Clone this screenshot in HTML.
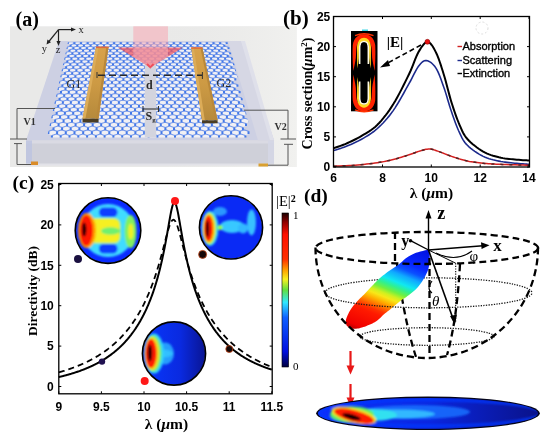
<!DOCTYPE html><html><head><meta charset="utf-8"><style>html,body{margin:0;padding:0;background:#fff;}svg{display:block}text{font-family:"Liberation Serif",serif}.s,.s text{font-family:"Liberation Sans",sans-serif}</style></head><body>
<svg width="550" height="443" viewBox="0 0 550 443">
<defs><linearGradient id="bgR" x1="0" x2="1" y1="0" y2="0"><stop offset="0" stop-color="#e9e9e8" stop-opacity="0"/><stop offset="1" stop-color="#f1f1ef"/></linearGradient>
<filter id="bl15" x="-20%" y="-20%" width="140%" height="140%"><feGaussianBlur stdDeviation="1.3"/></filter>
<filter id="bl1" x="-20%" y="-20%" width="140%" height="140%"><feGaussianBlur stdDeviation="1"/></filter>
<filter id="gblur" x="0" y="0" width="550" height="443" filterUnits="userSpaceOnUse"><feGaussianBlur stdDeviation="0.6"/></filter>
<linearGradient id="gold" x1="0" y1="0" x2="0" y2="1"><stop offset="0" stop-color="#d8a24a"/><stop offset="0.5" stop-color="#cd9a44"/><stop offset="1" stop-color="#b68a3c"/></linearGradient>
<filter id="bl04" x="-5%" y="-5%" width="110%" height="110%"><feGaussianBlur stdDeviation="0.4"/></filter>
<filter id="bl05" x="-20%" y="-20%" width="140%" height="140%"><feGaussianBlur stdDeviation="0.5"/></filter>
<linearGradient id="jet" x1="0" y1="0" x2="0" y2="1"><stop offset="0" stop-color="#1a0000"/><stop offset="0.06" stop-color="#900000"/><stop offset="0.14" stop-color="#ff1000"/><stop offset="0.3" stop-color="#ff3000"/><stop offset="0.37" stop-color="#ffa000"/><stop offset="0.43" stop-color="#f8f020"/><stop offset="0.5" stop-color="#60e040"/><stop offset="0.58" stop-color="#30e8ff"/><stop offset="0.68" stop-color="#1060ff"/><stop offset="0.9" stop-color="#0010e0"/><stop offset="1" stop-color="#000040"/></linearGradient>
<linearGradient id="lobe" gradientUnits="userSpaceOnUse" x1="428.5" y1="249.6" x2="390.1" y2="344.4"><stop offset="0" stop-color="#0010e0"/><stop offset="0.2" stop-color="#0828ff"/><stop offset="0.27" stop-color="#0a50ff"/><stop offset="0.33" stop-color="#10a8ff"/><stop offset="0.41" stop-color="#10e8f0"/><stop offset="0.46" stop-color="#30f090"/><stop offset="0.51" stop-color="#70f040"/><stop offset="0.555" stop-color="#d0f020"/><stop offset="0.59" stop-color="#f8e818"/><stop offset="0.64" stop-color="#ffb000"/><stop offset="0.69" stop-color="#ff7000"/><stop offset="0.74" stop-color="#ff3000"/><stop offset="0.78" stop-color="#ff1a00"/><stop offset="0.95" stop-color="#f00000"/><stop offset="1" stop-color="#b00000"/></linearGradient>
<linearGradient id="g3" x1="0" y1="0" x2="1" y2="0"><stop offset="0" stop-color="#0838ff"/><stop offset="0.6" stop-color="#0a2ae0"/><stop offset="1" stop-color="#0a1490"/></linearGradient>
<linearGradient id="gb" x1="0" y1="0" x2="1" y2="0"><stop offset="0" stop-color="#0a30ff"/><stop offset="0.5" stop-color="#0a26e0"/><stop offset="1" stop-color="#0a1080"/></linearGradient>
</defs>
<rect width="550" height="443" fill="#fff"/><g>
<rect x="10" y="26.3" width="286.5" height="140.7" fill="#e9e9e8"/>
<rect x="150" y="26.3" width="146.5" height="140.7" fill="url(#bgR)"/>
<polygon points="59.0,41.0 241.0,41.0 274.0,140.5 26.0,140.5" fill="#cdd0e3"/>
<polygon points="228.0,41.0 241.0,41.0 274.0,140.5 258.0,140.5" fill="#d6d7e4"/>
<polygon points="241.0,41.0 245.0,41.0 274.0,140.5 270.0,140.5" fill="#dfe0ea"/>
<rect x="26" y="140.5" width="248" height="23.5" fill="#cfd0d9"/>
<rect x="26" y="140.5" width="248" height="3" fill="#dadae3"/>
<rect x="26" y="163.5" width="248" height="2" fill="#e2e2e8"/>
<rect x="26" y="140.5" width="6" height="23" fill="#bcc3e0" opacity="0.8"/>
<rect x="268" y="140.5" width="6" height="23" fill="#d4d6e4" opacity="0.9"/>
<clipPath id="hexclip"><polygon points="68,42 229,42 252,137.5 47,137.5"/></clipPath><g clip-path="url(#hexclip)">
<g filter="url(#bl04)"><path fill="#f1f0f4" d="M71.1,41.3l3.3,0.8v1.7l-3.3,0.8l-3.3,-0.8v-1.7zM77.7,41.3l3.3,0.8v1.7l-3.3,0.8l-3.3,-0.8v-1.7zM84.3,41.3l3.3,0.8v1.7l-3.3,0.8l-3.3,-0.8v-1.7zM91.0,41.3l3.3,0.8v1.7l-3.3,0.8l-3.3,-0.8v-1.7zM97.6,41.3l3.3,0.8v1.7l-3.3,0.8l-3.3,-0.8v-1.7zM104.2,41.3l3.3,0.8v1.7l-3.3,0.8l-3.3,-0.8v-1.7zM110.8,41.3l3.3,0.8v1.7l-3.3,0.8l-3.3,-0.8v-1.7zM117.5,41.3l3.3,0.8v1.7l-3.3,0.8l-3.3,-0.8v-1.7zM124.1,41.3l3.3,0.8v1.7l-3.3,0.8l-3.3,-0.8v-1.7zM130.7,41.3l3.3,0.8v1.7l-3.3,0.8l-3.3,-0.8v-1.7zM137.3,41.3l3.3,0.8v1.7l-3.3,0.8l-3.3,-0.8v-1.7zM143.9,41.3l3.3,0.8v1.7l-3.3,0.8l-3.3,-0.8v-1.7zM150.6,41.3l3.3,0.8v1.7l-3.3,0.8l-3.3,-0.8v-1.7zM157.2,41.3l3.3,0.8v1.7l-3.3,0.8l-3.3,-0.8v-1.7zM163.8,41.3l3.3,0.8v1.7l-3.3,0.8l-3.3,-0.8v-1.7zM170.4,41.3l3.3,0.8v1.7l-3.3,0.8l-3.3,-0.8v-1.7zM177.1,41.3l3.3,0.8v1.7l-3.3,0.8l-3.3,-0.8v-1.7zM183.7,41.3l3.3,0.8v1.7l-3.3,0.8l-3.3,-0.8v-1.7zM190.3,41.3l3.3,0.8v1.7l-3.3,0.8l-3.3,-0.8v-1.7zM196.9,41.3l3.3,0.8v1.7l-3.3,0.8l-3.3,-0.8v-1.7zM203.6,41.3l3.3,0.8v1.7l-3.3,0.8l-3.3,-0.8v-1.7zM210.2,41.3l3.3,0.8v1.7l-3.3,0.8l-3.3,-0.8v-1.7zM216.8,41.3l3.3,0.8v1.7l-3.3,0.8l-3.3,-0.8v-1.7zM223.4,41.3l3.3,0.8v1.7l-3.3,0.8l-3.3,-0.8v-1.7zM73.9,43.8l3.3,0.9v1.7l-3.3,0.9l-3.3,-0.9v-1.7zM80.6,43.8l3.3,0.9v1.7l-3.3,0.9l-3.3,-0.9v-1.7zM87.3,43.8l3.3,0.9v1.7l-3.3,0.9l-3.3,-0.9v-1.7zM94.0,43.8l3.3,0.9v1.7l-3.3,0.9l-3.3,-0.9v-1.7zM100.6,43.8l3.3,0.9v1.7l-3.3,0.9l-3.3,-0.9v-1.7zM107.3,43.8l3.3,0.9v1.7l-3.3,0.9l-3.3,-0.9v-1.7zM114.0,43.8l3.3,0.9v1.7l-3.3,0.9l-3.3,-0.9v-1.7zM120.7,43.8l3.3,0.9v1.7l-3.3,0.9l-3.3,-0.9v-1.7zM127.4,43.8l3.3,0.9v1.7l-3.3,0.9l-3.3,-0.9v-1.7zM134.1,43.8l3.3,0.9v1.7l-3.3,0.9l-3.3,-0.9v-1.7zM140.7,43.8l3.3,0.9v1.7l-3.3,0.9l-3.3,-0.9v-1.7zM147.4,43.8l3.3,0.9v1.7l-3.3,0.9l-3.3,-0.9v-1.7zM154.1,43.8l3.3,0.9v1.7l-3.3,0.9l-3.3,-0.9v-1.7zM160.8,43.8l3.3,0.9v1.7l-3.3,0.9l-3.3,-0.9v-1.7zM167.5,43.8l3.3,0.9v1.7l-3.3,0.9l-3.3,-0.9v-1.7zM174.1,43.8l3.3,0.9v1.7l-3.3,0.9l-3.3,-0.9v-1.7zM180.8,43.8l3.3,0.9v1.7l-3.3,0.9l-3.3,-0.9v-1.7zM187.5,43.8l3.3,0.9v1.7l-3.3,0.9l-3.3,-0.9v-1.7zM194.2,43.8l3.3,0.9v1.7l-3.3,0.9l-3.3,-0.9v-1.7zM200.9,43.8l3.3,0.9v1.7l-3.3,0.9l-3.3,-0.9v-1.7zM207.5,43.8l3.3,0.9v1.7l-3.3,0.9l-3.3,-0.9v-1.7zM214.2,43.8l3.3,0.9v1.7l-3.3,0.9l-3.3,-0.9v-1.7zM220.9,43.8l3.3,0.9v1.7l-3.3,0.9l-3.3,-0.9v-1.7zM70.1,46.3l3.4,0.9v1.7l-3.4,0.9l-3.4,-0.9v-1.7zM76.8,46.3l3.4,0.9v1.7l-3.4,0.9l-3.4,-0.9v-1.7zM83.5,46.3l3.4,0.9v1.7l-3.4,0.9l-3.4,-0.9v-1.7zM90.3,46.3l3.4,0.9v1.7l-3.4,0.9l-3.4,-0.9v-1.7zM97.0,46.3l3.4,0.9v1.7l-3.4,0.9l-3.4,-0.9v-1.7zM103.8,46.3l3.4,0.9v1.7l-3.4,0.9l-3.4,-0.9v-1.7zM110.5,46.3l3.4,0.9v1.7l-3.4,0.9l-3.4,-0.9v-1.7zM117.2,46.3l3.4,0.9v1.7l-3.4,0.9l-3.4,-0.9v-1.7zM124.0,46.3l3.4,0.9v1.7l-3.4,0.9l-3.4,-0.9v-1.7zM130.7,46.3l3.4,0.9v1.7l-3.4,0.9l-3.4,-0.9v-1.7zM137.5,46.3l3.4,0.9v1.7l-3.4,0.9l-3.4,-0.9v-1.7zM144.2,46.3l3.4,0.9v1.7l-3.4,0.9l-3.4,-0.9v-1.7zM150.9,46.3l3.4,0.9v1.7l-3.4,0.9l-3.4,-0.9v-1.7zM157.7,46.3l3.4,0.9v1.7l-3.4,0.9l-3.4,-0.9v-1.7zM164.4,46.3l3.4,0.9v1.7l-3.4,0.9l-3.4,-0.9v-1.7zM171.2,46.3l3.4,0.9v1.7l-3.4,0.9l-3.4,-0.9v-1.7zM177.9,46.3l3.4,0.9v1.7l-3.4,0.9l-3.4,-0.9v-1.7zM184.6,46.3l3.4,0.9v1.7l-3.4,0.9l-3.4,-0.9v-1.7zM191.4,46.3l3.4,0.9v1.7l-3.4,0.9l-3.4,-0.9v-1.7zM198.1,46.3l3.4,0.9v1.7l-3.4,0.9l-3.4,-0.9v-1.7zM204.9,46.3l3.4,0.9v1.7l-3.4,0.9l-3.4,-0.9v-1.7zM211.6,46.3l3.4,0.9v1.7l-3.4,0.9l-3.4,-0.9v-1.7zM218.3,46.3l3.4,0.9v1.7l-3.4,0.9l-3.4,-0.9v-1.7zM225.1,46.3l3.4,0.9v1.7l-3.4,0.9l-3.4,-0.9v-1.7zM72.9,48.9l3.4,0.9v1.8l-3.4,0.9l-3.4,-0.9v-1.8zM79.7,48.9l3.4,0.9v1.8l-3.4,0.9l-3.4,-0.9v-1.8zM86.5,48.9l3.4,0.9v1.8l-3.4,0.9l-3.4,-0.9v-1.8zM93.3,48.9l3.4,0.9v1.8l-3.4,0.9l-3.4,-0.9v-1.8zM100.1,48.9l3.4,0.9v1.8l-3.4,0.9l-3.4,-0.9v-1.8zM106.9,48.9l3.4,0.9v1.8l-3.4,0.9l-3.4,-0.9v-1.8zM113.7,48.9l3.4,0.9v1.8l-3.4,0.9l-3.4,-0.9v-1.8zM120.5,48.9l3.4,0.9v1.8l-3.4,0.9l-3.4,-0.9v-1.8zM127.3,48.9l3.4,0.9v1.8l-3.4,0.9l-3.4,-0.9v-1.8zM134.1,48.9l3.4,0.9v1.8l-3.4,0.9l-3.4,-0.9v-1.8zM140.9,48.9l3.4,0.9v1.8l-3.4,0.9l-3.4,-0.9v-1.8zM147.7,48.9l3.4,0.9v1.8l-3.4,0.9l-3.4,-0.9v-1.8zM154.5,48.9l3.4,0.9v1.8l-3.4,0.9l-3.4,-0.9v-1.8zM161.3,48.9l3.4,0.9v1.8l-3.4,0.9l-3.4,-0.9v-1.8zM168.1,48.9l3.4,0.9v1.8l-3.4,0.9l-3.4,-0.9v-1.8zM174.9,48.9l3.4,0.9v1.8l-3.4,0.9l-3.4,-0.9v-1.8zM181.7,48.9l3.4,0.9v1.8l-3.4,0.9l-3.4,-0.9v-1.8zM188.5,48.9l3.4,0.9v1.8l-3.4,0.9l-3.4,-0.9v-1.8zM195.3,48.9l3.4,0.9v1.8l-3.4,0.9l-3.4,-0.9v-1.8zM202.1,48.9l3.4,0.9v1.8l-3.4,0.9l-3.4,-0.9v-1.8zM208.9,48.9l3.4,0.9v1.8l-3.4,0.9l-3.4,-0.9v-1.8zM215.7,48.9l3.4,0.9v1.8l-3.4,0.9l-3.4,-0.9v-1.8zM222.5,48.9l3.4,0.9v1.8l-3.4,0.9l-3.4,-0.9v-1.8zM69.0,51.5l3.4,0.9v1.8l-3.4,0.9l-3.4,-0.9v-1.8zM75.8,51.5l3.4,0.9v1.8l-3.4,0.9l-3.4,-0.9v-1.8zM82.7,51.5l3.4,0.9v1.8l-3.4,0.9l-3.4,-0.9v-1.8zM89.6,51.5l3.4,0.9v1.8l-3.4,0.9l-3.4,-0.9v-1.8zM96.4,51.5l3.4,0.9v1.8l-3.4,0.9l-3.4,-0.9v-1.8zM103.3,51.5l3.4,0.9v1.8l-3.4,0.9l-3.4,-0.9v-1.8zM110.2,51.5l3.4,0.9v1.8l-3.4,0.9l-3.4,-0.9v-1.8zM117.0,51.5l3.4,0.9v1.8l-3.4,0.9l-3.4,-0.9v-1.8zM123.9,51.5l3.4,0.9v1.8l-3.4,0.9l-3.4,-0.9v-1.8zM130.7,51.5l3.4,0.9v1.8l-3.4,0.9l-3.4,-0.9v-1.8zM137.6,51.5l3.4,0.9v1.8l-3.4,0.9l-3.4,-0.9v-1.8zM144.5,51.5l3.4,0.9v1.8l-3.4,0.9l-3.4,-0.9v-1.8zM151.3,51.5l3.4,0.9v1.8l-3.4,0.9l-3.4,-0.9v-1.8zM158.2,51.5l3.4,0.9v1.8l-3.4,0.9l-3.4,-0.9v-1.8zM165.1,51.5l3.4,0.9v1.8l-3.4,0.9l-3.4,-0.9v-1.8zM171.9,51.5l3.4,0.9v1.8l-3.4,0.9l-3.4,-0.9v-1.8zM178.8,51.5l3.4,0.9v1.8l-3.4,0.9l-3.4,-0.9v-1.8zM185.6,51.5l3.4,0.9v1.8l-3.4,0.9l-3.4,-0.9v-1.8zM192.5,51.5l3.4,0.9v1.8l-3.4,0.9l-3.4,-0.9v-1.8zM199.4,51.5l3.4,0.9v1.8l-3.4,0.9l-3.4,-0.9v-1.8zM206.2,51.5l3.4,0.9v1.8l-3.4,0.9l-3.4,-0.9v-1.8zM213.1,51.5l3.4,0.9v1.8l-3.4,0.9l-3.4,-0.9v-1.8zM219.9,51.5l3.4,0.9v1.8l-3.4,0.9l-3.4,-0.9v-1.8zM226.8,51.5l3.4,0.9v1.8l-3.4,0.9l-3.4,-0.9v-1.8zM71.9,54.2l3.5,0.9v1.8l-3.5,0.9l-3.5,-0.9v-1.8zM78.8,54.2l3.5,0.9v1.8l-3.5,0.9l-3.5,-0.9v-1.8zM85.7,54.2l3.5,0.9v1.8l-3.5,0.9l-3.5,-0.9v-1.8zM92.7,54.2l3.5,0.9v1.8l-3.5,0.9l-3.5,-0.9v-1.8zM99.6,54.2l3.5,0.9v1.8l-3.5,0.9l-3.5,-0.9v-1.8zM106.5,54.2l3.5,0.9v1.8l-3.5,0.9l-3.5,-0.9v-1.8zM113.4,54.2l3.5,0.9v1.8l-3.5,0.9l-3.5,-0.9v-1.8zM120.4,54.2l3.5,0.9v1.8l-3.5,0.9l-3.5,-0.9v-1.8zM127.3,54.2l3.5,0.9v1.8l-3.5,0.9l-3.5,-0.9v-1.8zM134.2,54.2l3.5,0.9v1.8l-3.5,0.9l-3.5,-0.9v-1.8zM141.1,54.2l3.5,0.9v1.8l-3.5,0.9l-3.5,-0.9v-1.8zM148.1,54.2l3.5,0.9v1.8l-3.5,0.9l-3.5,-0.9v-1.8zM155.0,54.2l3.5,0.9v1.8l-3.5,0.9l-3.5,-0.9v-1.8zM161.9,54.2l3.5,0.9v1.8l-3.5,0.9l-3.5,-0.9v-1.8zM168.8,54.2l3.5,0.9v1.8l-3.5,0.9l-3.5,-0.9v-1.8zM175.8,54.2l3.5,0.9v1.8l-3.5,0.9l-3.5,-0.9v-1.8zM182.7,54.2l3.5,0.9v1.8l-3.5,0.9l-3.5,-0.9v-1.8zM189.6,54.2l3.5,0.9v1.8l-3.5,0.9l-3.5,-0.9v-1.8zM196.5,54.2l3.5,0.9v1.8l-3.5,0.9l-3.5,-0.9v-1.8zM203.5,54.2l3.5,0.9v1.8l-3.5,0.9l-3.5,-0.9v-1.8zM210.4,54.2l3.5,0.9v1.8l-3.5,0.9l-3.5,-0.9v-1.8zM217.3,54.2l3.5,0.9v1.8l-3.5,0.9l-3.5,-0.9v-1.8zM224.2,54.2l3.5,0.9v1.8l-3.5,0.9l-3.5,-0.9v-1.8zM67.9,56.9l3.5,0.9v1.9l-3.5,0.9l-3.5,-0.9v-1.9zM74.9,56.9l3.5,0.9v1.9l-3.5,0.9l-3.5,-0.9v-1.9zM81.8,56.9l3.5,0.9v1.9l-3.5,0.9l-3.5,-0.9v-1.9zM88.8,56.9l3.5,0.9v1.9l-3.5,0.9l-3.5,-0.9v-1.9zM95.8,56.9l3.5,0.9v1.9l-3.5,0.9l-3.5,-0.9v-1.9zM102.8,56.9l3.5,0.9v1.9l-3.5,0.9l-3.5,-0.9v-1.9zM109.8,56.9l3.5,0.9v1.9l-3.5,0.9l-3.5,-0.9v-1.9zM116.8,56.9l3.5,0.9v1.9l-3.5,0.9l-3.5,-0.9v-1.9zM123.8,56.9l3.5,0.9v1.9l-3.5,0.9l-3.5,-0.9v-1.9zM130.8,56.9l3.5,0.9v1.9l-3.5,0.9l-3.5,-0.9v-1.9zM137.7,56.9l3.5,0.9v1.9l-3.5,0.9l-3.5,-0.9v-1.9zM144.7,56.9l3.5,0.9v1.9l-3.5,0.9l-3.5,-0.9v-1.9zM151.7,56.9l3.5,0.9v1.9l-3.5,0.9l-3.5,-0.9v-1.9zM158.7,56.9l3.5,0.9v1.9l-3.5,0.9l-3.5,-0.9v-1.9zM165.7,56.9l3.5,0.9v1.9l-3.5,0.9l-3.5,-0.9v-1.9zM172.7,56.9l3.5,0.9v1.9l-3.5,0.9l-3.5,-0.9v-1.9zM179.7,56.9l3.5,0.9v1.9l-3.5,0.9l-3.5,-0.9v-1.9zM186.7,56.9l3.5,0.9v1.9l-3.5,0.9l-3.5,-0.9v-1.9zM193.7,56.9l3.5,0.9v1.9l-3.5,0.9l-3.5,-0.9v-1.9zM200.6,56.9l3.5,0.9v1.9l-3.5,0.9l-3.5,-0.9v-1.9zM207.6,56.9l3.5,0.9v1.9l-3.5,0.9l-3.5,-0.9v-1.9zM214.6,56.9l3.5,0.9v1.9l-3.5,0.9l-3.5,-0.9v-1.9zM221.6,56.9l3.5,0.9v1.9l-3.5,0.9l-3.5,-0.9v-1.9zM228.6,56.9l3.5,0.9v1.9l-3.5,0.9l-3.5,-0.9v-1.9zM70.8,59.7l3.5,0.9v1.9l-3.5,0.9l-3.5,-0.9v-1.9zM77.9,59.7l3.5,0.9v1.9l-3.5,0.9l-3.5,-0.9v-1.9zM84.9,59.7l3.5,0.9v1.9l-3.5,0.9l-3.5,-0.9v-1.9zM92.0,59.7l3.5,0.9v1.9l-3.5,0.9l-3.5,-0.9v-1.9zM99.0,59.7l3.5,0.9v1.9l-3.5,0.9l-3.5,-0.9v-1.9zM106.1,59.7l3.5,0.9v1.9l-3.5,0.9l-3.5,-0.9v-1.9zM113.1,59.7l3.5,0.9v1.9l-3.5,0.9l-3.5,-0.9v-1.9zM120.2,59.7l3.5,0.9v1.9l-3.5,0.9l-3.5,-0.9v-1.9zM127.2,59.7l3.5,0.9v1.9l-3.5,0.9l-3.5,-0.9v-1.9zM134.3,59.7l3.5,0.9v1.9l-3.5,0.9l-3.5,-0.9v-1.9zM141.3,59.7l3.5,0.9v1.9l-3.5,0.9l-3.5,-0.9v-1.9zM148.4,59.7l3.5,0.9v1.9l-3.5,0.9l-3.5,-0.9v-1.9zM155.5,59.7l3.5,0.9v1.9l-3.5,0.9l-3.5,-0.9v-1.9zM162.5,59.7l3.5,0.9v1.9l-3.5,0.9l-3.5,-0.9v-1.9zM169.6,59.7l3.5,0.9v1.9l-3.5,0.9l-3.5,-0.9v-1.9zM176.6,59.7l3.5,0.9v1.9l-3.5,0.9l-3.5,-0.9v-1.9zM183.7,59.7l3.5,0.9v1.9l-3.5,0.9l-3.5,-0.9v-1.9zM190.7,59.7l3.5,0.9v1.9l-3.5,0.9l-3.5,-0.9v-1.9zM197.8,59.7l3.5,0.9v1.9l-3.5,0.9l-3.5,-0.9v-1.9zM204.8,59.7l3.5,0.9v1.9l-3.5,0.9l-3.5,-0.9v-1.9zM211.9,59.7l3.5,0.9v1.9l-3.5,0.9l-3.5,-0.9v-1.9zM218.9,59.7l3.5,0.9v1.9l-3.5,0.9l-3.5,-0.9v-1.9zM226.0,59.7l3.5,0.9v1.9l-3.5,0.9l-3.5,-0.9v-1.9zM66.7,62.5l3.6,1.0v1.9l-3.6,1.0l-3.6,-1.0v-1.9zM73.8,62.5l3.6,1.0v1.9l-3.6,1.0l-3.6,-1.0v-1.9zM80.9,62.5l3.6,1.0v1.9l-3.6,1.0l-3.6,-1.0v-1.9zM88.1,62.5l3.6,1.0v1.9l-3.6,1.0l-3.6,-1.0v-1.9zM95.2,62.5l3.6,1.0v1.9l-3.6,1.0l-3.6,-1.0v-1.9zM102.3,62.5l3.6,1.0v1.9l-3.6,1.0l-3.6,-1.0v-1.9zM109.4,62.5l3.6,1.0v1.9l-3.6,1.0l-3.6,-1.0v-1.9zM116.5,62.5l3.6,1.0v1.9l-3.6,1.0l-3.6,-1.0v-1.9zM123.7,62.5l3.6,1.0v1.9l-3.6,1.0l-3.6,-1.0v-1.9zM130.8,62.5l3.6,1.0v1.9l-3.6,1.0l-3.6,-1.0v-1.9zM137.9,62.5l3.6,1.0v1.9l-3.6,1.0l-3.6,-1.0v-1.9zM145.0,62.5l3.6,1.0v1.9l-3.6,1.0l-3.6,-1.0v-1.9zM152.1,62.5l3.6,1.0v1.9l-3.6,1.0l-3.6,-1.0v-1.9zM159.3,62.5l3.6,1.0v1.9l-3.6,1.0l-3.6,-1.0v-1.9zM166.4,62.5l3.6,1.0v1.9l-3.6,1.0l-3.6,-1.0v-1.9zM173.5,62.5l3.6,1.0v1.9l-3.6,1.0l-3.6,-1.0v-1.9zM180.6,62.5l3.6,1.0v1.9l-3.6,1.0l-3.6,-1.0v-1.9zM187.7,62.5l3.6,1.0v1.9l-3.6,1.0l-3.6,-1.0v-1.9zM194.8,62.5l3.6,1.0v1.9l-3.6,1.0l-3.6,-1.0v-1.9zM202.0,62.5l3.6,1.0v1.9l-3.6,1.0l-3.6,-1.0v-1.9zM209.1,62.5l3.6,1.0v1.9l-3.6,1.0l-3.6,-1.0v-1.9zM216.2,62.5l3.6,1.0v1.9l-3.6,1.0l-3.6,-1.0v-1.9zM223.3,62.5l3.6,1.0v1.9l-3.6,1.0l-3.6,-1.0v-1.9zM230.4,62.5l3.6,1.0v1.9l-3.6,1.0l-3.6,-1.0v-1.9zM69.7,65.3l3.6,1.0v2.0l-3.6,1.0l-3.6,-1.0v-2.0zM76.9,65.3l3.6,1.0v2.0l-3.6,1.0l-3.6,-1.0v-2.0zM84.1,65.3l3.6,1.0v2.0l-3.6,1.0l-3.6,-1.0v-2.0zM91.3,65.3l3.6,1.0v2.0l-3.6,1.0l-3.6,-1.0v-2.0zM98.5,65.3l3.6,1.0v2.0l-3.6,1.0l-3.6,-1.0v-2.0zM105.6,65.3l3.6,1.0v2.0l-3.6,1.0l-3.6,-1.0v-2.0zM112.8,65.3l3.6,1.0v2.0l-3.6,1.0l-3.6,-1.0v-2.0zM120.0,65.3l3.6,1.0v2.0l-3.6,1.0l-3.6,-1.0v-2.0zM127.2,65.3l3.6,1.0v2.0l-3.6,1.0l-3.6,-1.0v-2.0zM134.4,65.3l3.6,1.0v2.0l-3.6,1.0l-3.6,-1.0v-2.0zM141.6,65.3l3.6,1.0v2.0l-3.6,1.0l-3.6,-1.0v-2.0zM148.8,65.3l3.6,1.0v2.0l-3.6,1.0l-3.6,-1.0v-2.0zM155.9,65.3l3.6,1.0v2.0l-3.6,1.0l-3.6,-1.0v-2.0zM163.1,65.3l3.6,1.0v2.0l-3.6,1.0l-3.6,-1.0v-2.0zM170.3,65.3l3.6,1.0v2.0l-3.6,1.0l-3.6,-1.0v-2.0zM177.5,65.3l3.6,1.0v2.0l-3.6,1.0l-3.6,-1.0v-2.0zM184.7,65.3l3.6,1.0v2.0l-3.6,1.0l-3.6,-1.0v-2.0zM191.9,65.3l3.6,1.0v2.0l-3.6,1.0l-3.6,-1.0v-2.0zM199.0,65.3l3.6,1.0v2.0l-3.6,1.0l-3.6,-1.0v-2.0zM206.2,65.3l3.6,1.0v2.0l-3.6,1.0l-3.6,-1.0v-2.0zM213.4,65.3l3.6,1.0v2.0l-3.6,1.0l-3.6,-1.0v-2.0zM220.6,65.3l3.6,1.0v2.0l-3.6,1.0l-3.6,-1.0v-2.0zM227.8,65.3l3.6,1.0v2.0l-3.6,1.0l-3.6,-1.0v-2.0zM65.5,68.2l3.6,1.0v2.0l-3.6,1.0l-3.6,-1.0v-2.0zM72.8,68.2l3.6,1.0v2.0l-3.6,1.0l-3.6,-1.0v-2.0zM80.0,68.2l3.6,1.0v2.0l-3.6,1.0l-3.6,-1.0v-2.0zM87.3,68.2l3.6,1.0v2.0l-3.6,1.0l-3.6,-1.0v-2.0zM94.5,68.2l3.6,1.0v2.0l-3.6,1.0l-3.6,-1.0v-2.0zM101.8,68.2l3.6,1.0v2.0l-3.6,1.0l-3.6,-1.0v-2.0zM109.0,68.2l3.6,1.0v2.0l-3.6,1.0l-3.6,-1.0v-2.0zM116.3,68.2l3.6,1.0v2.0l-3.6,1.0l-3.6,-1.0v-2.0zM123.5,68.2l3.6,1.0v2.0l-3.6,1.0l-3.6,-1.0v-2.0zM130.8,68.2l3.6,1.0v2.0l-3.6,1.0l-3.6,-1.0v-2.0zM138.1,68.2l3.6,1.0v2.0l-3.6,1.0l-3.6,-1.0v-2.0zM145.3,68.2l3.6,1.0v2.0l-3.6,1.0l-3.6,-1.0v-2.0zM152.6,68.2l3.6,1.0v2.0l-3.6,1.0l-3.6,-1.0v-2.0zM159.8,68.2l3.6,1.0v2.0l-3.6,1.0l-3.6,-1.0v-2.0zM167.1,68.2l3.6,1.0v2.0l-3.6,1.0l-3.6,-1.0v-2.0zM174.3,68.2l3.6,1.0v2.0l-3.6,1.0l-3.6,-1.0v-2.0zM181.6,68.2l3.6,1.0v2.0l-3.6,1.0l-3.6,-1.0v-2.0zM188.8,68.2l3.6,1.0v2.0l-3.6,1.0l-3.6,-1.0v-2.0zM196.1,68.2l3.6,1.0v2.0l-3.6,1.0l-3.6,-1.0v-2.0zM203.3,68.2l3.6,1.0v2.0l-3.6,1.0l-3.6,-1.0v-2.0zM210.6,68.2l3.6,1.0v2.0l-3.6,1.0l-3.6,-1.0v-2.0zM217.8,68.2l3.6,1.0v2.0l-3.6,1.0l-3.6,-1.0v-2.0zM225.1,68.2l3.6,1.0v2.0l-3.6,1.0l-3.6,-1.0v-2.0zM232.3,68.2l3.6,1.0v2.0l-3.6,1.0l-3.6,-1.0v-2.0zM68.6,71.2l3.7,1.0v2.0l-3.7,1.0l-3.7,-1.0v-2.0zM75.9,71.2l3.7,1.0v2.0l-3.7,1.0l-3.7,-1.0v-2.0zM83.2,71.2l3.7,1.0v2.0l-3.7,1.0l-3.7,-1.0v-2.0zM90.5,71.2l3.7,1.0v2.0l-3.7,1.0l-3.7,-1.0v-2.0zM97.9,71.2l3.7,1.0v2.0l-3.7,1.0l-3.7,-1.0v-2.0zM105.2,71.2l3.7,1.0v2.0l-3.7,1.0l-3.7,-1.0v-2.0zM112.5,71.2l3.7,1.0v2.0l-3.7,1.0l-3.7,-1.0v-2.0zM119.8,71.2l3.7,1.0v2.0l-3.7,1.0l-3.7,-1.0v-2.0zM127.1,71.2l3.7,1.0v2.0l-3.7,1.0l-3.7,-1.0v-2.0zM134.5,71.2l3.7,1.0v2.0l-3.7,1.0l-3.7,-1.0v-2.0zM141.8,71.2l3.7,1.0v2.0l-3.7,1.0l-3.7,-1.0v-2.0zM149.1,71.2l3.7,1.0v2.0l-3.7,1.0l-3.7,-1.0v-2.0zM156.4,71.2l3.7,1.0v2.0l-3.7,1.0l-3.7,-1.0v-2.0zM163.8,71.2l3.7,1.0v2.0l-3.7,1.0l-3.7,-1.0v-2.0zM171.1,71.2l3.7,1.0v2.0l-3.7,1.0l-3.7,-1.0v-2.0zM178.4,71.2l3.7,1.0v2.0l-3.7,1.0l-3.7,-1.0v-2.0zM185.7,71.2l3.7,1.0v2.0l-3.7,1.0l-3.7,-1.0v-2.0zM193.0,71.2l3.7,1.0v2.0l-3.7,1.0l-3.7,-1.0v-2.0zM200.4,71.2l3.7,1.0v2.0l-3.7,1.0l-3.7,-1.0v-2.0zM207.7,71.2l3.7,1.0v2.0l-3.7,1.0l-3.7,-1.0v-2.0zM215.0,71.2l3.7,1.0v2.0l-3.7,1.0l-3.7,-1.0v-2.0zM222.3,71.2l3.7,1.0v2.0l-3.7,1.0l-3.7,-1.0v-2.0zM229.7,71.2l3.7,1.0v2.0l-3.7,1.0l-3.7,-1.0v-2.0zM64.3,74.2l3.7,1.0v2.1l-3.7,1.0l-3.7,-1.0v-2.1zM71.7,74.2l3.7,1.0v2.1l-3.7,1.0l-3.7,-1.0v-2.1zM79.1,74.2l3.7,1.0v2.1l-3.7,1.0l-3.7,-1.0v-2.1zM86.5,74.2l3.7,1.0v2.1l-3.7,1.0l-3.7,-1.0v-2.1zM93.9,74.2l3.7,1.0v2.1l-3.7,1.0l-3.7,-1.0v-2.1zM101.2,74.2l3.7,1.0v2.1l-3.7,1.0l-3.7,-1.0v-2.1zM108.6,74.2l3.7,1.0v2.1l-3.7,1.0l-3.7,-1.0v-2.1zM116.0,74.2l3.7,1.0v2.1l-3.7,1.0l-3.7,-1.0v-2.1zM123.4,74.2l3.7,1.0v2.1l-3.7,1.0l-3.7,-1.0v-2.1zM130.8,74.2l3.7,1.0v2.1l-3.7,1.0l-3.7,-1.0v-2.1zM138.2,74.2l3.7,1.0v2.1l-3.7,1.0l-3.7,-1.0v-2.1zM145.6,74.2l3.7,1.0v2.1l-3.7,1.0l-3.7,-1.0v-2.1zM153.0,74.2l3.7,1.0v2.1l-3.7,1.0l-3.7,-1.0v-2.1zM160.4,74.2l3.7,1.0v2.1l-3.7,1.0l-3.7,-1.0v-2.1zM167.8,74.2l3.7,1.0v2.1l-3.7,1.0l-3.7,-1.0v-2.1zM175.2,74.2l3.7,1.0v2.1l-3.7,1.0l-3.7,-1.0v-2.1zM182.6,74.2l3.7,1.0v2.1l-3.7,1.0l-3.7,-1.0v-2.1zM190.0,74.2l3.7,1.0v2.1l-3.7,1.0l-3.7,-1.0v-2.1zM197.4,74.2l3.7,1.0v2.1l-3.7,1.0l-3.7,-1.0v-2.1zM204.7,74.2l3.7,1.0v2.1l-3.7,1.0l-3.7,-1.0v-2.1zM212.1,74.2l3.7,1.0v2.1l-3.7,1.0l-3.7,-1.0v-2.1zM219.5,74.2l3.7,1.0v2.1l-3.7,1.0l-3.7,-1.0v-2.1zM226.9,74.2l3.7,1.0v2.1l-3.7,1.0l-3.7,-1.0v-2.1zM234.3,74.2l3.7,1.0v2.1l-3.7,1.0l-3.7,-1.0v-2.1zM67.4,77.2l3.7,1.0v2.1l-3.7,1.0l-3.7,-1.0v-2.1zM74.8,77.2l3.7,1.0v2.1l-3.7,1.0l-3.7,-1.0v-2.1zM82.3,77.2l3.7,1.0v2.1l-3.7,1.0l-3.7,-1.0v-2.1zM89.8,77.2l3.7,1.0v2.1l-3.7,1.0l-3.7,-1.0v-2.1zM97.2,77.2l3.7,1.0v2.1l-3.7,1.0l-3.7,-1.0v-2.1zM104.7,77.2l3.7,1.0v2.1l-3.7,1.0l-3.7,-1.0v-2.1zM112.2,77.2l3.7,1.0v2.1l-3.7,1.0l-3.7,-1.0v-2.1zM119.6,77.2l3.7,1.0v2.1l-3.7,1.0l-3.7,-1.0v-2.1zM127.1,77.2l3.7,1.0v2.1l-3.7,1.0l-3.7,-1.0v-2.1zM134.6,77.2l3.7,1.0v2.1l-3.7,1.0l-3.7,-1.0v-2.1zM142.0,77.2l3.7,1.0v2.1l-3.7,1.0l-3.7,-1.0v-2.1zM149.5,77.2l3.7,1.0v2.1l-3.7,1.0l-3.7,-1.0v-2.1zM157.0,77.2l3.7,1.0v2.1l-3.7,1.0l-3.7,-1.0v-2.1zM164.4,77.2l3.7,1.0v2.1l-3.7,1.0l-3.7,-1.0v-2.1zM171.9,77.2l3.7,1.0v2.1l-3.7,1.0l-3.7,-1.0v-2.1zM179.3,77.2l3.7,1.0v2.1l-3.7,1.0l-3.7,-1.0v-2.1zM186.8,77.2l3.7,1.0v2.1l-3.7,1.0l-3.7,-1.0v-2.1zM194.3,77.2l3.7,1.0v2.1l-3.7,1.0l-3.7,-1.0v-2.1zM201.7,77.2l3.7,1.0v2.1l-3.7,1.0l-3.7,-1.0v-2.1zM209.2,77.2l3.7,1.0v2.1l-3.7,1.0l-3.7,-1.0v-2.1zM216.7,77.2l3.7,1.0v2.1l-3.7,1.0l-3.7,-1.0v-2.1zM224.1,77.2l3.7,1.0v2.1l-3.7,1.0l-3.7,-1.0v-2.1zM231.6,77.2l3.7,1.0v2.1l-3.7,1.0l-3.7,-1.0v-2.1zM63.0,80.3l3.8,1.1v2.1l-3.8,1.1l-3.8,-1.1v-2.1zM70.5,80.3l3.8,1.1v2.1l-3.8,1.1l-3.8,-1.1v-2.1zM78.1,80.3l3.8,1.1v2.1l-3.8,1.1l-3.8,-1.1v-2.1zM85.6,80.3l3.8,1.1v2.1l-3.8,1.1l-3.8,-1.1v-2.1zM93.2,80.3l3.8,1.1v2.1l-3.8,1.1l-3.8,-1.1v-2.1zM100.7,80.3l3.8,1.1v2.1l-3.8,1.1l-3.8,-1.1v-2.1zM108.2,80.3l3.8,1.1v2.1l-3.8,1.1l-3.8,-1.1v-2.1zM115.8,80.3l3.8,1.1v2.1l-3.8,1.1l-3.8,-1.1v-2.1zM123.3,80.3l3.8,1.1v2.1l-3.8,1.1l-3.8,-1.1v-2.1zM130.8,80.3l3.8,1.1v2.1l-3.8,1.1l-3.8,-1.1v-2.1zM138.4,80.3l3.8,1.1v2.1l-3.8,1.1l-3.8,-1.1v-2.1zM145.9,80.3l3.8,1.1v2.1l-3.8,1.1l-3.8,-1.1v-2.1zM153.5,80.3l3.8,1.1v2.1l-3.8,1.1l-3.8,-1.1v-2.1zM161.0,80.3l3.8,1.1v2.1l-3.8,1.1l-3.8,-1.1v-2.1zM168.5,80.3l3.8,1.1v2.1l-3.8,1.1l-3.8,-1.1v-2.1zM176.1,80.3l3.8,1.1v2.1l-3.8,1.1l-3.8,-1.1v-2.1zM183.6,80.3l3.8,1.1v2.1l-3.8,1.1l-3.8,-1.1v-2.1zM191.1,80.3l3.8,1.1v2.1l-3.8,1.1l-3.8,-1.1v-2.1zM198.7,80.3l3.8,1.1v2.1l-3.8,1.1l-3.8,-1.1v-2.1zM206.2,80.3l3.8,1.1v2.1l-3.8,1.1l-3.8,-1.1v-2.1zM213.8,80.3l3.8,1.1v2.1l-3.8,1.1l-3.8,-1.1v-2.1zM221.3,80.3l3.8,1.1v2.1l-3.8,1.1l-3.8,-1.1v-2.1zM228.8,80.3l3.8,1.1v2.1l-3.8,1.1l-3.8,-1.1v-2.1zM66.2,83.5l3.8,1.1v2.2l-3.8,1.1l-3.8,-1.1v-2.2zM73.8,83.5l3.8,1.1v2.2l-3.8,1.1l-3.8,-1.1v-2.2zM81.4,83.5l3.8,1.1v2.2l-3.8,1.1l-3.8,-1.1v-2.2zM89.0,83.5l3.8,1.1v2.2l-3.8,1.1l-3.8,-1.1v-2.2zM96.6,83.5l3.8,1.1v2.2l-3.8,1.1l-3.8,-1.1v-2.2zM104.2,83.5l3.8,1.1v2.2l-3.8,1.1l-3.8,-1.1v-2.2zM111.8,83.5l3.8,1.1v2.2l-3.8,1.1l-3.8,-1.1v-2.2zM119.4,83.5l3.8,1.1v2.2l-3.8,1.1l-3.8,-1.1v-2.2zM127.0,83.5l3.8,1.1v2.2l-3.8,1.1l-3.8,-1.1v-2.2zM134.7,83.5l3.8,1.1v2.2l-3.8,1.1l-3.8,-1.1v-2.2zM142.3,83.5l3.8,1.1v2.2l-3.8,1.1l-3.8,-1.1v-2.2zM149.9,83.5l3.8,1.1v2.2l-3.8,1.1l-3.8,-1.1v-2.2zM157.5,83.5l3.8,1.1v2.2l-3.8,1.1l-3.8,-1.1v-2.2zM165.1,83.5l3.8,1.1v2.2l-3.8,1.1l-3.8,-1.1v-2.2zM172.7,83.5l3.8,1.1v2.2l-3.8,1.1l-3.8,-1.1v-2.2zM180.3,83.5l3.8,1.1v2.2l-3.8,1.1l-3.8,-1.1v-2.2zM187.9,83.5l3.8,1.1v2.2l-3.8,1.1l-3.8,-1.1v-2.2zM195.5,83.5l3.8,1.1v2.2l-3.8,1.1l-3.8,-1.1v-2.2zM203.2,83.5l3.8,1.1v2.2l-3.8,1.1l-3.8,-1.1v-2.2zM210.8,83.5l3.8,1.1v2.2l-3.8,1.1l-3.8,-1.1v-2.2zM218.4,83.5l3.8,1.1v2.2l-3.8,1.1l-3.8,-1.1v-2.2zM226.0,83.5l3.8,1.1v2.2l-3.8,1.1l-3.8,-1.1v-2.2zM233.6,83.5l3.8,1.1v2.2l-3.8,1.1l-3.8,-1.1v-2.2zM61.7,86.7l3.8,1.1v2.2l-3.8,1.1l-3.8,-1.1v-2.2zM69.4,86.7l3.8,1.1v2.2l-3.8,1.1l-3.8,-1.1v-2.2zM77.1,86.7l3.8,1.1v2.2l-3.8,1.1l-3.8,-1.1v-2.2zM84.7,86.7l3.8,1.1v2.2l-3.8,1.1l-3.8,-1.1v-2.2zM92.4,86.7l3.8,1.1v2.2l-3.8,1.1l-3.8,-1.1v-2.2zM100.1,86.7l3.8,1.1v2.2l-3.8,1.1l-3.8,-1.1v-2.2zM107.8,86.7l3.8,1.1v2.2l-3.8,1.1l-3.8,-1.1v-2.2zM115.5,86.7l3.8,1.1v2.2l-3.8,1.1l-3.8,-1.1v-2.2zM123.2,86.7l3.8,1.1v2.2l-3.8,1.1l-3.8,-1.1v-2.2zM130.9,86.7l3.8,1.1v2.2l-3.8,1.1l-3.8,-1.1v-2.2zM138.6,86.7l3.8,1.1v2.2l-3.8,1.1l-3.8,-1.1v-2.2zM146.2,86.7l3.8,1.1v2.2l-3.8,1.1l-3.8,-1.1v-2.2zM153.9,86.7l3.8,1.1v2.2l-3.8,1.1l-3.8,-1.1v-2.2zM161.6,86.7l3.8,1.1v2.2l-3.8,1.1l-3.8,-1.1v-2.2zM169.3,86.7l3.8,1.1v2.2l-3.8,1.1l-3.8,-1.1v-2.2zM177.0,86.7l3.8,1.1v2.2l-3.8,1.1l-3.8,-1.1v-2.2zM184.7,86.7l3.8,1.1v2.2l-3.8,1.1l-3.8,-1.1v-2.2zM192.4,86.7l3.8,1.1v2.2l-3.8,1.1l-3.8,-1.1v-2.2zM200.0,86.7l3.8,1.1v2.2l-3.8,1.1l-3.8,-1.1v-2.2zM207.7,86.7l3.8,1.1v2.2l-3.8,1.1l-3.8,-1.1v-2.2zM215.4,86.7l3.8,1.1v2.2l-3.8,1.1l-3.8,-1.1v-2.2zM223.1,86.7l3.8,1.1v2.2l-3.8,1.1l-3.8,-1.1v-2.2zM230.8,86.7l3.8,1.1v2.2l-3.8,1.1l-3.8,-1.1v-2.2zM64.9,90.0l3.9,1.1v2.2l-3.9,1.1l-3.9,-1.1v-2.2zM72.6,90.0l3.9,1.1v2.2l-3.9,1.1l-3.9,-1.1v-2.2zM80.4,90.0l3.9,1.1v2.2l-3.9,1.1l-3.9,-1.1v-2.2zM88.2,90.0l3.9,1.1v2.2l-3.9,1.1l-3.9,-1.1v-2.2zM95.9,90.0l3.9,1.1v2.2l-3.9,1.1l-3.9,-1.1v-2.2zM103.7,90.0l3.9,1.1v2.2l-3.9,1.1l-3.9,-1.1v-2.2zM111.5,90.0l3.9,1.1v2.2l-3.9,1.1l-3.9,-1.1v-2.2zM119.2,90.0l3.9,1.1v2.2l-3.9,1.1l-3.9,-1.1v-2.2zM127.0,90.0l3.9,1.1v2.2l-3.9,1.1l-3.9,-1.1v-2.2zM134.8,90.0l3.9,1.1v2.2l-3.9,1.1l-3.9,-1.1v-2.2zM142.5,90.0l3.9,1.1v2.2l-3.9,1.1l-3.9,-1.1v-2.2zM150.3,90.0l3.9,1.1v2.2l-3.9,1.1l-3.9,-1.1v-2.2zM158.0,90.0l3.9,1.1v2.2l-3.9,1.1l-3.9,-1.1v-2.2zM165.8,90.0l3.9,1.1v2.2l-3.9,1.1l-3.9,-1.1v-2.2zM173.6,90.0l3.9,1.1v2.2l-3.9,1.1l-3.9,-1.1v-2.2zM181.3,90.0l3.9,1.1v2.2l-3.9,1.1l-3.9,-1.1v-2.2zM189.1,90.0l3.9,1.1v2.2l-3.9,1.1l-3.9,-1.1v-2.2zM196.9,90.0l3.9,1.1v2.2l-3.9,1.1l-3.9,-1.1v-2.2zM204.6,90.0l3.9,1.1v2.2l-3.9,1.1l-3.9,-1.1v-2.2zM212.4,90.0l3.9,1.1v2.2l-3.9,1.1l-3.9,-1.1v-2.2zM220.2,90.0l3.9,1.1v2.2l-3.9,1.1l-3.9,-1.1v-2.2zM227.9,90.0l3.9,1.1v2.2l-3.9,1.1l-3.9,-1.1v-2.2zM235.7,90.0l3.9,1.1v2.2l-3.9,1.1l-3.9,-1.1v-2.2zM60.3,93.3l3.9,1.1v2.3l-3.9,1.1l-3.9,-1.1v-2.3zM68.2,93.3l3.9,1.1v2.3l-3.9,1.1l-3.9,-1.1v-2.3zM76.0,93.3l3.9,1.1v2.3l-3.9,1.1l-3.9,-1.1v-2.3zM83.8,93.3l3.9,1.1v2.3l-3.9,1.1l-3.9,-1.1v-2.3zM91.7,93.3l3.9,1.1v2.3l-3.9,1.1l-3.9,-1.1v-2.3zM99.5,93.3l3.9,1.1v2.3l-3.9,1.1l-3.9,-1.1v-2.3zM107.4,93.3l3.9,1.1v2.3l-3.9,1.1l-3.9,-1.1v-2.3zM115.2,93.3l3.9,1.1v2.3l-3.9,1.1l-3.9,-1.1v-2.3zM123.0,93.3l3.9,1.1v2.3l-3.9,1.1l-3.9,-1.1v-2.3zM130.9,93.3l3.9,1.1v2.3l-3.9,1.1l-3.9,-1.1v-2.3zM138.7,93.3l3.9,1.1v2.3l-3.9,1.1l-3.9,-1.1v-2.3zM146.6,93.3l3.9,1.1v2.3l-3.9,1.1l-3.9,-1.1v-2.3zM154.4,93.3l3.9,1.1v2.3l-3.9,1.1l-3.9,-1.1v-2.3zM162.3,93.3l3.9,1.1v2.3l-3.9,1.1l-3.9,-1.1v-2.3zM170.1,93.3l3.9,1.1v2.3l-3.9,1.1l-3.9,-1.1v-2.3zM177.9,93.3l3.9,1.1v2.3l-3.9,1.1l-3.9,-1.1v-2.3zM185.8,93.3l3.9,1.1v2.3l-3.9,1.1l-3.9,-1.1v-2.3zM193.6,93.3l3.9,1.1v2.3l-3.9,1.1l-3.9,-1.1v-2.3zM201.5,93.3l3.9,1.1v2.3l-3.9,1.1l-3.9,-1.1v-2.3zM209.3,93.3l3.9,1.1v2.3l-3.9,1.1l-3.9,-1.1v-2.3zM217.1,93.3l3.9,1.1v2.3l-3.9,1.1l-3.9,-1.1v-2.3zM225.0,93.3l3.9,1.1v2.3l-3.9,1.1l-3.9,-1.1v-2.3zM232.8,93.3l3.9,1.1v2.3l-3.9,1.1l-3.9,-1.1v-2.3zM63.6,96.7l4.0,1.2v2.3l-4.0,1.2l-4.0,-1.2v-2.3zM71.5,96.7l4.0,1.2v2.3l-4.0,1.2l-4.0,-1.2v-2.3zM79.4,96.7l4.0,1.2v2.3l-4.0,1.2l-4.0,-1.2v-2.3zM87.3,96.7l4.0,1.2v2.3l-4.0,1.2l-4.0,-1.2v-2.3zM95.3,96.7l4.0,1.2v2.3l-4.0,1.2l-4.0,-1.2v-2.3zM103.2,96.7l4.0,1.2v2.3l-4.0,1.2l-4.0,-1.2v-2.3zM111.1,96.7l4.0,1.2v2.3l-4.0,1.2l-4.0,-1.2v-2.3zM119.0,96.7l4.0,1.2v2.3l-4.0,1.2l-4.0,-1.2v-2.3zM126.9,96.7l4.0,1.2v2.3l-4.0,1.2l-4.0,-1.2v-2.3zM134.9,96.7l4.0,1.2v2.3l-4.0,1.2l-4.0,-1.2v-2.3zM142.8,96.7l4.0,1.2v2.3l-4.0,1.2l-4.0,-1.2v-2.3zM150.7,96.7l4.0,1.2v2.3l-4.0,1.2l-4.0,-1.2v-2.3zM158.6,96.7l4.0,1.2v2.3l-4.0,1.2l-4.0,-1.2v-2.3zM166.5,96.7l4.0,1.2v2.3l-4.0,1.2l-4.0,-1.2v-2.3zM174.5,96.7l4.0,1.2v2.3l-4.0,1.2l-4.0,-1.2v-2.3zM182.4,96.7l4.0,1.2v2.3l-4.0,1.2l-4.0,-1.2v-2.3zM190.3,96.7l4.0,1.2v2.3l-4.0,1.2l-4.0,-1.2v-2.3zM198.2,96.7l4.0,1.2v2.3l-4.0,1.2l-4.0,-1.2v-2.3zM206.1,96.7l4.0,1.2v2.3l-4.0,1.2l-4.0,-1.2v-2.3zM214.1,96.7l4.0,1.2v2.3l-4.0,1.2l-4.0,-1.2v-2.3zM222.0,96.7l4.0,1.2v2.3l-4.0,1.2l-4.0,-1.2v-2.3zM229.9,96.7l4.0,1.2v2.3l-4.0,1.2l-4.0,-1.2v-2.3zM237.8,96.7l4.0,1.2v2.3l-4.0,1.2l-4.0,-1.2v-2.3zM58.9,100.2l4.0,1.2v2.4l-4.0,1.2l-4.0,-1.2v-2.4zM66.9,100.2l4.0,1.2v2.4l-4.0,1.2l-4.0,-1.2v-2.4zM74.9,100.2l4.0,1.2v2.4l-4.0,1.2l-4.0,-1.2v-2.4zM82.9,100.2l4.0,1.2v2.4l-4.0,1.2l-4.0,-1.2v-2.4zM90.9,100.2l4.0,1.2v2.4l-4.0,1.2l-4.0,-1.2v-2.4zM98.9,100.2l4.0,1.2v2.4l-4.0,1.2l-4.0,-1.2v-2.4zM106.9,100.2l4.0,1.2v2.4l-4.0,1.2l-4.0,-1.2v-2.4zM114.9,100.2l4.0,1.2v2.4l-4.0,1.2l-4.0,-1.2v-2.4zM122.9,100.2l4.0,1.2v2.4l-4.0,1.2l-4.0,-1.2v-2.4zM130.9,100.2l4.0,1.2v2.4l-4.0,1.2l-4.0,-1.2v-2.4zM138.9,100.2l4.0,1.2v2.4l-4.0,1.2l-4.0,-1.2v-2.4zM146.9,100.2l4.0,1.2v2.4l-4.0,1.2l-4.0,-1.2v-2.4zM154.9,100.2l4.0,1.2v2.4l-4.0,1.2l-4.0,-1.2v-2.4zM162.9,100.2l4.0,1.2v2.4l-4.0,1.2l-4.0,-1.2v-2.4zM170.9,100.2l4.0,1.2v2.4l-4.0,1.2l-4.0,-1.2v-2.4zM178.9,100.2l4.0,1.2v2.4l-4.0,1.2l-4.0,-1.2v-2.4zM186.9,100.2l4.0,1.2v2.4l-4.0,1.2l-4.0,-1.2v-2.4zM194.9,100.2l4.0,1.2v2.4l-4.0,1.2l-4.0,-1.2v-2.4zM202.9,100.2l4.0,1.2v2.4l-4.0,1.2l-4.0,-1.2v-2.4zM210.9,100.2l4.0,1.2v2.4l-4.0,1.2l-4.0,-1.2v-2.4zM218.9,100.2l4.0,1.2v2.4l-4.0,1.2l-4.0,-1.2v-2.4zM226.9,100.2l4.0,1.2v2.4l-4.0,1.2l-4.0,-1.2v-2.4zM234.9,100.2l4.0,1.2v2.4l-4.0,1.2l-4.0,-1.2v-2.4zM62.2,103.7l4.0,1.2v2.4l-4.0,1.2l-4.0,-1.2v-2.4zM70.3,103.7l4.0,1.2v2.4l-4.0,1.2l-4.0,-1.2v-2.4zM78.4,103.7l4.0,1.2v2.4l-4.0,1.2l-4.0,-1.2v-2.4zM86.5,103.7l4.0,1.2v2.4l-4.0,1.2l-4.0,-1.2v-2.4zM94.5,103.7l4.0,1.2v2.4l-4.0,1.2l-4.0,-1.2v-2.4zM102.6,103.7l4.0,1.2v2.4l-4.0,1.2l-4.0,-1.2v-2.4zM110.7,103.7l4.0,1.2v2.4l-4.0,1.2l-4.0,-1.2v-2.4zM118.8,103.7l4.0,1.2v2.4l-4.0,1.2l-4.0,-1.2v-2.4zM126.9,103.7l4.0,1.2v2.4l-4.0,1.2l-4.0,-1.2v-2.4zM135.0,103.7l4.0,1.2v2.4l-4.0,1.2l-4.0,-1.2v-2.4zM143.1,103.7l4.0,1.2v2.4l-4.0,1.2l-4.0,-1.2v-2.4zM151.1,103.7l4.0,1.2v2.4l-4.0,1.2l-4.0,-1.2v-2.4zM159.2,103.7l4.0,1.2v2.4l-4.0,1.2l-4.0,-1.2v-2.4zM167.3,103.7l4.0,1.2v2.4l-4.0,1.2l-4.0,-1.2v-2.4zM175.4,103.7l4.0,1.2v2.4l-4.0,1.2l-4.0,-1.2v-2.4zM183.5,103.7l4.0,1.2v2.4l-4.0,1.2l-4.0,-1.2v-2.4zM191.6,103.7l4.0,1.2v2.4l-4.0,1.2l-4.0,-1.2v-2.4zM199.6,103.7l4.0,1.2v2.4l-4.0,1.2l-4.0,-1.2v-2.4zM207.7,103.7l4.0,1.2v2.4l-4.0,1.2l-4.0,-1.2v-2.4zM215.8,103.7l4.0,1.2v2.4l-4.0,1.2l-4.0,-1.2v-2.4zM223.9,103.7l4.0,1.2v2.4l-4.0,1.2l-4.0,-1.2v-2.4zM232.0,103.7l4.0,1.2v2.4l-4.0,1.2l-4.0,-1.2v-2.4zM240.1,103.7l4.0,1.2v2.4l-4.0,1.2l-4.0,-1.2v-2.4zM57.4,107.2l4.1,1.2v2.4l-4.1,1.2l-4.1,-1.2v-2.4zM65.6,107.2l4.1,1.2v2.4l-4.1,1.2l-4.1,-1.2v-2.4zM73.8,107.2l4.1,1.2v2.4l-4.1,1.2l-4.1,-1.2v-2.4zM81.9,107.2l4.1,1.2v2.4l-4.1,1.2l-4.1,-1.2v-2.4zM90.1,107.2l4.1,1.2v2.4l-4.1,1.2l-4.1,-1.2v-2.4zM98.3,107.2l4.1,1.2v2.4l-4.1,1.2l-4.1,-1.2v-2.4zM106.4,107.2l4.1,1.2v2.4l-4.1,1.2l-4.1,-1.2v-2.4zM114.6,107.2l4.1,1.2v2.4l-4.1,1.2l-4.1,-1.2v-2.4zM122.8,107.2l4.1,1.2v2.4l-4.1,1.2l-4.1,-1.2v-2.4zM130.9,107.2l4.1,1.2v2.4l-4.1,1.2l-4.1,-1.2v-2.4zM139.1,107.2l4.1,1.2v2.4l-4.1,1.2l-4.1,-1.2v-2.4zM147.3,107.2l4.1,1.2v2.4l-4.1,1.2l-4.1,-1.2v-2.4zM155.4,107.2l4.1,1.2v2.4l-4.1,1.2l-4.1,-1.2v-2.4zM163.6,107.2l4.1,1.2v2.4l-4.1,1.2l-4.1,-1.2v-2.4zM171.8,107.2l4.1,1.2v2.4l-4.1,1.2l-4.1,-1.2v-2.4zM179.9,107.2l4.1,1.2v2.4l-4.1,1.2l-4.1,-1.2v-2.4zM188.1,107.2l4.1,1.2v2.4l-4.1,1.2l-4.1,-1.2v-2.4zM196.3,107.2l4.1,1.2v2.4l-4.1,1.2l-4.1,-1.2v-2.4zM204.4,107.2l4.1,1.2v2.4l-4.1,1.2l-4.1,-1.2v-2.4zM212.6,107.2l4.1,1.2v2.4l-4.1,1.2l-4.1,-1.2v-2.4zM220.8,107.2l4.1,1.2v2.4l-4.1,1.2l-4.1,-1.2v-2.4zM228.9,107.2l4.1,1.2v2.4l-4.1,1.2l-4.1,-1.2v-2.4zM237.1,107.2l4.1,1.2v2.4l-4.1,1.2l-4.1,-1.2v-2.4zM60.8,110.9l4.1,1.2v2.5l-4.1,1.2l-4.1,-1.2v-2.5zM69.1,110.9l4.1,1.2v2.5l-4.1,1.2l-4.1,-1.2v-2.5zM77.3,110.9l4.1,1.2v2.5l-4.1,1.2l-4.1,-1.2v-2.5zM85.6,110.9l4.1,1.2v2.5l-4.1,1.2l-4.1,-1.2v-2.5zM93.8,110.9l4.1,1.2v2.5l-4.1,1.2l-4.1,-1.2v-2.5zM102.1,110.9l4.1,1.2v2.5l-4.1,1.2l-4.1,-1.2v-2.5zM110.3,110.9l4.1,1.2v2.5l-4.1,1.2l-4.1,-1.2v-2.5zM118.6,110.9l4.1,1.2v2.5l-4.1,1.2l-4.1,-1.2v-2.5zM126.8,110.9l4.1,1.2v2.5l-4.1,1.2l-4.1,-1.2v-2.5zM135.1,110.9l4.1,1.2v2.5l-4.1,1.2l-4.1,-1.2v-2.5zM143.3,110.9l4.1,1.2v2.5l-4.1,1.2l-4.1,-1.2v-2.5zM151.6,110.9l4.1,1.2v2.5l-4.1,1.2l-4.1,-1.2v-2.5zM159.8,110.9l4.1,1.2v2.5l-4.1,1.2l-4.1,-1.2v-2.5zM168.1,110.9l4.1,1.2v2.5l-4.1,1.2l-4.1,-1.2v-2.5zM176.3,110.9l4.1,1.2v2.5l-4.1,1.2l-4.1,-1.2v-2.5zM184.6,110.9l4.1,1.2v2.5l-4.1,1.2l-4.1,-1.2v-2.5zM192.8,110.9l4.1,1.2v2.5l-4.1,1.2l-4.1,-1.2v-2.5zM201.1,110.9l4.1,1.2v2.5l-4.1,1.2l-4.1,-1.2v-2.5zM209.3,110.9l4.1,1.2v2.5l-4.1,1.2l-4.1,-1.2v-2.5zM217.6,110.9l4.1,1.2v2.5l-4.1,1.2l-4.1,-1.2v-2.5zM225.9,110.9l4.1,1.2v2.5l-4.1,1.2l-4.1,-1.2v-2.5zM234.1,110.9l4.1,1.2v2.5l-4.1,1.2l-4.1,-1.2v-2.5zM242.4,110.9l4.1,1.2v2.5l-4.1,1.2l-4.1,-1.2v-2.5zM55.9,114.6l4.2,1.3v2.5l-4.2,1.3l-4.2,-1.3v-2.5zM64.3,114.6l4.2,1.3v2.5l-4.2,1.3l-4.2,-1.3v-2.5zM72.6,114.6l4.2,1.3v2.5l-4.2,1.3l-4.2,-1.3v-2.5zM80.9,114.6l4.2,1.3v2.5l-4.2,1.3l-4.2,-1.3v-2.5zM89.3,114.6l4.2,1.3v2.5l-4.2,1.3l-4.2,-1.3v-2.5zM97.6,114.6l4.2,1.3v2.5l-4.2,1.3l-4.2,-1.3v-2.5zM105.9,114.6l4.2,1.3v2.5l-4.2,1.3l-4.2,-1.3v-2.5zM114.3,114.6l4.2,1.3v2.5l-4.2,1.3l-4.2,-1.3v-2.5zM122.6,114.6l4.2,1.3v2.5l-4.2,1.3l-4.2,-1.3v-2.5zM131.0,114.6l4.2,1.3v2.5l-4.2,1.3l-4.2,-1.3v-2.5zM139.3,114.6l4.2,1.3v2.5l-4.2,1.3l-4.2,-1.3v-2.5zM147.6,114.6l4.2,1.3v2.5l-4.2,1.3l-4.2,-1.3v-2.5zM156.0,114.6l4.2,1.3v2.5l-4.2,1.3l-4.2,-1.3v-2.5zM164.3,114.6l4.2,1.3v2.5l-4.2,1.3l-4.2,-1.3v-2.5zM172.7,114.6l4.2,1.3v2.5l-4.2,1.3l-4.2,-1.3v-2.5zM181.0,114.6l4.2,1.3v2.5l-4.2,1.3l-4.2,-1.3v-2.5zM189.3,114.6l4.2,1.3v2.5l-4.2,1.3l-4.2,-1.3v-2.5zM197.7,114.6l4.2,1.3v2.5l-4.2,1.3l-4.2,-1.3v-2.5zM206.0,114.6l4.2,1.3v2.5l-4.2,1.3l-4.2,-1.3v-2.5zM214.4,114.6l4.2,1.3v2.5l-4.2,1.3l-4.2,-1.3v-2.5zM222.7,114.6l4.2,1.3v2.5l-4.2,1.3l-4.2,-1.3v-2.5zM231.0,114.6l4.2,1.3v2.5l-4.2,1.3l-4.2,-1.3v-2.5zM239.4,114.6l4.2,1.3v2.5l-4.2,1.3l-4.2,-1.3v-2.5zM59.3,118.3l4.2,1.3v2.6l-4.2,1.3l-4.2,-1.3v-2.6zM67.8,118.3l4.2,1.3v2.6l-4.2,1.3l-4.2,-1.3v-2.6zM76.2,118.3l4.2,1.3v2.6l-4.2,1.3l-4.2,-1.3v-2.6zM84.6,118.3l4.2,1.3v2.6l-4.2,1.3l-4.2,-1.3v-2.6zM93.1,118.3l4.2,1.3v2.6l-4.2,1.3l-4.2,-1.3v-2.6zM101.5,118.3l4.2,1.3v2.6l-4.2,1.3l-4.2,-1.3v-2.6zM109.9,118.3l4.2,1.3v2.6l-4.2,1.3l-4.2,-1.3v-2.6zM118.3,118.3l4.2,1.3v2.6l-4.2,1.3l-4.2,-1.3v-2.6zM126.8,118.3l4.2,1.3v2.6l-4.2,1.3l-4.2,-1.3v-2.6zM135.2,118.3l4.2,1.3v2.6l-4.2,1.3l-4.2,-1.3v-2.6zM143.6,118.3l4.2,1.3v2.6l-4.2,1.3l-4.2,-1.3v-2.6zM152.0,118.3l4.2,1.3v2.6l-4.2,1.3l-4.2,-1.3v-2.6zM160.5,118.3l4.2,1.3v2.6l-4.2,1.3l-4.2,-1.3v-2.6zM168.9,118.3l4.2,1.3v2.6l-4.2,1.3l-4.2,-1.3v-2.6zM177.3,118.3l4.2,1.3v2.6l-4.2,1.3l-4.2,-1.3v-2.6zM185.8,118.3l4.2,1.3v2.6l-4.2,1.3l-4.2,-1.3v-2.6zM194.2,118.3l4.2,1.3v2.6l-4.2,1.3l-4.2,-1.3v-2.6zM202.6,118.3l4.2,1.3v2.6l-4.2,1.3l-4.2,-1.3v-2.6zM211.0,118.3l4.2,1.3v2.6l-4.2,1.3l-4.2,-1.3v-2.6zM219.5,118.3l4.2,1.3v2.6l-4.2,1.3l-4.2,-1.3v-2.6zM227.9,118.3l4.2,1.3v2.6l-4.2,1.3l-4.2,-1.3v-2.6zM236.3,118.3l4.2,1.3v2.6l-4.2,1.3l-4.2,-1.3v-2.6zM244.7,118.3l4.2,1.3v2.6l-4.2,1.3l-4.2,-1.3v-2.6zM54.3,122.1l4.3,1.3v2.6l-4.3,1.3l-4.3,-1.3v-2.6zM62.9,122.1l4.3,1.3v2.6l-4.3,1.3l-4.3,-1.3v-2.6zM71.4,122.1l4.3,1.3v2.6l-4.3,1.3l-4.3,-1.3v-2.6zM79.9,122.1l4.3,1.3v2.6l-4.3,1.3l-4.3,-1.3v-2.6zM88.4,122.1l4.3,1.3v2.6l-4.3,1.3l-4.3,-1.3v-2.6zM96.9,122.1l4.3,1.3v2.6l-4.3,1.3l-4.3,-1.3v-2.6zM105.4,122.1l4.3,1.3v2.6l-4.3,1.3l-4.3,-1.3v-2.6zM114.0,122.1l4.3,1.3v2.6l-4.3,1.3l-4.3,-1.3v-2.6zM122.5,122.1l4.3,1.3v2.6l-4.3,1.3l-4.3,-1.3v-2.6zM131.0,122.1l4.3,1.3v2.6l-4.3,1.3l-4.3,-1.3v-2.6zM139.5,122.1l4.3,1.3v2.6l-4.3,1.3l-4.3,-1.3v-2.6zM148.0,122.1l4.3,1.3v2.6l-4.3,1.3l-4.3,-1.3v-2.6zM156.5,122.1l4.3,1.3v2.6l-4.3,1.3l-4.3,-1.3v-2.6zM165.1,122.1l4.3,1.3v2.6l-4.3,1.3l-4.3,-1.3v-2.6zM173.6,122.1l4.3,1.3v2.6l-4.3,1.3l-4.3,-1.3v-2.6zM182.1,122.1l4.3,1.3v2.6l-4.3,1.3l-4.3,-1.3v-2.6zM190.6,122.1l4.3,1.3v2.6l-4.3,1.3l-4.3,-1.3v-2.6zM199.1,122.1l4.3,1.3v2.6l-4.3,1.3l-4.3,-1.3v-2.6zM207.6,122.1l4.3,1.3v2.6l-4.3,1.3l-4.3,-1.3v-2.6zM216.2,122.1l4.3,1.3v2.6l-4.3,1.3l-4.3,-1.3v-2.6zM224.7,122.1l4.3,1.3v2.6l-4.3,1.3l-4.3,-1.3v-2.6zM233.2,122.1l4.3,1.3v2.6l-4.3,1.3l-4.3,-1.3v-2.6zM241.7,122.1l4.3,1.3v2.6l-4.3,1.3l-4.3,-1.3v-2.6zM57.8,126.0l4.3,1.3v2.7l-4.3,1.3l-4.3,-1.3v-2.7zM66.4,126.0l4.3,1.3v2.7l-4.3,1.3l-4.3,-1.3v-2.7zM75.1,126.0l4.3,1.3v2.7l-4.3,1.3l-4.3,-1.3v-2.7zM83.7,126.0l4.3,1.3v2.7l-4.3,1.3l-4.3,-1.3v-2.7zM92.3,126.0l4.3,1.3v2.7l-4.3,1.3l-4.3,-1.3v-2.7zM100.9,126.0l4.3,1.3v2.7l-4.3,1.3l-4.3,-1.3v-2.7zM109.5,126.0l4.3,1.3v2.7l-4.3,1.3l-4.3,-1.3v-2.7zM118.1,126.0l4.3,1.3v2.7l-4.3,1.3l-4.3,-1.3v-2.7zM126.7,126.0l4.3,1.3v2.7l-4.3,1.3l-4.3,-1.3v-2.7zM135.3,126.0l4.3,1.3v2.7l-4.3,1.3l-4.3,-1.3v-2.7zM143.9,126.0l4.3,1.3v2.7l-4.3,1.3l-4.3,-1.3v-2.7zM152.5,126.0l4.3,1.3v2.7l-4.3,1.3l-4.3,-1.3v-2.7zM161.1,126.0l4.3,1.3v2.7l-4.3,1.3l-4.3,-1.3v-2.7zM169.7,126.0l4.3,1.3v2.7l-4.3,1.3l-4.3,-1.3v-2.7zM178.3,126.0l4.3,1.3v2.7l-4.3,1.3l-4.3,-1.3v-2.7zM187.0,126.0l4.3,1.3v2.7l-4.3,1.3l-4.3,-1.3v-2.7zM195.6,126.0l4.3,1.3v2.7l-4.3,1.3l-4.3,-1.3v-2.7zM204.2,126.0l4.3,1.3v2.7l-4.3,1.3l-4.3,-1.3v-2.7zM212.8,126.0l4.3,1.3v2.7l-4.3,1.3l-4.3,-1.3v-2.7zM221.4,126.0l4.3,1.3v2.7l-4.3,1.3l-4.3,-1.3v-2.7zM230.0,126.0l4.3,1.3v2.7l-4.3,1.3l-4.3,-1.3v-2.7zM238.6,126.0l4.3,1.3v2.7l-4.3,1.3l-4.3,-1.3v-2.7zM52.7,130.0l4.4,1.4v2.7l-4.4,1.4l-4.4,-1.4v-2.7zM61.4,130.0l4.4,1.4v2.7l-4.4,1.4l-4.4,-1.4v-2.7zM70.1,130.0l4.4,1.4v2.7l-4.4,1.4l-4.4,-1.4v-2.7zM78.8,130.0l4.4,1.4v2.7l-4.4,1.4l-4.4,-1.4v-2.7zM87.5,130.0l4.4,1.4v2.7l-4.4,1.4l-4.4,-1.4v-2.7zM96.2,130.0l4.4,1.4v2.7l-4.4,1.4l-4.4,-1.4v-2.7zM104.9,130.0l4.4,1.4v2.7l-4.4,1.4l-4.4,-1.4v-2.7zM113.6,130.0l4.4,1.4v2.7l-4.4,1.4l-4.4,-1.4v-2.7zM122.3,130.0l4.4,1.4v2.7l-4.4,1.4l-4.4,-1.4v-2.7zM131.0,130.0l4.4,1.4v2.7l-4.4,1.4l-4.4,-1.4v-2.7zM139.7,130.0l4.4,1.4v2.7l-4.4,1.4l-4.4,-1.4v-2.7zM148.4,130.0l4.4,1.4v2.7l-4.4,1.4l-4.4,-1.4v-2.7zM157.1,130.0l4.4,1.4v2.7l-4.4,1.4l-4.4,-1.4v-2.7zM165.8,130.0l4.4,1.4v2.7l-4.4,1.4l-4.4,-1.4v-2.7zM174.5,130.0l4.4,1.4v2.7l-4.4,1.4l-4.4,-1.4v-2.7zM183.2,130.0l4.4,1.4v2.7l-4.4,1.4l-4.4,-1.4v-2.7zM191.9,130.0l4.4,1.4v2.7l-4.4,1.4l-4.4,-1.4v-2.7zM200.6,130.0l4.4,1.4v2.7l-4.4,1.4l-4.4,-1.4v-2.7zM209.3,130.0l4.4,1.4v2.7l-4.4,1.4l-4.4,-1.4v-2.7zM218.0,130.0l4.4,1.4v2.7l-4.4,1.4l-4.4,-1.4v-2.7zM226.7,130.0l4.4,1.4v2.7l-4.4,1.4l-4.4,-1.4v-2.7zM235.4,130.0l4.4,1.4v2.7l-4.4,1.4l-4.4,-1.4v-2.7zM244.1,130.0l4.4,1.4v2.7l-4.4,1.4l-4.4,-1.4v-2.7zM56.3,134.0l4.4,1.4v2.8l-4.4,1.4l-4.4,-1.4v-2.8zM65.1,134.0l4.4,1.4v2.8l-4.4,1.4l-4.4,-1.4v-2.8zM73.9,134.0l4.4,1.4v2.8l-4.4,1.4l-4.4,-1.4v-2.8zM82.7,134.0l4.4,1.4v2.8l-4.4,1.4l-4.4,-1.4v-2.8zM91.5,134.0l4.4,1.4v2.8l-4.4,1.4l-4.4,-1.4v-2.8zM100.3,134.0l4.4,1.4v2.8l-4.4,1.4l-4.4,-1.4v-2.8zM109.0,134.0l4.4,1.4v2.8l-4.4,1.4l-4.4,-1.4v-2.8zM117.8,134.0l4.4,1.4v2.8l-4.4,1.4l-4.4,-1.4v-2.8zM126.6,134.0l4.4,1.4v2.8l-4.4,1.4l-4.4,-1.4v-2.8zM135.4,134.0l4.4,1.4v2.8l-4.4,1.4l-4.4,-1.4v-2.8zM144.2,134.0l4.4,1.4v2.8l-4.4,1.4l-4.4,-1.4v-2.8zM153.0,134.0l4.4,1.4v2.8l-4.4,1.4l-4.4,-1.4v-2.8zM161.8,134.0l4.4,1.4v2.8l-4.4,1.4l-4.4,-1.4v-2.8zM170.6,134.0l4.4,1.4v2.8l-4.4,1.4l-4.4,-1.4v-2.8zM179.4,134.0l4.4,1.4v2.8l-4.4,1.4l-4.4,-1.4v-2.8zM188.2,134.0l4.4,1.4v2.8l-4.4,1.4l-4.4,-1.4v-2.8zM197.0,134.0l4.4,1.4v2.8l-4.4,1.4l-4.4,-1.4v-2.8zM205.8,134.0l4.4,1.4v2.8l-4.4,1.4l-4.4,-1.4v-2.8zM214.6,134.0l4.4,1.4v2.8l-4.4,1.4l-4.4,-1.4v-2.8zM223.4,134.0l4.4,1.4v2.8l-4.4,1.4l-4.4,-1.4v-2.8zM232.2,134.0l4.4,1.4v2.8l-4.4,1.4l-4.4,-1.4v-2.8zM241.0,134.0l4.4,1.4v2.8l-4.4,1.4l-4.4,-1.4v-2.8z"/>
<path fill="none" stroke="#7598ea" stroke-width="1.05" d="M67.8,42.2l3.3,-0.8l3.3,0.8M74.4,42.2l3.3,-0.8l3.3,0.8M81.0,42.2l3.3,-0.8l3.3,0.8M87.7,42.2l3.3,-0.8l3.3,0.8M94.3,42.2l3.3,-0.8l3.3,0.8M100.9,42.2l3.3,-0.8l3.3,0.8M107.5,42.2l3.3,-0.8l3.3,0.8M114.1,42.2l3.3,-0.8l3.3,0.8M120.8,42.2l3.3,-0.8l3.3,0.8M127.4,42.2l3.3,-0.8l3.3,0.8M134.0,42.2l3.3,-0.8l3.3,0.8M140.6,42.2l3.3,-0.8l3.3,0.8M147.3,42.2l3.3,-0.8l3.3,0.8M153.9,42.2l3.3,-0.8l3.3,0.8M160.5,42.2l3.3,-0.8l3.3,0.8M167.1,42.2l3.3,-0.8l3.3,0.8M173.8,42.2l3.3,-0.8l3.3,0.8M180.4,42.2l3.3,-0.8l3.3,0.8M187.0,42.2l3.3,-0.8l3.3,0.8M193.6,42.2l3.3,-0.8l3.3,0.8M200.2,42.2l3.3,-0.8l3.3,0.8M206.9,42.2l3.3,-0.8l3.3,0.8M213.5,42.2l3.3,-0.8l3.3,0.8M220.1,42.2l3.3,-0.8l3.3,0.8M70.6,44.7l3.3,-0.9l3.3,0.9M77.3,44.7l3.3,-0.9l3.3,0.9M83.9,44.7l3.3,-0.9l3.3,0.9M90.6,44.7l3.3,-0.9l3.3,0.9M97.3,44.7l3.3,-0.9l3.3,0.9M104.0,44.7l3.3,-0.9l3.3,0.9M110.7,44.7l3.3,-0.9l3.3,0.9M117.3,44.7l3.3,-0.9l3.3,0.9M124.0,44.7l3.3,-0.9l3.3,0.9M130.7,44.7l3.3,-0.9l3.3,0.9M137.4,44.7l3.3,-0.9l3.3,0.9M144.1,44.7l3.3,-0.9l3.3,0.9M150.8,44.7l3.3,-0.9l3.3,0.9M157.4,44.7l3.3,-0.9l3.3,0.9M164.1,44.7l3.3,-0.9l3.3,0.9M170.8,44.7l3.3,-0.9l3.3,0.9M177.5,44.7l3.3,-0.9l3.3,0.9M184.2,44.7l3.3,-0.9l3.3,0.9M190.8,44.7l3.3,-0.9l3.3,0.9M197.5,44.7l3.3,-0.9l3.3,0.9M204.2,44.7l3.3,-0.9l3.3,0.9M210.9,44.7l3.3,-0.9l3.3,0.9M217.6,44.7l3.3,-0.9l3.3,0.9M66.7,47.2l3.4,-0.9l3.4,0.9M73.4,47.2l3.4,-0.9l3.4,0.9M80.2,47.2l3.4,-0.9l3.4,0.9M86.9,47.2l3.4,-0.9l3.4,0.9M93.6,47.2l3.4,-0.9l3.4,0.9M100.4,47.2l3.4,-0.9l3.4,0.9M107.1,47.2l3.4,-0.9l3.4,0.9M113.9,47.2l3.4,-0.9l3.4,0.9M120.6,47.2l3.4,-0.9l3.4,0.9M127.4,47.2l3.4,-0.9l3.4,0.9M134.1,47.2l3.4,-0.9l3.4,0.9M140.8,47.2l3.4,-0.9l3.4,0.9M147.6,47.2l3.4,-0.9l3.4,0.9M154.3,47.2l3.4,-0.9l3.4,0.9M161.1,47.2l3.4,-0.9l3.4,0.9M167.8,47.2l3.4,-0.9l3.4,0.9M174.5,47.2l3.4,-0.9l3.4,0.9M181.3,47.2l3.4,-0.9l3.4,0.9M188.0,47.2l3.4,-0.9l3.4,0.9M194.8,47.2l3.4,-0.9l3.4,0.9M201.5,47.2l3.4,-0.9l3.4,0.9M208.2,47.2l3.4,-0.9l3.4,0.9M215.0,47.2l3.4,-0.9l3.4,0.9M221.7,47.2l3.4,-0.9l3.4,0.9M69.5,49.8l3.4,-0.9l3.4,0.9M76.3,49.8l3.4,-0.9l3.4,0.9M83.1,49.8l3.4,-0.9l3.4,0.9M89.9,49.8l3.4,-0.9l3.4,0.9M96.7,49.8l3.4,-0.9l3.4,0.9M103.5,49.8l3.4,-0.9l3.4,0.9M110.3,49.8l3.4,-0.9l3.4,0.9M117.1,49.8l3.4,-0.9l3.4,0.9M123.9,49.8l3.4,-0.9l3.4,0.9M130.7,49.8l3.4,-0.9l3.4,0.9M137.5,49.8l3.4,-0.9l3.4,0.9M144.3,49.8l3.4,-0.9l3.4,0.9M151.1,49.8l3.4,-0.9l3.4,0.9M157.9,49.8l3.4,-0.9l3.4,0.9M164.7,49.8l3.4,-0.9l3.4,0.9M171.5,49.8l3.4,-0.9l3.4,0.9M178.3,49.8l3.4,-0.9l3.4,0.9M185.1,49.8l3.4,-0.9l3.4,0.9M191.9,49.8l3.4,-0.9l3.4,0.9M198.7,49.8l3.4,-0.9l3.4,0.9M205.5,49.8l3.4,-0.9l3.4,0.9M212.3,49.8l3.4,-0.9l3.4,0.9M219.1,49.8l3.4,-0.9l3.4,0.9M65.5,52.4l3.4,-0.9l3.4,0.9M72.4,52.4l3.4,-0.9l3.4,0.9M79.3,52.4l3.4,-0.9l3.4,0.9M86.1,52.4l3.4,-0.9l3.4,0.9M93.0,52.4l3.4,-0.9l3.4,0.9M99.9,52.4l3.4,-0.9l3.4,0.9M106.7,52.4l3.4,-0.9l3.4,0.9M113.6,52.4l3.4,-0.9l3.4,0.9M120.4,52.4l3.4,-0.9l3.4,0.9M127.3,52.4l3.4,-0.9l3.4,0.9M134.2,52.4l3.4,-0.9l3.4,0.9M141.0,52.4l3.4,-0.9l3.4,0.9M147.9,52.4l3.4,-0.9l3.4,0.9M154.8,52.4l3.4,-0.9l3.4,0.9M161.6,52.4l3.4,-0.9l3.4,0.9M168.5,52.4l3.4,-0.9l3.4,0.9M175.3,52.4l3.4,-0.9l3.4,0.9M182.2,52.4l3.4,-0.9l3.4,0.9M189.1,52.4l3.4,-0.9l3.4,0.9M195.9,52.4l3.4,-0.9l3.4,0.9M202.8,52.4l3.4,-0.9l3.4,0.9M209.7,52.4l3.4,-0.9l3.4,0.9M216.5,52.4l3.4,-0.9l3.4,0.9M223.4,52.4l3.4,-0.9l3.4,0.9M68.4,55.1l3.5,-0.9l3.5,0.9M75.4,55.1l3.5,-0.9l3.5,0.9M82.3,55.1l3.5,-0.9l3.5,0.9M89.2,55.1l3.5,-0.9l3.5,0.9M96.1,55.1l3.5,-0.9l3.5,0.9M103.1,55.1l3.5,-0.9l3.5,0.9M110.0,55.1l3.5,-0.9l3.5,0.9M116.9,55.1l3.5,-0.9l3.5,0.9M123.8,55.1l3.5,-0.9l3.5,0.9M130.7,55.1l3.5,-0.9l3.5,0.9M137.7,55.1l3.5,-0.9l3.5,0.9M144.6,55.1l3.5,-0.9l3.5,0.9M151.5,55.1l3.5,-0.9l3.5,0.9M158.4,55.1l3.5,-0.9l3.5,0.9M165.4,55.1l3.5,-0.9l3.5,0.9M172.3,55.1l3.5,-0.9l3.5,0.9M179.2,55.1l3.5,-0.9l3.5,0.9M186.1,55.1l3.5,-0.9l3.5,0.9M193.1,55.1l3.5,-0.9l3.5,0.9M200.0,55.1l3.5,-0.9l3.5,0.9M206.9,55.1l3.5,-0.9l3.5,0.9M213.8,55.1l3.5,-0.9l3.5,0.9M220.8,55.1l3.5,-0.9l3.5,0.9M64.4,57.8l3.5,-0.9l3.5,0.9M71.4,57.8l3.5,-0.9l3.5,0.9M78.3,57.8l3.5,-0.9l3.5,0.9M85.3,57.8l3.5,-0.9l3.5,0.9M92.3,57.8l3.5,-0.9l3.5,0.9M99.3,57.8l3.5,-0.9l3.5,0.9M106.3,57.8l3.5,-0.9l3.5,0.9M113.3,57.8l3.5,-0.9l3.5,0.9M120.3,57.8l3.5,-0.9l3.5,0.9M127.3,57.8l3.5,-0.9l3.5,0.9M134.3,57.8l3.5,-0.9l3.5,0.9M141.2,57.8l3.5,-0.9l3.5,0.9M148.2,57.8l3.5,-0.9l3.5,0.9M155.2,57.8l3.5,-0.9l3.5,0.9M162.2,57.8l3.5,-0.9l3.5,0.9M169.2,57.8l3.5,-0.9l3.5,0.9M176.2,57.8l3.5,-0.9l3.5,0.9M183.2,57.8l3.5,-0.9l3.5,0.9M190.2,57.8l3.5,-0.9l3.5,0.9M197.1,57.8l3.5,-0.9l3.5,0.9M204.1,57.8l3.5,-0.9l3.5,0.9M211.1,57.8l3.5,-0.9l3.5,0.9M218.1,57.8l3.5,-0.9l3.5,0.9M225.1,57.8l3.5,-0.9l3.5,0.9M67.3,60.6l3.5,-0.9l3.5,0.9M74.3,60.6l3.5,-0.9l3.5,0.9M81.4,60.6l3.5,-0.9l3.5,0.9M88.5,60.6l3.5,-0.9l3.5,0.9M95.5,60.6l3.5,-0.9l3.5,0.9M102.6,60.6l3.5,-0.9l3.5,0.9M109.6,60.6l3.5,-0.9l3.5,0.9M116.7,60.6l3.5,-0.9l3.5,0.9M123.7,60.6l3.5,-0.9l3.5,0.9M130.8,60.6l3.5,-0.9l3.5,0.9M137.8,60.6l3.5,-0.9l3.5,0.9M144.9,60.6l3.5,-0.9l3.5,0.9M151.9,60.6l3.5,-0.9l3.5,0.9M159.0,60.6l3.5,-0.9l3.5,0.9M166.0,60.6l3.5,-0.9l3.5,0.9M173.1,60.6l3.5,-0.9l3.5,0.9M180.1,60.6l3.5,-0.9l3.5,0.9M187.2,60.6l3.5,-0.9l3.5,0.9M194.2,60.6l3.5,-0.9l3.5,0.9M201.3,60.6l3.5,-0.9l3.5,0.9M208.3,60.6l3.5,-0.9l3.5,0.9M215.4,60.6l3.5,-0.9l3.5,0.9M222.5,60.6l3.5,-0.9l3.5,0.9M63.2,63.4l3.6,-1.0l3.6,1.0M70.3,63.4l3.6,-1.0l3.6,1.0M77.4,63.4l3.6,-1.0l3.6,1.0M84.5,63.4l3.6,-1.0l3.6,1.0M91.6,63.4l3.6,-1.0l3.6,1.0M98.7,63.4l3.6,-1.0l3.6,1.0M105.9,63.4l3.6,-1.0l3.6,1.0M113.0,63.4l3.6,-1.0l3.6,1.0M120.1,63.4l3.6,-1.0l3.6,1.0M127.2,63.4l3.6,-1.0l3.6,1.0M134.3,63.4l3.6,-1.0l3.6,1.0M141.5,63.4l3.6,-1.0l3.6,1.0M148.6,63.4l3.6,-1.0l3.6,1.0M155.7,63.4l3.6,-1.0l3.6,1.0M162.8,63.4l3.6,-1.0l3.6,1.0M169.9,63.4l3.6,-1.0l3.6,1.0M177.0,63.4l3.6,-1.0l3.6,1.0M184.2,63.4l3.6,-1.0l3.6,1.0M191.3,63.4l3.6,-1.0l3.6,1.0M198.4,63.4l3.6,-1.0l3.6,1.0M205.5,63.4l3.6,-1.0l3.6,1.0M212.6,63.4l3.6,-1.0l3.6,1.0M219.8,63.4l3.6,-1.0l3.6,1.0M226.9,63.4l3.6,-1.0l3.6,1.0M66.1,66.3l3.6,-1.0l3.6,1.0M73.3,66.3l3.6,-1.0l3.6,1.0M80.5,66.3l3.6,-1.0l3.6,1.0M87.7,66.3l3.6,-1.0l3.6,1.0M94.9,66.3l3.6,-1.0l3.6,1.0M102.0,66.3l3.6,-1.0l3.6,1.0M109.2,66.3l3.6,-1.0l3.6,1.0M116.4,66.3l3.6,-1.0l3.6,1.0M123.6,66.3l3.6,-1.0l3.6,1.0M130.8,66.3l3.6,-1.0l3.6,1.0M138.0,66.3l3.6,-1.0l3.6,1.0M145.2,66.3l3.6,-1.0l3.6,1.0M152.3,66.3l3.6,-1.0l3.6,1.0M159.5,66.3l3.6,-1.0l3.6,1.0M166.7,66.3l3.6,-1.0l3.6,1.0M173.9,66.3l3.6,-1.0l3.6,1.0M181.1,66.3l3.6,-1.0l3.6,1.0M188.3,66.3l3.6,-1.0l3.6,1.0M195.5,66.3l3.6,-1.0l3.6,1.0M202.6,66.3l3.6,-1.0l3.6,1.0M209.8,66.3l3.6,-1.0l3.6,1.0M217.0,66.3l3.6,-1.0l3.6,1.0M224.2,66.3l3.6,-1.0l3.6,1.0M61.9,69.2l3.6,-1.0l3.6,1.0M69.1,69.2l3.6,-1.0l3.6,1.0M76.4,69.2l3.6,-1.0l3.6,1.0M83.7,69.2l3.6,-1.0l3.6,1.0M90.9,69.2l3.6,-1.0l3.6,1.0M98.2,69.2l3.6,-1.0l3.6,1.0M105.4,69.2l3.6,-1.0l3.6,1.0M112.7,69.2l3.6,-1.0l3.6,1.0M119.9,69.2l3.6,-1.0l3.6,1.0M127.2,69.2l3.6,-1.0l3.6,1.0M134.4,69.2l3.6,-1.0l3.6,1.0M141.7,69.2l3.6,-1.0l3.6,1.0M148.9,69.2l3.6,-1.0l3.6,1.0M156.2,69.2l3.6,-1.0l3.6,1.0M163.4,69.2l3.6,-1.0l3.6,1.0M170.7,69.2l3.6,-1.0l3.6,1.0M177.9,69.2l3.6,-1.0l3.6,1.0M185.2,69.2l3.6,-1.0l3.6,1.0M192.5,69.2l3.6,-1.0l3.6,1.0M199.7,69.2l3.6,-1.0l3.6,1.0M207.0,69.2l3.6,-1.0l3.6,1.0M214.2,69.2l3.6,-1.0l3.6,1.0M221.5,69.2l3.6,-1.0l3.6,1.0M228.7,69.2l3.6,-1.0l3.6,1.0M64.9,72.2l3.7,-1.0l3.7,1.0M72.2,72.2l3.7,-1.0l3.7,1.0M79.6,72.2l3.7,-1.0l3.7,1.0M86.9,72.2l3.7,-1.0l3.7,1.0M94.2,72.2l3.7,-1.0l3.7,1.0M101.5,72.2l3.7,-1.0l3.7,1.0M108.8,72.2l3.7,-1.0l3.7,1.0M116.2,72.2l3.7,-1.0l3.7,1.0M123.5,72.2l3.7,-1.0l3.7,1.0M130.8,72.2l3.7,-1.0l3.7,1.0M138.1,72.2l3.7,-1.0l3.7,1.0M145.5,72.2l3.7,-1.0l3.7,1.0M152.8,72.2l3.7,-1.0l3.7,1.0M160.1,72.2l3.7,-1.0l3.7,1.0M167.4,72.2l3.7,-1.0l3.7,1.0M174.7,72.2l3.7,-1.0l3.7,1.0M182.1,72.2l3.7,-1.0l3.7,1.0M189.4,72.2l3.7,-1.0l3.7,1.0M196.7,72.2l3.7,-1.0l3.7,1.0M204.0,72.2l3.7,-1.0l3.7,1.0M211.4,72.2l3.7,-1.0l3.7,1.0M218.7,72.2l3.7,-1.0l3.7,1.0M226.0,72.2l3.7,-1.0l3.7,1.0M60.6,75.2l3.7,-1.0l3.7,1.0M68.0,75.2l3.7,-1.0l3.7,1.0M75.4,75.2l3.7,-1.0l3.7,1.0M82.8,75.2l3.7,-1.0l3.7,1.0M90.2,75.2l3.7,-1.0l3.7,1.0M97.6,75.2l3.7,-1.0l3.7,1.0M104.9,75.2l3.7,-1.0l3.7,1.0M112.3,75.2l3.7,-1.0l3.7,1.0M119.7,75.2l3.7,-1.0l3.7,1.0M127.1,75.2l3.7,-1.0l3.7,1.0M134.5,75.2l3.7,-1.0l3.7,1.0M141.9,75.2l3.7,-1.0l3.7,1.0M149.3,75.2l3.7,-1.0l3.7,1.0M156.7,75.2l3.7,-1.0l3.7,1.0M164.1,75.2l3.7,-1.0l3.7,1.0M171.5,75.2l3.7,-1.0l3.7,1.0M178.9,75.2l3.7,-1.0l3.7,1.0M186.3,75.2l3.7,-1.0l3.7,1.0M193.7,75.2l3.7,-1.0l3.7,1.0M201.1,75.2l3.7,-1.0l3.7,1.0M208.4,75.2l3.7,-1.0l3.7,1.0M215.8,75.2l3.7,-1.0l3.7,1.0M223.2,75.2l3.7,-1.0l3.7,1.0M230.6,75.2l3.7,-1.0l3.7,1.0M63.7,78.3l3.7,-1.0l3.7,1.0M71.1,78.3l3.7,-1.0l3.7,1.0M78.6,78.3l3.7,-1.0l3.7,1.0M86.0,78.3l3.7,-1.0l3.7,1.0M93.5,78.3l3.7,-1.0l3.7,1.0M101.0,78.3l3.7,-1.0l3.7,1.0M108.4,78.3l3.7,-1.0l3.7,1.0M115.9,78.3l3.7,-1.0l3.7,1.0M123.4,78.3l3.7,-1.0l3.7,1.0M130.8,78.3l3.7,-1.0l3.7,1.0M138.3,78.3l3.7,-1.0l3.7,1.0M145.8,78.3l3.7,-1.0l3.7,1.0M153.2,78.3l3.7,-1.0l3.7,1.0M160.7,78.3l3.7,-1.0l3.7,1.0M168.2,78.3l3.7,-1.0l3.7,1.0M175.6,78.3l3.7,-1.0l3.7,1.0M183.1,78.3l3.7,-1.0l3.7,1.0M190.5,78.3l3.7,-1.0l3.7,1.0M198.0,78.3l3.7,-1.0l3.7,1.0M205.5,78.3l3.7,-1.0l3.7,1.0M212.9,78.3l3.7,-1.0l3.7,1.0M220.4,78.3l3.7,-1.0l3.7,1.0M227.9,78.3l3.7,-1.0l3.7,1.0M59.2,81.4l3.8,-1.1l3.8,1.1M66.8,81.4l3.8,-1.1l3.8,1.1M74.3,81.4l3.8,-1.1l3.8,1.1M81.8,81.4l3.8,-1.1l3.8,1.1M89.4,81.4l3.8,-1.1l3.8,1.1M96.9,81.4l3.8,-1.1l3.8,1.1M104.5,81.4l3.8,-1.1l3.8,1.1M112.0,81.4l3.8,-1.1l3.8,1.1M119.5,81.4l3.8,-1.1l3.8,1.1M127.1,81.4l3.8,-1.1l3.8,1.1M134.6,81.4l3.8,-1.1l3.8,1.1M142.1,81.4l3.8,-1.1l3.8,1.1M149.7,81.4l3.8,-1.1l3.8,1.1M157.2,81.4l3.8,-1.1l3.8,1.1M164.8,81.4l3.8,-1.1l3.8,1.1M172.3,81.4l3.8,-1.1l3.8,1.1M179.8,81.4l3.8,-1.1l3.8,1.1M187.4,81.4l3.8,-1.1l3.8,1.1M194.9,81.4l3.8,-1.1l3.8,1.1M202.4,81.4l3.8,-1.1l3.8,1.1M210.0,81.4l3.8,-1.1l3.8,1.1M217.5,81.4l3.8,-1.1l3.8,1.1M225.1,81.4l3.8,-1.1l3.8,1.1M62.4,84.6l3.8,-1.1l3.8,1.1M70.0,84.6l3.8,-1.1l3.8,1.1M77.6,84.6l3.8,-1.1l3.8,1.1M85.2,84.6l3.8,-1.1l3.8,1.1M92.8,84.6l3.8,-1.1l3.8,1.1M100.4,84.6l3.8,-1.1l3.8,1.1M108.0,84.6l3.8,-1.1l3.8,1.1M115.6,84.6l3.8,-1.1l3.8,1.1M123.2,84.6l3.8,-1.1l3.8,1.1M130.9,84.6l3.8,-1.1l3.8,1.1M138.5,84.6l3.8,-1.1l3.8,1.1M146.1,84.6l3.8,-1.1l3.8,1.1M153.7,84.6l3.8,-1.1l3.8,1.1M161.3,84.6l3.8,-1.1l3.8,1.1M168.9,84.6l3.8,-1.1l3.8,1.1M176.5,84.6l3.8,-1.1l3.8,1.1M184.1,84.6l3.8,-1.1l3.8,1.1M191.7,84.6l3.8,-1.1l3.8,1.1M199.4,84.6l3.8,-1.1l3.8,1.1M207.0,84.6l3.8,-1.1l3.8,1.1M214.6,84.6l3.8,-1.1l3.8,1.1M222.2,84.6l3.8,-1.1l3.8,1.1M229.8,84.6l3.8,-1.1l3.8,1.1M57.8,87.8l3.8,-1.1l3.8,1.1M65.5,87.8l3.8,-1.1l3.8,1.1M73.2,87.8l3.8,-1.1l3.8,1.1M80.9,87.8l3.8,-1.1l3.8,1.1M88.6,87.8l3.8,-1.1l3.8,1.1M96.3,87.8l3.8,-1.1l3.8,1.1M104.0,87.8l3.8,-1.1l3.8,1.1M111.6,87.8l3.8,-1.1l3.8,1.1M119.3,87.8l3.8,-1.1l3.8,1.1M127.0,87.8l3.8,-1.1l3.8,1.1M134.7,87.8l3.8,-1.1l3.8,1.1M142.4,87.8l3.8,-1.1l3.8,1.1M150.1,87.8l3.8,-1.1l3.8,1.1M157.8,87.8l3.8,-1.1l3.8,1.1M165.5,87.8l3.8,-1.1l3.8,1.1M173.1,87.8l3.8,-1.1l3.8,1.1M180.8,87.8l3.8,-1.1l3.8,1.1M188.5,87.8l3.8,-1.1l3.8,1.1M196.2,87.8l3.8,-1.1l3.8,1.1M203.9,87.8l3.8,-1.1l3.8,1.1M211.6,87.8l3.8,-1.1l3.8,1.1M219.3,87.8l3.8,-1.1l3.8,1.1M226.9,87.8l3.8,-1.1l3.8,1.1M61.0,91.1l3.9,-1.1l3.9,1.1M68.8,91.1l3.9,-1.1l3.9,1.1M76.5,91.1l3.9,-1.1l3.9,1.1M84.3,91.1l3.9,-1.1l3.9,1.1M92.1,91.1l3.9,-1.1l3.9,1.1M99.8,91.1l3.9,-1.1l3.9,1.1M107.6,91.1l3.9,-1.1l3.9,1.1M115.3,91.1l3.9,-1.1l3.9,1.1M123.1,91.1l3.9,-1.1l3.9,1.1M130.9,91.1l3.9,-1.1l3.9,1.1M138.6,91.1l3.9,-1.1l3.9,1.1M146.4,91.1l3.9,-1.1l3.9,1.1M154.2,91.1l3.9,-1.1l3.9,1.1M161.9,91.1l3.9,-1.1l3.9,1.1M169.7,91.1l3.9,-1.1l3.9,1.1M177.5,91.1l3.9,-1.1l3.9,1.1M185.2,91.1l3.9,-1.1l3.9,1.1M193.0,91.1l3.9,-1.1l3.9,1.1M200.7,91.1l3.9,-1.1l3.9,1.1M208.5,91.1l3.9,-1.1l3.9,1.1M216.3,91.1l3.9,-1.1l3.9,1.1M224.0,91.1l3.9,-1.1l3.9,1.1M231.8,91.1l3.9,-1.1l3.9,1.1M56.4,94.5l3.9,-1.1l3.9,1.1M64.2,94.5l3.9,-1.1l3.9,1.1M72.1,94.5l3.9,-1.1l3.9,1.1M79.9,94.5l3.9,-1.1l3.9,1.1M87.8,94.5l3.9,-1.1l3.9,1.1M95.6,94.5l3.9,-1.1l3.9,1.1M103.4,94.5l3.9,-1.1l3.9,1.1M111.3,94.5l3.9,-1.1l3.9,1.1M119.1,94.5l3.9,-1.1l3.9,1.1M127.0,94.5l3.9,-1.1l3.9,1.1M134.8,94.5l3.9,-1.1l3.9,1.1M142.7,94.5l3.9,-1.1l3.9,1.1M150.5,94.5l3.9,-1.1l3.9,1.1M158.3,94.5l3.9,-1.1l3.9,1.1M166.2,94.5l3.9,-1.1l3.9,1.1M174.0,94.5l3.9,-1.1l3.9,1.1M181.9,94.5l3.9,-1.1l3.9,1.1M189.7,94.5l3.9,-1.1l3.9,1.1M197.5,94.5l3.9,-1.1l3.9,1.1M205.4,94.5l3.9,-1.1l3.9,1.1M213.2,94.5l3.9,-1.1l3.9,1.1M221.1,94.5l3.9,-1.1l3.9,1.1M228.9,94.5l3.9,-1.1l3.9,1.1M59.6,97.9l4.0,-1.2l4.0,1.2M67.5,97.9l4.0,-1.2l4.0,1.2M75.5,97.9l4.0,-1.2l4.0,1.2M83.4,97.9l4.0,-1.2l4.0,1.2M91.3,97.9l4.0,-1.2l4.0,1.2M99.2,97.9l4.0,-1.2l4.0,1.2M107.1,97.9l4.0,-1.2l4.0,1.2M115.1,97.9l4.0,-1.2l4.0,1.2M123.0,97.9l4.0,-1.2l4.0,1.2M130.9,97.9l4.0,-1.2l4.0,1.2M138.8,97.9l4.0,-1.2l4.0,1.2M146.7,97.9l4.0,-1.2l4.0,1.2M154.7,97.9l4.0,-1.2l4.0,1.2M162.6,97.9l4.0,-1.2l4.0,1.2M170.5,97.9l4.0,-1.2l4.0,1.2M178.4,97.9l4.0,-1.2l4.0,1.2M186.3,97.9l4.0,-1.2l4.0,1.2M194.3,97.9l4.0,-1.2l4.0,1.2M202.2,97.9l4.0,-1.2l4.0,1.2M210.1,97.9l4.0,-1.2l4.0,1.2M218.0,97.9l4.0,-1.2l4.0,1.2M226.0,97.9l4.0,-1.2l4.0,1.2M233.9,97.9l4.0,-1.2l4.0,1.2M54.9,101.3l4.0,-1.2l4.0,1.2M62.9,101.3l4.0,-1.2l4.0,1.2M70.9,101.3l4.0,-1.2l4.0,1.2M78.9,101.3l4.0,-1.2l4.0,1.2M86.9,101.3l4.0,-1.2l4.0,1.2M94.9,101.3l4.0,-1.2l4.0,1.2M102.9,101.3l4.0,-1.2l4.0,1.2M110.9,101.3l4.0,-1.2l4.0,1.2M118.9,101.3l4.0,-1.2l4.0,1.2M126.9,101.3l4.0,-1.2l4.0,1.2M134.9,101.3l4.0,-1.2l4.0,1.2M142.9,101.3l4.0,-1.2l4.0,1.2M150.9,101.3l4.0,-1.2l4.0,1.2M158.9,101.3l4.0,-1.2l4.0,1.2M166.9,101.3l4.0,-1.2l4.0,1.2M174.9,101.3l4.0,-1.2l4.0,1.2M182.9,101.3l4.0,-1.2l4.0,1.2M190.9,101.3l4.0,-1.2l4.0,1.2M198.9,101.3l4.0,-1.2l4.0,1.2M206.9,101.3l4.0,-1.2l4.0,1.2M214.9,101.3l4.0,-1.2l4.0,1.2M222.9,101.3l4.0,-1.2l4.0,1.2M230.9,101.3l4.0,-1.2l4.0,1.2M58.2,104.9l4.0,-1.2l4.0,1.2M66.3,104.9l4.0,-1.2l4.0,1.2M74.3,104.9l4.0,-1.2l4.0,1.2M82.4,104.9l4.0,-1.2l4.0,1.2M90.5,104.9l4.0,-1.2l4.0,1.2M98.6,104.9l4.0,-1.2l4.0,1.2M106.7,104.9l4.0,-1.2l4.0,1.2M114.8,104.9l4.0,-1.2l4.0,1.2M122.8,104.9l4.0,-1.2l4.0,1.2M130.9,104.9l4.0,-1.2l4.0,1.2M139.0,104.9l4.0,-1.2l4.0,1.2M147.1,104.9l4.0,-1.2l4.0,1.2M155.2,104.9l4.0,-1.2l4.0,1.2M163.3,104.9l4.0,-1.2l4.0,1.2M171.3,104.9l4.0,-1.2l4.0,1.2M179.4,104.9l4.0,-1.2l4.0,1.2M187.5,104.9l4.0,-1.2l4.0,1.2M195.6,104.9l4.0,-1.2l4.0,1.2M203.7,104.9l4.0,-1.2l4.0,1.2M211.8,104.9l4.0,-1.2l4.0,1.2M219.8,104.9l4.0,-1.2l4.0,1.2M227.9,104.9l4.0,-1.2l4.0,1.2M236.0,104.9l4.0,-1.2l4.0,1.2M53.3,108.5l4.1,-1.2l4.1,1.2M61.5,108.5l4.1,-1.2l4.1,1.2M69.7,108.5l4.1,-1.2l4.1,1.2M77.8,108.5l4.1,-1.2l4.1,1.2M86.0,108.5l4.1,-1.2l4.1,1.2M94.2,108.5l4.1,-1.2l4.1,1.2M102.4,108.5l4.1,-1.2l4.1,1.2M110.5,108.5l4.1,-1.2l4.1,1.2M118.7,108.5l4.1,-1.2l4.1,1.2M126.9,108.5l4.1,-1.2l4.1,1.2M135.0,108.5l4.1,-1.2l4.1,1.2M143.2,108.5l4.1,-1.2l4.1,1.2M151.4,108.5l4.1,-1.2l4.1,1.2M159.5,108.5l4.1,-1.2l4.1,1.2M167.7,108.5l4.1,-1.2l4.1,1.2M175.9,108.5l4.1,-1.2l4.1,1.2M184.0,108.5l4.1,-1.2l4.1,1.2M192.2,108.5l4.1,-1.2l4.1,1.2M200.4,108.5l4.1,-1.2l4.1,1.2M208.5,108.5l4.1,-1.2l4.1,1.2M216.7,108.5l4.1,-1.2l4.1,1.2M224.9,108.5l4.1,-1.2l4.1,1.2M233.0,108.5l4.1,-1.2l4.1,1.2M56.7,112.1l4.1,-1.2l4.1,1.2M64.9,112.1l4.1,-1.2l4.1,1.2M73.2,112.1l4.1,-1.2l4.1,1.2M81.4,112.1l4.1,-1.2l4.1,1.2M89.7,112.1l4.1,-1.2l4.1,1.2M97.9,112.1l4.1,-1.2l4.1,1.2M106.2,112.1l4.1,-1.2l4.1,1.2M114.4,112.1l4.1,-1.2l4.1,1.2M122.7,112.1l4.1,-1.2l4.1,1.2M131.0,112.1l4.1,-1.2l4.1,1.2M139.2,112.1l4.1,-1.2l4.1,1.2M147.5,112.1l4.1,-1.2l4.1,1.2M155.7,112.1l4.1,-1.2l4.1,1.2M164.0,112.1l4.1,-1.2l4.1,1.2M172.2,112.1l4.1,-1.2l4.1,1.2M180.5,112.1l4.1,-1.2l4.1,1.2M188.7,112.1l4.1,-1.2l4.1,1.2M197.0,112.1l4.1,-1.2l4.1,1.2M205.2,112.1l4.1,-1.2l4.1,1.2M213.5,112.1l4.1,-1.2l4.1,1.2M221.7,112.1l4.1,-1.2l4.1,1.2M230.0,112.1l4.1,-1.2l4.1,1.2M238.2,112.1l4.1,-1.2l4.1,1.2M51.7,115.8l4.2,-1.3l4.2,1.3M60.1,115.8l4.2,-1.3l4.2,1.3M68.4,115.8l4.2,-1.3l4.2,1.3M76.8,115.8l4.2,-1.3l4.2,1.3M85.1,115.8l4.2,-1.3l4.2,1.3M93.4,115.8l4.2,-1.3l4.2,1.3M101.8,115.8l4.2,-1.3l4.2,1.3M110.1,115.8l4.2,-1.3l4.2,1.3M118.5,115.8l4.2,-1.3l4.2,1.3M126.8,115.8l4.2,-1.3l4.2,1.3M135.1,115.8l4.2,-1.3l4.2,1.3M143.5,115.8l4.2,-1.3l4.2,1.3M151.8,115.8l4.2,-1.3l4.2,1.3M160.2,115.8l4.2,-1.3l4.2,1.3M168.5,115.8l4.2,-1.3l4.2,1.3M176.8,115.8l4.2,-1.3l4.2,1.3M185.2,115.8l4.2,-1.3l4.2,1.3M193.5,115.8l4.2,-1.3l4.2,1.3M201.8,115.8l4.2,-1.3l4.2,1.3M210.2,115.8l4.2,-1.3l4.2,1.3M218.5,115.8l4.2,-1.3l4.2,1.3M226.9,115.8l4.2,-1.3l4.2,1.3M235.2,115.8l4.2,-1.3l4.2,1.3M55.1,119.6l4.2,-1.3l4.2,1.3M63.6,119.6l4.2,-1.3l4.2,1.3M72.0,119.6l4.2,-1.3l4.2,1.3M80.4,119.6l4.2,-1.3l4.2,1.3M88.8,119.6l4.2,-1.3l4.2,1.3M97.3,119.6l4.2,-1.3l4.2,1.3M105.7,119.6l4.2,-1.3l4.2,1.3M114.1,119.6l4.2,-1.3l4.2,1.3M122.5,119.6l4.2,-1.3l4.2,1.3M131.0,119.6l4.2,-1.3l4.2,1.3M139.4,119.6l4.2,-1.3l4.2,1.3M147.8,119.6l4.2,-1.3l4.2,1.3M156.3,119.6l4.2,-1.3l4.2,1.3M164.7,119.6l4.2,-1.3l4.2,1.3M173.1,119.6l4.2,-1.3l4.2,1.3M181.5,119.6l4.2,-1.3l4.2,1.3M190.0,119.6l4.2,-1.3l4.2,1.3M198.4,119.6l4.2,-1.3l4.2,1.3M206.8,119.6l4.2,-1.3l4.2,1.3M215.2,119.6l4.2,-1.3l4.2,1.3M223.7,119.6l4.2,-1.3l4.2,1.3M232.1,119.6l4.2,-1.3l4.2,1.3M240.5,119.6l4.2,-1.3l4.2,1.3M50.1,123.5l4.3,-1.3l4.3,1.3M58.6,123.5l4.3,-1.3l4.3,1.3M67.1,123.5l4.3,-1.3l4.3,1.3M75.6,123.5l4.3,-1.3l4.3,1.3M84.1,123.5l4.3,-1.3l4.3,1.3M92.7,123.5l4.3,-1.3l4.3,1.3M101.2,123.5l4.3,-1.3l4.3,1.3M109.7,123.5l4.3,-1.3l4.3,1.3M118.2,123.5l4.3,-1.3l4.3,1.3M126.7,123.5l4.3,-1.3l4.3,1.3M135.2,123.5l4.3,-1.3l4.3,1.3M143.8,123.5l4.3,-1.3l4.3,1.3M152.3,123.5l4.3,-1.3l4.3,1.3M160.8,123.5l4.3,-1.3l4.3,1.3M169.3,123.5l4.3,-1.3l4.3,1.3M177.8,123.5l4.3,-1.3l4.3,1.3M186.3,123.5l4.3,-1.3l4.3,1.3M194.9,123.5l4.3,-1.3l4.3,1.3M203.4,123.5l4.3,-1.3l4.3,1.3M211.9,123.5l4.3,-1.3l4.3,1.3M220.4,123.5l4.3,-1.3l4.3,1.3M228.9,123.5l4.3,-1.3l4.3,1.3M237.4,123.5l4.3,-1.3l4.3,1.3M53.5,127.4l4.3,-1.3l4.3,1.3M62.1,127.4l4.3,-1.3l4.3,1.3M70.7,127.4l4.3,-1.3l4.3,1.3M79.4,127.4l4.3,-1.3l4.3,1.3M88.0,127.4l4.3,-1.3l4.3,1.3M96.6,127.4l4.3,-1.3l4.3,1.3M105.2,127.4l4.3,-1.3l4.3,1.3M113.8,127.4l4.3,-1.3l4.3,1.3M122.4,127.4l4.3,-1.3l4.3,1.3M131.0,127.4l4.3,-1.3l4.3,1.3M139.6,127.4l4.3,-1.3l4.3,1.3M148.2,127.4l4.3,-1.3l4.3,1.3M156.8,127.4l4.3,-1.3l4.3,1.3M165.4,127.4l4.3,-1.3l4.3,1.3M174.0,127.4l4.3,-1.3l4.3,1.3M182.7,127.4l4.3,-1.3l4.3,1.3M191.3,127.4l4.3,-1.3l4.3,1.3M199.9,127.4l4.3,-1.3l4.3,1.3M208.5,127.4l4.3,-1.3l4.3,1.3M217.1,127.4l4.3,-1.3l4.3,1.3M225.7,127.4l4.3,-1.3l4.3,1.3M234.3,127.4l4.3,-1.3l4.3,1.3M48.4,131.3l4.4,-1.4l4.4,1.4M57.1,131.3l4.4,-1.4l4.4,1.4M65.8,131.3l4.4,-1.4l4.4,1.4M74.5,131.3l4.4,-1.4l4.4,1.4M83.2,131.3l4.4,-1.4l4.4,1.4M91.9,131.3l4.4,-1.4l4.4,1.4M100.6,131.3l4.4,-1.4l4.4,1.4M109.3,131.3l4.4,-1.4l4.4,1.4M118.0,131.3l4.4,-1.4l4.4,1.4M126.7,131.3l4.4,-1.4l4.4,1.4M135.4,131.3l4.4,-1.4l4.4,1.4M144.1,131.3l4.4,-1.4l4.4,1.4M152.8,131.3l4.4,-1.4l4.4,1.4M161.5,131.3l4.4,-1.4l4.4,1.4M170.2,131.3l4.4,-1.4l4.4,1.4M178.9,131.3l4.4,-1.4l4.4,1.4M187.6,131.3l4.4,-1.4l4.4,1.4M196.3,131.3l4.4,-1.4l4.4,1.4M205.0,131.3l4.4,-1.4l4.4,1.4M213.7,131.3l4.4,-1.4l4.4,1.4M222.4,131.3l4.4,-1.4l4.4,1.4M231.1,131.3l4.4,-1.4l4.4,1.4M239.8,131.3l4.4,-1.4l4.4,1.4M51.9,135.4l4.4,-1.4l4.4,1.4M60.7,135.4l4.4,-1.4l4.4,1.4M69.5,135.4l4.4,-1.4l4.4,1.4M78.3,135.4l4.4,-1.4l4.4,1.4M87.1,135.4l4.4,-1.4l4.4,1.4M95.9,135.4l4.4,-1.4l4.4,1.4M104.6,135.4l4.4,-1.4l4.4,1.4M113.4,135.4l4.4,-1.4l4.4,1.4M122.2,135.4l4.4,-1.4l4.4,1.4M131.0,135.4l4.4,-1.4l4.4,1.4M139.8,135.4l4.4,-1.4l4.4,1.4M148.6,135.4l4.4,-1.4l4.4,1.4M157.4,135.4l4.4,-1.4l4.4,1.4M166.2,135.4l4.4,-1.4l4.4,1.4M175.0,135.4l4.4,-1.4l4.4,1.4M183.8,135.4l4.4,-1.4l4.4,1.4M192.6,135.4l4.4,-1.4l4.4,1.4M201.4,135.4l4.4,-1.4l4.4,1.4M210.2,135.4l4.4,-1.4l4.4,1.4M219.0,135.4l4.4,-1.4l4.4,1.4M227.8,135.4l4.4,-1.4l4.4,1.4M236.6,135.4l4.4,-1.4l4.4,1.4"/>
<path fill="none" stroke="#4278e8" stroke-width="2.0" d="M67.8,42.2v1.7M74.4,42.2v1.7M81.0,42.2v1.7M87.7,42.2v1.7M94.3,42.2v1.7M100.9,42.2v1.7M107.5,42.2v1.7M114.1,42.2v1.7M120.8,42.2v1.7M127.4,42.2v1.7M134.0,42.2v1.7M140.6,42.2v1.7M147.3,42.2v1.7M153.9,42.2v1.7M160.5,42.2v1.7M167.1,42.2v1.7M173.8,42.2v1.7M180.4,42.2v1.7M187.0,42.2v1.7M193.6,42.2v1.7M200.2,42.2v1.7M206.9,42.2v1.7M213.5,42.2v1.7M220.1,42.2v1.7M226.7,42.2v1.7M70.6,44.7v1.7M77.3,44.7v1.7M83.9,44.7v1.7M90.6,44.7v1.7M97.3,44.7v1.7M104.0,44.7v1.7M110.7,44.7v1.7M117.3,44.7v1.7M124.0,44.7v1.7M130.7,44.7v1.7M137.4,44.7v1.7M144.1,44.7v1.7M150.8,44.7v1.7M157.4,44.7v1.7M164.1,44.7v1.7M170.8,44.7v1.7M177.5,44.7v1.7M184.2,44.7v1.7M190.8,44.7v1.7M197.5,44.7v1.7M204.2,44.7v1.7M210.9,44.7v1.7M217.6,44.7v1.7M224.3,44.7v1.7M66.7,47.2v1.7M73.4,47.2v1.7M80.2,47.2v1.7M86.9,47.2v1.7M93.6,47.2v1.7M100.4,47.2v1.7M107.1,47.2v1.7M113.9,47.2v1.7M120.6,47.2v1.7M127.4,47.2v1.7M134.1,47.2v1.7M140.8,47.2v1.7M147.6,47.2v1.7M154.3,47.2v1.7M161.1,47.2v1.7M167.8,47.2v1.7M174.5,47.2v1.7M181.3,47.2v1.7M188.0,47.2v1.7M194.8,47.2v1.7M201.5,47.2v1.7M208.2,47.2v1.7M215.0,47.2v1.7M221.7,47.2v1.7M228.5,47.2v1.7M69.5,49.8v1.8M76.3,49.8v1.8M83.1,49.8v1.8M89.9,49.8v1.8M96.7,49.8v1.8M103.5,49.8v1.8M110.3,49.8v1.8M117.1,49.8v1.8M123.9,49.8v1.8M130.7,49.8v1.8M137.5,49.8v1.8M144.3,49.8v1.8M151.1,49.8v1.8M157.9,49.8v1.8M164.7,49.8v1.8M171.5,49.8v1.8M178.3,49.8v1.8M185.1,49.8v1.8M191.9,49.8v1.8M198.7,49.8v1.8M205.5,49.8v1.8M212.3,49.8v1.8M219.1,49.8v1.8M225.9,49.8v1.8M65.5,52.4v1.8M72.4,52.4v1.8M79.3,52.4v1.8M86.1,52.4v1.8M93.0,52.4v1.8M99.9,52.4v1.8M106.7,52.4v1.8M113.6,52.4v1.8M120.4,52.4v1.8M127.3,52.4v1.8M134.2,52.4v1.8M141.0,52.4v1.8M147.9,52.4v1.8M154.8,52.4v1.8M161.6,52.4v1.8M168.5,52.4v1.8M175.3,52.4v1.8M182.2,52.4v1.8M189.1,52.4v1.8M195.9,52.4v1.8M202.8,52.4v1.8M209.7,52.4v1.8M216.5,52.4v1.8M223.4,52.4v1.8M230.2,52.4v1.8M68.4,55.1v1.8M75.4,55.1v1.8M82.3,55.1v1.8M89.2,55.1v1.8M96.1,55.1v1.8M103.1,55.1v1.8M110.0,55.1v1.8M116.9,55.1v1.8M123.8,55.1v1.8M130.7,55.1v1.8M137.7,55.1v1.8M144.6,55.1v1.8M151.5,55.1v1.8M158.4,55.1v1.8M165.4,55.1v1.8M172.3,55.1v1.8M179.2,55.1v1.8M186.1,55.1v1.8M193.1,55.1v1.8M200.0,55.1v1.8M206.9,55.1v1.8M213.8,55.1v1.8M220.8,55.1v1.8M227.7,55.1v1.8M64.4,57.8v1.9M71.4,57.8v1.9M78.3,57.8v1.9M85.3,57.8v1.9M92.3,57.8v1.9M99.3,57.8v1.9M106.3,57.8v1.9M113.3,57.8v1.9M120.3,57.8v1.9M127.3,57.8v1.9M134.3,57.8v1.9M141.2,57.8v1.9M148.2,57.8v1.9M155.2,57.8v1.9M162.2,57.8v1.9M169.2,57.8v1.9M176.2,57.8v1.9M183.2,57.8v1.9M190.2,57.8v1.9M197.1,57.8v1.9M204.1,57.8v1.9M211.1,57.8v1.9M218.1,57.8v1.9M225.1,57.8v1.9M232.1,57.8v1.9M67.3,60.6v1.9M74.3,60.6v1.9M81.4,60.6v1.9M88.5,60.6v1.9M95.5,60.6v1.9M102.6,60.6v1.9M109.6,60.6v1.9M116.7,60.6v1.9M123.7,60.6v1.9M130.8,60.6v1.9M137.8,60.6v1.9M144.9,60.6v1.9M151.9,60.6v1.9M159.0,60.6v1.9M166.0,60.6v1.9M173.1,60.6v1.9M180.1,60.6v1.9M187.2,60.6v1.9M194.2,60.6v1.9M201.3,60.6v1.9M208.3,60.6v1.9M215.4,60.6v1.9M222.5,60.6v1.9M229.5,60.6v1.9M63.2,63.4v1.9M70.3,63.4v1.9M77.4,63.4v1.9M84.5,63.4v1.9M91.6,63.4v1.9M98.7,63.4v1.9M105.9,63.4v1.9M113.0,63.4v1.9M120.1,63.4v1.9M127.2,63.4v1.9M134.3,63.4v1.9M141.5,63.4v1.9M148.6,63.4v1.9M155.7,63.4v1.9M162.8,63.4v1.9M169.9,63.4v1.9M177.0,63.4v1.9M184.2,63.4v1.9M191.3,63.4v1.9M198.4,63.4v1.9M205.5,63.4v1.9M212.6,63.4v1.9M219.8,63.4v1.9M226.9,63.4v1.9M234.0,63.4v1.9M66.1,66.3v2.0M73.3,66.3v2.0M80.5,66.3v2.0M87.7,66.3v2.0M94.9,66.3v2.0M102.0,66.3v2.0M109.2,66.3v2.0M116.4,66.3v2.0M123.6,66.3v2.0M130.8,66.3v2.0M138.0,66.3v2.0M145.2,66.3v2.0M152.3,66.3v2.0M159.5,66.3v2.0M166.7,66.3v2.0M173.9,66.3v2.0M181.1,66.3v2.0M188.3,66.3v2.0M195.5,66.3v2.0M202.6,66.3v2.0M209.8,66.3v2.0M217.0,66.3v2.0M224.2,66.3v2.0M231.4,66.3v2.0M61.9,69.2v2.0M69.1,69.2v2.0M76.4,69.2v2.0M83.7,69.2v2.0M90.9,69.2v2.0M98.2,69.2v2.0M105.4,69.2v2.0M112.7,69.2v2.0M119.9,69.2v2.0M127.2,69.2v2.0M134.4,69.2v2.0M141.7,69.2v2.0M148.9,69.2v2.0M156.2,69.2v2.0M163.4,69.2v2.0M170.7,69.2v2.0M177.9,69.2v2.0M185.2,69.2v2.0M192.5,69.2v2.0M199.7,69.2v2.0M207.0,69.2v2.0M214.2,69.2v2.0M221.5,69.2v2.0M228.7,69.2v2.0M236.0,69.2v2.0M64.9,72.2v2.0M72.2,72.2v2.0M79.6,72.2v2.0M86.9,72.2v2.0M94.2,72.2v2.0M101.5,72.2v2.0M108.8,72.2v2.0M116.2,72.2v2.0M123.5,72.2v2.0M130.8,72.2v2.0M138.1,72.2v2.0M145.5,72.2v2.0M152.8,72.2v2.0M160.1,72.2v2.0M167.4,72.2v2.0M174.7,72.2v2.0M182.1,72.2v2.0M189.4,72.2v2.0M196.7,72.2v2.0M204.0,72.2v2.0M211.4,72.2v2.0M218.7,72.2v2.0M226.0,72.2v2.0M233.3,72.2v2.0M60.6,75.2v2.1M68.0,75.2v2.1M75.4,75.2v2.1M82.8,75.2v2.1M90.2,75.2v2.1M97.6,75.2v2.1M104.9,75.2v2.1M112.3,75.2v2.1M119.7,75.2v2.1M127.1,75.2v2.1M134.5,75.2v2.1M141.9,75.2v2.1M149.3,75.2v2.1M156.7,75.2v2.1M164.1,75.2v2.1M171.5,75.2v2.1M178.9,75.2v2.1M186.3,75.2v2.1M193.7,75.2v2.1M201.1,75.2v2.1M208.4,75.2v2.1M215.8,75.2v2.1M223.2,75.2v2.1M230.6,75.2v2.1M238.0,75.2v2.1M63.7,78.3v2.1M71.1,78.3v2.1M78.6,78.3v2.1M86.0,78.3v2.1M93.5,78.3v2.1M101.0,78.3v2.1M108.4,78.3v2.1M115.9,78.3v2.1M123.4,78.3v2.1M130.8,78.3v2.1M138.3,78.3v2.1M145.8,78.3v2.1M153.2,78.3v2.1M160.7,78.3v2.1M168.2,78.3v2.1M175.6,78.3v2.1M183.1,78.3v2.1M190.5,78.3v2.1M198.0,78.3v2.1M205.5,78.3v2.1M212.9,78.3v2.1M220.4,78.3v2.1M227.9,78.3v2.1M235.3,78.3v2.1M59.2,81.4v2.1M66.8,81.4v2.1M74.3,81.4v2.1M81.8,81.4v2.1M89.4,81.4v2.1M96.9,81.4v2.1M104.5,81.4v2.1M112.0,81.4v2.1M119.5,81.4v2.1M127.1,81.4v2.1M134.6,81.4v2.1M142.1,81.4v2.1M149.7,81.4v2.1M157.2,81.4v2.1M164.8,81.4v2.1M172.3,81.4v2.1M179.8,81.4v2.1M187.4,81.4v2.1M194.9,81.4v2.1M202.4,81.4v2.1M210.0,81.4v2.1M217.5,81.4v2.1M225.1,81.4v2.1M232.6,81.4v2.1M62.4,84.6v2.2M70.0,84.6v2.2M77.6,84.6v2.2M85.2,84.6v2.2M92.8,84.6v2.2M100.4,84.6v2.2M108.0,84.6v2.2M115.6,84.6v2.2M123.2,84.6v2.2M130.9,84.6v2.2M138.5,84.6v2.2M146.1,84.6v2.2M153.7,84.6v2.2M161.3,84.6v2.2M168.9,84.6v2.2M176.5,84.6v2.2M184.1,84.6v2.2M191.7,84.6v2.2M199.4,84.6v2.2M207.0,84.6v2.2M214.6,84.6v2.2M222.2,84.6v2.2M229.8,84.6v2.2M237.4,84.6v2.2M57.8,87.8v2.2M65.5,87.8v2.2M73.2,87.8v2.2M80.9,87.8v2.2M88.6,87.8v2.2M96.3,87.8v2.2M104.0,87.8v2.2M111.6,87.8v2.2M119.3,87.8v2.2M127.0,87.8v2.2M134.7,87.8v2.2M142.4,87.8v2.2M150.1,87.8v2.2M157.8,87.8v2.2M165.5,87.8v2.2M173.1,87.8v2.2M180.8,87.8v2.2M188.5,87.8v2.2M196.2,87.8v2.2M203.9,87.8v2.2M211.6,87.8v2.2M219.3,87.8v2.2M226.9,87.8v2.2M234.6,87.8v2.2M61.0,91.1v2.2M68.8,91.1v2.2M76.5,91.1v2.2M84.3,91.1v2.2M92.1,91.1v2.2M99.8,91.1v2.2M107.6,91.1v2.2M115.3,91.1v2.2M123.1,91.1v2.2M130.9,91.1v2.2M138.6,91.1v2.2M146.4,91.1v2.2M154.2,91.1v2.2M161.9,91.1v2.2M169.7,91.1v2.2M177.5,91.1v2.2M185.2,91.1v2.2M193.0,91.1v2.2M200.7,91.1v2.2M208.5,91.1v2.2M216.3,91.1v2.2M224.0,91.1v2.2M231.8,91.1v2.2M239.6,91.1v2.2M56.4,94.5v2.3M64.2,94.5v2.3M72.1,94.5v2.3M79.9,94.5v2.3M87.8,94.5v2.3M95.6,94.5v2.3M103.4,94.5v2.3M111.3,94.5v2.3M119.1,94.5v2.3M127.0,94.5v2.3M134.8,94.5v2.3M142.7,94.5v2.3M150.5,94.5v2.3M158.3,94.5v2.3M166.2,94.5v2.3M174.0,94.5v2.3M181.9,94.5v2.3M189.7,94.5v2.3M197.5,94.5v2.3M205.4,94.5v2.3M213.2,94.5v2.3M221.1,94.5v2.3M228.9,94.5v2.3M236.7,94.5v2.3M59.6,97.9v2.3M67.5,97.9v2.3M75.5,97.9v2.3M83.4,97.9v2.3M91.3,97.9v2.3M99.2,97.9v2.3M107.1,97.9v2.3M115.1,97.9v2.3M123.0,97.9v2.3M130.9,97.9v2.3M138.8,97.9v2.3M146.7,97.9v2.3M154.7,97.9v2.3M162.6,97.9v2.3M170.5,97.9v2.3M178.4,97.9v2.3M186.3,97.9v2.3M194.3,97.9v2.3M202.2,97.9v2.3M210.1,97.9v2.3M218.0,97.9v2.3M226.0,97.9v2.3M233.9,97.9v2.3M241.8,97.9v2.3M54.9,101.3v2.4M62.9,101.3v2.4M70.9,101.3v2.4M78.9,101.3v2.4M86.9,101.3v2.4M94.9,101.3v2.4M102.9,101.3v2.4M110.9,101.3v2.4M118.9,101.3v2.4M126.9,101.3v2.4M134.9,101.3v2.4M142.9,101.3v2.4M150.9,101.3v2.4M158.9,101.3v2.4M166.9,101.3v2.4M174.9,101.3v2.4M182.9,101.3v2.4M190.9,101.3v2.4M198.9,101.3v2.4M206.9,101.3v2.4M214.9,101.3v2.4M222.9,101.3v2.4M230.9,101.3v2.4M238.9,101.3v2.4M58.2,104.9v2.4M66.3,104.9v2.4M74.3,104.9v2.4M82.4,104.9v2.4M90.5,104.9v2.4M98.6,104.9v2.4M106.7,104.9v2.4M114.8,104.9v2.4M122.8,104.9v2.4M130.9,104.9v2.4M139.0,104.9v2.4M147.1,104.9v2.4M155.2,104.9v2.4M163.3,104.9v2.4M171.3,104.9v2.4M179.4,104.9v2.4M187.5,104.9v2.4M195.6,104.9v2.4M203.7,104.9v2.4M211.8,104.9v2.4M219.8,104.9v2.4M227.9,104.9v2.4M236.0,104.9v2.4M244.1,104.9v2.4M53.3,108.5v2.4M61.5,108.5v2.4M69.7,108.5v2.4M77.8,108.5v2.4M86.0,108.5v2.4M94.2,108.5v2.4M102.4,108.5v2.4M110.5,108.5v2.4M118.7,108.5v2.4M126.9,108.5v2.4M135.0,108.5v2.4M143.2,108.5v2.4M151.4,108.5v2.4M159.5,108.5v2.4M167.7,108.5v2.4M175.9,108.5v2.4M184.0,108.5v2.4M192.2,108.5v2.4M200.4,108.5v2.4M208.5,108.5v2.4M216.7,108.5v2.4M224.9,108.5v2.4M233.0,108.5v2.4M241.2,108.5v2.4M56.7,112.1v2.5M64.9,112.1v2.5M73.2,112.1v2.5M81.4,112.1v2.5M89.7,112.1v2.5M97.9,112.1v2.5M106.2,112.1v2.5M114.4,112.1v2.5M122.7,112.1v2.5M131.0,112.1v2.5M139.2,112.1v2.5M147.5,112.1v2.5M155.7,112.1v2.5M164.0,112.1v2.5M172.2,112.1v2.5M180.5,112.1v2.5M188.7,112.1v2.5M197.0,112.1v2.5M205.2,112.1v2.5M213.5,112.1v2.5M221.7,112.1v2.5M230.0,112.1v2.5M238.2,112.1v2.5M246.5,112.1v2.5M51.7,115.8v2.5M60.1,115.8v2.5M68.4,115.8v2.5M76.8,115.8v2.5M85.1,115.8v2.5M93.4,115.8v2.5M101.8,115.8v2.5M110.1,115.8v2.5M118.5,115.8v2.5M126.8,115.8v2.5M135.1,115.8v2.5M143.5,115.8v2.5M151.8,115.8v2.5M160.2,115.8v2.5M168.5,115.8v2.5M176.8,115.8v2.5M185.2,115.8v2.5M193.5,115.8v2.5M201.8,115.8v2.5M210.2,115.8v2.5M218.5,115.8v2.5M226.9,115.8v2.5M235.2,115.8v2.5M243.5,115.8v2.5M55.1,119.6v2.6M63.6,119.6v2.6M72.0,119.6v2.6M80.4,119.6v2.6M88.8,119.6v2.6M97.3,119.6v2.6M105.7,119.6v2.6M114.1,119.6v2.6M122.5,119.6v2.6M131.0,119.6v2.6M139.4,119.6v2.6M147.8,119.6v2.6M156.3,119.6v2.6M164.7,119.6v2.6M173.1,119.6v2.6M181.5,119.6v2.6M190.0,119.6v2.6M198.4,119.6v2.6M206.8,119.6v2.6M215.2,119.6v2.6M223.7,119.6v2.6M232.1,119.6v2.6M240.5,119.6v2.6M249.0,119.6v2.6M50.1,123.5v2.6M58.6,123.5v2.6M67.1,123.5v2.6M75.6,123.5v2.6M84.1,123.5v2.6M92.7,123.5v2.6M101.2,123.5v2.6M109.7,123.5v2.6M118.2,123.5v2.6M126.7,123.5v2.6M135.2,123.5v2.6M143.8,123.5v2.6M152.3,123.5v2.6M160.8,123.5v2.6M169.3,123.5v2.6M177.8,123.5v2.6M186.3,123.5v2.6M194.9,123.5v2.6M203.4,123.5v2.6M211.9,123.5v2.6M220.4,123.5v2.6M228.9,123.5v2.6M237.4,123.5v2.6M246.0,123.5v2.6M53.5,127.4v2.7M62.1,127.4v2.7M70.7,127.4v2.7M79.4,127.4v2.7M88.0,127.4v2.7M96.6,127.4v2.7M105.2,127.4v2.7M113.8,127.4v2.7M122.4,127.4v2.7M131.0,127.4v2.7M139.6,127.4v2.7M148.2,127.4v2.7M156.8,127.4v2.7M165.4,127.4v2.7M174.0,127.4v2.7M182.7,127.4v2.7M191.3,127.4v2.7M199.9,127.4v2.7M208.5,127.4v2.7M217.1,127.4v2.7M225.7,127.4v2.7M234.3,127.4v2.7M242.9,127.4v2.7M48.4,131.3v2.7M57.1,131.3v2.7M65.8,131.3v2.7M74.5,131.3v2.7M83.2,131.3v2.7M91.9,131.3v2.7M100.6,131.3v2.7M109.3,131.3v2.7M118.0,131.3v2.7M126.7,131.3v2.7M135.4,131.3v2.7M144.1,131.3v2.7M152.8,131.3v2.7M161.5,131.3v2.7M170.2,131.3v2.7M178.9,131.3v2.7M187.6,131.3v2.7M196.3,131.3v2.7M205.0,131.3v2.7M213.7,131.3v2.7M222.4,131.3v2.7M231.1,131.3v2.7M239.8,131.3v2.7M248.5,131.3v2.7M51.9,135.4v2.8M60.7,135.4v2.8M69.5,135.4v2.8M78.3,135.4v2.8M87.1,135.4v2.8M95.9,135.4v2.8M104.6,135.4v2.8M113.4,135.4v2.8M122.2,135.4v2.8M131.0,135.4v2.8M139.8,135.4v2.8M148.6,135.4v2.8M157.4,135.4v2.8M166.2,135.4v2.8M175.0,135.4v2.8M183.8,135.4v2.8M192.6,135.4v2.8M201.4,135.4v2.8M210.2,135.4v2.8M219.0,135.4v2.8M227.8,135.4v2.8M236.6,135.4v2.8M245.4,135.4v2.8"/>
</g><rect x="144.8" y="63" width="11.4" height="75" fill="#d3d4de"/></g>
<rect x="133.3" y="26.3" width="34.7" height="21.2" fill="#f7a8b2" opacity="0.55"/>
<polygon points="117.7,47.5 183.0,47.5 150.3,67.4" fill="#f0505a" opacity="0.72"/>
<polygon points="133.3,47.5 168.0,47.5 168.0,56.6 150.3,67.4 133.3,57.0" fill="#f4b0bc" opacity="0.55"/>
<path d="M147,64 L150.3,67.4 L153.6,64" fill="none" stroke="#f03040" stroke-width="2" opacity="0.7"/>
<polygon points="96.0,47.0 108.5,47.0 98.5,118.8 82.5,118.8" fill="url(#gold)"/>
<polygon points="96.0,47.0 98.6,47.0 85.4,118.8 82.5,118.8" fill="#dcac58"/>
<polygon points="106.3,47.0 108.5,47.0 98.5,118.8 96.1,118.8" fill="#b9883a"/>
<polygon points="82.5,118.8 98.5,118.8 98.5,122.5 82.5,122.5" fill="#4a3c22"/>
<rect x="96" y="46.5" width="12.5" height="1.6" fill="#e06a3a"/>
<polygon points="191.2,47.7 202.4,47.7 217.6,120.3 202.0,120.3" fill="url(#gold)"/>
<polygon points="191.2,47.7 193.8,47.7 204.8,120.3 202.0,120.3" fill="#dcac58"/>
<polygon points="200.4,47.7 202.4,47.7 217.6,120.3 215.4,120.3" fill="#b9883a"/>
<polygon points="202.0,120.3 217.6,120.3 217.6,123.3 202.0,123.3" fill="#4a3c22"/>
<rect x="191.2" y="47.2" width="11.2" height="1.6" fill="#e06a3a"/>
<line x1="98" y1="75.3" x2="202" y2="75.3" stroke="#2a2a2a" stroke-width="1.5" stroke-dasharray="7,4"/>
<line x1="97" y1="72" x2="97" y2="78" stroke="#333" stroke-width="1"/>
<line x1="202.4" y1="72" x2="202.4" y2="79" stroke="#333" stroke-width="1"/>
<line x1="143" y1="109" x2="158.5" y2="109" stroke="#333" stroke-width="1.1"/>
<line x1="143" y1="106" x2="143" y2="112" stroke="#333" stroke-width="1.1"/>
<line x1="158.5" y1="106" x2="158.5" y2="112" stroke="#333" stroke-width="1.1"/>
<g stroke="#222" stroke-width="1.2" fill="none"><path d="M58.5,29.6 H73"/><path d="M58.5,29.6 V43"/><path d="M58.5,29.6 L48.5,42"/></g>
<g fill="#222"><polygon points="76,29.6 71,27.6 71,31.6"/><polygon points="58.5,46 56.5,41 60.5,41"/><polygon points="46.5,44.5 47.5,39.5 51,42.2"/></g>
<g stroke="#555" stroke-width="1" fill="none"><path d="M55,108.5 H17 V139"/><path d="M10,139 H27"/><path d="M14,143.6 H22"/><path d="M17,143.6 V164.5 H33"/><path d="M244,110.2 H288 V139"/><path d="M280.5,139 H296"/><path d="M284,144.3 H293"/><path d="M288,144.3 V165.2 H268"/></g>
<text x="15.5" y="26.3" font-size="20" font-weight="bold">(a)</text>
<g font-size="12" fill="#2a2a2a"><text x="66.5" y="87.5">G1</text><text x="216.5" y="86.5">G2</text><text x="146" y="89" font-weight="bold">d</text><text x="145.5" y="119.5" font-weight="bold">S<tspan font-size="7" dy="2">g</tspan></text></g><g font-size="10" fill="#333" font-weight="bold"><text x="23.5" y="124.5">V1</text><text x="274.5" y="129.5">V2</text></g>
<g font-size="10.5" fill="#222"><text x="78.5" y="32.5">x</text><text x="41.8" y="52.2">y</text><text x="55.8" y="52.5">z</text></g>
<rect x="31" y="161.5" width="7" height="3.5" fill="#d98c2a"/>
<rect x="258.5" y="163.5" width="9.5" height="3" fill="#d9a030"/>
<text x="283" y="25" font-size="21" font-weight="bold">(b)</text>
<rect x="351" y="31" width="26.5" height="80.3" fill="#000"/>
<g filter="url(#bl05)"><path d="M353.4,71 C352.6,62 352.4,52 352.8,45 C354,37 359,34.2 364,34.2 C369,34.2 374,37 375.2,45 C375.6,52 375.4,62 374.6,71 C373.8,66 372.6,62 372.2,58 L371.6,48 C371,42.5 368,39.2 364,39.2 C360,39.2 357,42.5 356.4,48 L355.8,58 C355.4,62 354.2,66 353.4,71 Z" fill="#ff2400"/><path d="M357.2,68.5 L357,47 C357.4,41 360.4,37.8 364,37.8 C367.6,37.8 370.6,41 371,47 L370.8,68.5 C370,64 369.4,61 369.2,58 L369,47.5 C368.8,43.5 366.6,41.2 364,41.2 C361.4,41.2 359.2,43.5 359,47.5 L358.8,58 C358.6,61 358,64 357.2,68.5 Z" fill="#ffd820"/><path d="M359.7,64 L359.7,47 C359.9,43.5 361.8,41.6 364,41.6 C366.2,41.6 368.1,43.5 368.3,47 L368.3,64" fill="none" stroke="#fffbe6" stroke-width="1.7"/><path d="M355,35.6 Q364,32 373.5,35.6" stroke="#ff3000" stroke-width="1.4" fill="none"/><g transform="translate(0,145.5) scale(1,-1)"><path d="M353.4,71 C352.6,62 352.4,52 352.8,45 C354,37 359,34.2 364,34.2 C369,34.2 374,37 375.2,45 C375.6,52 375.4,62 374.6,71 C373.8,66 372.6,62 372.2,58 L371.6,48 C371,42.5 368,39.2 364,39.2 C360,39.2 357,42.5 356.4,48 L355.8,58 C355.4,62 354.2,66 353.4,71 Z" fill="#ff2400"/><path d="M357.2,68.5 L357,47 C357.4,41 360.4,37.8 364,37.8 C367.6,37.8 370.6,41 371,47 L370.8,68.5 C370,64 369.4,61 369.2,58 L369,47.5 C368.8,43.5 366.6,41.2 364,41.2 C361.4,41.2 359.2,43.5 359,47.5 L358.8,58 C358.6,61 358,64 357.2,68.5 Z" fill="#ffd820"/><path d="M359.7,64 L359.7,47 C359.9,43.5 361.8,41.6 364,41.6 C366.2,41.6 368.1,43.5 368.3,47 L368.3,64" fill="none" stroke="#fffbe6" stroke-width="1.7"/><path d="M355,35.6 Q364,32 373.5,35.6" stroke="#ff3000" stroke-width="1.4" fill="none"/></g></g>
<rect x="360.8" y="42.3" width="6.4" height="61" rx="3.2" fill="#000"/>
<rect x="362" y="29.5" width="6" height="1.5" fill="#40d8e8"/>
<text x="386.8" y="47.3" font-size="15" font-weight="bold">|E|</text>
<line x1="421" y1="45" x2="384" y2="65" stroke="#000" stroke-width="1.6" stroke-dasharray="5,3"/>
<polygon points="380,67.5 388,60 390,66" fill="#000"/>
<path d="M333.60,150.60 L334.52,150.31 L335.71,149.94 L337.12,149.50 L338.71,149.01 L340.43,148.45 L342.21,147.85 L344.02,147.19 L345.80,146.50 L347.60,145.76 L349.50,144.98 L351.46,144.15 L353.48,143.26 L355.52,142.33 L357.57,141.34 L359.60,140.30 L361.60,139.20 L363.58,138.07 L365.55,136.93 L367.53,135.75 L369.50,134.51 L371.48,133.19 L373.45,131.76 L375.43,130.21 L377.40,128.50 L379.38,126.67 L381.35,124.74 L383.32,122.71 L385.30,120.56 L387.27,118.29 L389.25,115.88 L391.22,113.32 L393.20,110.60 L395.22,107.60 L397.30,104.29 L399.40,100.75 L401.49,97.12 L403.54,93.49 L405.49,89.97 L407.33,86.67 L409.00,83.70 L410.50,80.99 L411.86,78.41 L413.09,75.97 L414.24,73.67 L415.33,71.55 L416.39,69.60 L417.43,67.85 L418.50,66.30 L419.55,64.94 L420.55,63.75 L421.51,62.73 L422.46,61.91 L423.40,61.27 L424.36,60.84 L425.35,60.61 L426.40,60.60 L427.51,60.81 L428.68,61.24 L429.88,61.87 L431.10,62.71 L432.32,63.73 L433.52,64.95 L434.69,66.34 L435.80,67.90 L436.86,69.67 L437.88,71.68 L438.87,73.90 L439.84,76.28 L440.80,78.81 L441.76,81.44 L442.72,84.15 L443.70,86.90 L444.69,89.78 L445.68,92.87 L446.66,96.10 L447.65,99.40 L448.64,102.71 L449.62,105.98 L450.61,109.13 L451.60,112.10 L452.59,114.95 L453.58,117.76 L454.56,120.51 L455.55,123.19 L456.54,125.76 L457.53,128.22 L458.51,130.54 L459.50,132.70 L460.43,134.67 L461.29,136.45 L462.12,138.08 L462.96,139.59 L463.86,141.04 L464.87,142.44 L466.03,143.85 L467.40,145.30 L469.00,146.80 L470.79,148.33 L472.75,149.85 L474.81,151.34 L476.93,152.77 L479.06,154.11 L481.17,155.33 L483.20,156.40 L485.18,157.31 L487.15,158.09 L489.12,158.75 L491.10,159.31 L493.07,159.81 L495.05,160.26 L497.02,160.68 L499.00,161.10 L500.99,161.49 L502.99,161.83 L505.00,162.12 L507.00,162.37 L508.99,162.60 L510.96,162.81 L512.90,163.00 L514.80,163.20 L516.75,163.39 L518.80,163.57 L520.87,163.73 L522.89,163.88 L524.79,164.01 L526.49,164.13 L527.92,164.22 L529.00,164.30" fill="none" stroke="#1c2a8c" stroke-width="1.6"/>
<path d="M333.60,148.20 L334.52,147.88 L335.71,147.49 L337.12,147.03 L338.71,146.49 L340.43,145.90 L342.21,145.25 L344.02,144.55 L345.80,143.80 L347.60,143.00 L349.50,142.15 L351.46,141.23 L353.48,140.27 L355.52,139.25 L357.57,138.18 L359.60,137.06 L361.60,135.90 L363.58,134.73 L365.55,133.57 L367.53,132.38 L369.50,131.14 L371.48,129.79 L373.45,128.31 L375.43,126.66 L377.40,124.80 L379.38,122.75 L381.35,120.56 L383.32,118.22 L385.30,115.74 L387.27,113.10 L389.25,110.32 L391.22,107.39 L393.20,104.30 L395.22,100.94 L397.30,97.26 L399.40,93.36 L401.49,89.35 L403.54,85.32 L405.49,81.39 L407.33,77.65 L409.00,74.20 L410.49,70.97 L411.83,67.83 L413.05,64.80 L414.18,61.90 L415.25,59.16 L416.31,56.59 L417.38,54.23 L418.50,52.10 L419.65,50.13 L420.80,48.26 L421.94,46.55 L423.07,45.04 L424.20,43.78 L425.31,42.82 L426.41,42.21 L427.50,42.00 L428.57,42.21 L429.63,42.82 L430.68,43.78 L431.72,45.04 L432.75,46.55 L433.77,48.26 L434.79,50.13 L435.80,52.10 L436.81,54.24 L437.80,56.63 L438.79,59.23 L439.78,62.00 L440.76,64.92 L441.73,67.94 L442.72,71.05 L443.70,74.20 L444.69,77.50 L445.68,81.03 L446.66,84.70 L447.65,88.45 L448.64,92.20 L449.62,95.88 L450.61,99.40 L451.60,102.70 L452.59,105.82 L453.58,108.86 L454.56,111.80 L455.55,114.64 L456.54,117.37 L457.53,119.98 L458.51,122.46 L459.50,124.80 L460.43,126.96 L461.29,128.94 L462.12,130.77 L462.96,132.49 L463.86,134.14 L464.87,135.75 L466.03,137.36 L467.40,139.00 L469.00,140.70 L470.79,142.42 L472.75,144.15 L474.81,145.83 L476.93,147.45 L479.06,148.97 L481.17,150.37 L483.20,151.60 L485.18,152.67 L487.15,153.59 L489.12,154.40 L491.10,155.10 L493.07,155.72 L495.05,156.28 L497.02,156.80 L499.00,157.30 L500.99,157.75 L502.99,158.12 L505.00,158.43 L507.00,158.69 L508.99,158.92 L510.96,159.12 L512.90,159.31 L514.80,159.50 L516.75,159.69 L518.80,159.86 L520.87,160.01 L522.89,160.14 L524.79,160.25 L526.49,160.35 L527.92,160.43 L529.00,160.50" fill="none" stroke="#000" stroke-width="2"/>
<path d="M333.60,166.20 L335.24,166.13 L337.42,166.06 L340.01,165.96 L342.90,165.86 L345.96,165.73 L349.08,165.58 L352.13,165.40 L355.00,165.20 L357.80,164.96 L360.68,164.70 L363.62,164.40 L366.55,164.09 L369.44,163.75 L372.24,163.41 L374.91,163.06 L377.40,162.70 L379.69,162.34 L381.81,161.98 L383.81,161.62 L385.71,161.24 L387.57,160.84 L389.40,160.42 L391.27,159.98 L393.20,159.50 L395.21,158.98 L397.26,158.41 L399.34,157.81 L401.40,157.19 L403.43,156.56 L405.39,155.95 L407.25,155.35 L409.00,154.80 L410.61,154.27 L412.12,153.74 L413.54,153.23 L414.89,152.73 L416.20,152.25 L417.47,151.80 L418.73,151.38 L420.00,151.00 L421.26,150.63 L422.48,150.27 L423.67,149.92 L424.84,149.60 L426.00,149.33 L427.16,149.13 L428.32,149.02 L429.50,149.00 L430.67,149.09 L431.80,149.27 L432.93,149.54 L434.06,149.88 L435.21,150.26 L436.41,150.69 L437.66,151.14 L439.00,151.60 L440.40,152.10 L441.86,152.65 L443.36,153.25 L444.91,153.87 L446.50,154.52 L448.15,155.16 L449.85,155.79 L451.60,156.40 L453.42,157.00 L455.33,157.62 L457.30,158.25 L459.31,158.86 L461.35,159.46 L463.39,160.02 L465.41,160.54 L467.40,161.00 L469.36,161.40 L471.30,161.74 L473.25,162.05 L475.19,162.32 L477.13,162.56 L479.08,162.78 L481.03,162.99 L483.00,163.20 L484.89,163.39 L486.64,163.56 L488.36,163.70 L490.10,163.83 L491.96,163.95 L494.01,164.06 L496.33,164.18 L499.00,164.30 L502.29,164.43 L506.22,164.56 L510.54,164.69 L515.00,164.82 L519.33,164.94 L523.28,165.04 L526.59,165.13 L529.00,165.20" fill="none" stroke="#d42020" stroke-width="1.5"/>
<path d="M333.60,166.20 L335.24,166.13 L337.42,166.06 L340.01,165.96 L342.90,165.86 L345.96,165.73 L349.08,165.58 L352.13,165.40 L355.00,165.20 L357.80,164.96 L360.68,164.70 L363.62,164.40 L366.55,164.09 L369.44,163.75 L372.24,163.41 L374.91,163.06 L377.40,162.70 L379.69,162.34 L381.81,161.98 L383.81,161.62 L385.71,161.24 L387.57,160.84 L389.40,160.42 L391.27,159.98 L393.20,159.50 L395.21,158.98 L397.26,158.41 L399.34,157.81 L401.40,157.19 L403.43,156.56 L405.39,155.95 L407.25,155.35 L409.00,154.80 L410.61,154.27 L412.12,153.74 L413.54,153.23 L414.89,152.73 L416.20,152.25 L417.47,151.80 L418.73,151.38 L420.00,151.00 L421.26,150.63 L422.48,150.27 L423.67,149.92 L424.84,149.60 L426.00,149.33 L427.16,149.13 L428.32,149.02 L429.50,149.00 L430.67,149.09 L431.80,149.27 L432.93,149.54 L434.06,149.88 L435.21,150.26 L436.41,150.69 L437.66,151.14 L439.00,151.60 L440.40,152.10 L441.86,152.65 L443.36,153.25 L444.91,153.87 L446.50,154.52 L448.15,155.16 L449.85,155.79 L451.60,156.40 L453.42,157.00 L455.33,157.62 L457.30,158.25 L459.31,158.86 L461.35,159.46 L463.39,160.02 L465.41,160.54 L467.40,161.00 L469.36,161.40 L471.30,161.74 L473.25,162.05 L475.19,162.32 L477.13,162.56 L479.08,162.78 L481.03,162.99 L483.00,163.20 L484.89,163.39 L486.64,163.56 L488.36,163.70 L490.10,163.83 L491.96,163.95 L494.01,164.06 L496.33,164.18 L499.00,164.30 L502.29,164.43 L506.22,164.56 L510.54,164.69 L515.00,164.82 L519.33,164.94 L523.28,165.04 L526.59,165.13 L529.00,165.20" fill="none" stroke="#552222" stroke-width="1.5" stroke-dasharray="3,6"/>
<circle cx="427.4" cy="41.8" r="2.5" fill="#e81010" stroke="#700" stroke-width="0.5"/>
<rect x="333.5" y="16.5" width="196.0" height="150.5" fill="none" stroke="#000" stroke-width="1.3"/>
<line x1="333.5" y1="167.0" x2="336.0" y2="167.0" stroke="#000"/><line x1="529.5" y1="167.0" x2="527.0" y2="167.0" stroke="#000"/>
<text class="s" x="330.3" y="171.2" font-size="12" font-weight="bold" text-anchor="end">0</text>
<line x1="333.5" y1="136.9" x2="336.0" y2="136.9" stroke="#000"/><line x1="529.5" y1="136.9" x2="527.0" y2="136.9" stroke="#000"/>
<text class="s" x="330.3" y="141.1" font-size="12" font-weight="bold" text-anchor="end">5</text>
<line x1="333.5" y1="106.8" x2="336.0" y2="106.8" stroke="#000"/><line x1="529.5" y1="106.8" x2="527.0" y2="106.8" stroke="#000"/>
<text class="s" x="330.3" y="111.0" font-size="12" font-weight="bold" text-anchor="end">10</text>
<line x1="333.5" y1="76.7" x2="336.0" y2="76.7" stroke="#000"/><line x1="529.5" y1="76.7" x2="527.0" y2="76.7" stroke="#000"/>
<text class="s" x="330.3" y="80.9" font-size="12" font-weight="bold" text-anchor="end">15</text>
<line x1="333.5" y1="46.6" x2="336.0" y2="46.6" stroke="#000"/><line x1="529.5" y1="46.6" x2="527.0" y2="46.6" stroke="#000"/>
<text class="s" x="330.3" y="50.8" font-size="12" font-weight="bold" text-anchor="end">20</text>
<line x1="333.5" y1="16.5" x2="336.0" y2="16.5" stroke="#000"/><line x1="529.5" y1="16.5" x2="527.0" y2="16.5" stroke="#000"/>
<text class="s" x="330.3" y="20.7" font-size="12" font-weight="bold" text-anchor="end">25</text>
<line x1="333.6" y1="167" x2="333.6" y2="164.5" stroke="#000"/><line x1="333.6" y1="16.5" x2="333.6" y2="19.0" stroke="#000"/>
<text class="s" x="333.6" y="181.5" font-size="12" font-weight="bold" text-anchor="middle">6</text>
<line x1="382.5" y1="167" x2="382.5" y2="164.5" stroke="#000"/><line x1="382.5" y1="16.5" x2="382.5" y2="19.0" stroke="#000"/>
<text class="s" x="382.5" y="181.5" font-size="12" font-weight="bold" text-anchor="middle">8</text>
<line x1="431.3" y1="167" x2="431.3" y2="164.5" stroke="#000"/><line x1="431.3" y1="16.5" x2="431.3" y2="19.0" stroke="#000"/>
<text class="s" x="431.3" y="181.5" font-size="12" font-weight="bold" text-anchor="middle">10</text>
<line x1="480.2" y1="167" x2="480.2" y2="164.5" stroke="#000"/><line x1="480.2" y1="16.5" x2="480.2" y2="19.0" stroke="#000"/>
<text class="s" x="480.2" y="181.5" font-size="12" font-weight="bold" text-anchor="middle">12</text>
<line x1="529.0" y1="167" x2="529.0" y2="164.5" stroke="#000"/><line x1="529.0" y1="16.5" x2="529.0" y2="19.0" stroke="#000"/>
<text class="s" x="529.0" y="181.5" font-size="12" font-weight="bold" text-anchor="middle">14</text>
<text x="431.5" y="197.5" font-size="15.5" font-weight="bold" text-anchor="middle">λ (<tspan font-style="italic">μ</tspan>m)</text>
<text transform="translate(312,93.5) rotate(-90)" font-size="14" font-weight="bold" text-anchor="middle">Cross section(<tspan font-style="italic">μ</tspan>m<tspan dy="-5" font-size="9">2</tspan><tspan dy="5">)</tspan></text>
<g class="s" font-size="11" fill="#000" stroke="#000" stroke-width="0.35"><text x="462.5" y="50">Absorption</text><text x="462.5" y="64">Scattering</text><text x="462.5" y="77">Extinction</text></g>
<line x1="457.5" y1="46.5" x2="462" y2="46.5" stroke="#d02020" stroke-width="1.4"/>
<line x1="457.5" y1="60.5" x2="462" y2="60.5" stroke="#1c2a8c" stroke-width="1.4"/>
<line x1="457.5" y1="73.5" x2="462" y2="73.5" stroke="#000" stroke-width="1.4"/>
<circle cx="482" cy="28" r="6" fill="none" stroke="#ddd" stroke-width="1" stroke-dasharray="2,2"/>
<text x="12.5" y="188.8" font-size="19.5" font-weight="bold">(c)</text>
<rect x="58.8" y="183.5" width="213.39999999999998" height="210.3" fill="none" stroke="#000" stroke-width="1.3"/>
<line x1="58.8" y1="386.5" x2="61.3" y2="386.5" stroke="#000"/><line x1="272.2" y1="386.5" x2="269.7" y2="386.5" stroke="#000"/>
<text class="s" x="53.8" y="390.7" font-size="12" font-weight="bold" text-anchor="end">0</text>
<line x1="58.8" y1="346.1" x2="61.3" y2="346.1" stroke="#000"/><line x1="272.2" y1="346.1" x2="269.7" y2="346.1" stroke="#000"/>
<text class="s" x="53.8" y="350.3" font-size="12" font-weight="bold" text-anchor="end">5</text>
<line x1="58.8" y1="305.7" x2="61.3" y2="305.7" stroke="#000"/><line x1="272.2" y1="305.7" x2="269.7" y2="305.7" stroke="#000"/>
<text class="s" x="53.8" y="309.9" font-size="12" font-weight="bold" text-anchor="end">10</text>
<line x1="58.8" y1="265.3" x2="61.3" y2="265.3" stroke="#000"/><line x1="272.2" y1="265.3" x2="269.7" y2="265.3" stroke="#000"/>
<text class="s" x="53.8" y="269.5" font-size="12" font-weight="bold" text-anchor="end">15</text>
<line x1="58.8" y1="224.9" x2="61.3" y2="224.9" stroke="#000"/><line x1="272.2" y1="224.9" x2="269.7" y2="224.9" stroke="#000"/>
<text class="s" x="53.8" y="229.1" font-size="12" font-weight="bold" text-anchor="end">20</text>
<line x1="58.8" y1="184.5" x2="61.3" y2="184.5" stroke="#000"/><line x1="272.2" y1="184.5" x2="269.7" y2="184.5" stroke="#000"/>
<text class="s" x="53.8" y="188.7" font-size="12" font-weight="bold" text-anchor="end">25</text>
<line x1="58.8" y1="393.8" x2="58.8" y2="391.3" stroke="#000"/><line x1="58.8" y1="183.5" x2="58.8" y2="186.0" stroke="#000"/>
<text class="s" x="58.8" y="411" font-size="12" font-weight="bold" text-anchor="middle">9</text>
<line x1="101.4" y1="393.8" x2="101.4" y2="391.3" stroke="#000"/><line x1="101.4" y1="183.5" x2="101.4" y2="186.0" stroke="#000"/>
<text class="s" x="101.4" y="411" font-size="12" font-weight="bold" text-anchor="middle">9.5</text>
<line x1="144.0" y1="393.8" x2="144.0" y2="391.3" stroke="#000"/><line x1="144.0" y1="183.5" x2="144.0" y2="186.0" stroke="#000"/>
<text class="s" x="144.0" y="411" font-size="12" font-weight="bold" text-anchor="middle">10</text>
<line x1="186.6" y1="393.8" x2="186.6" y2="391.3" stroke="#000"/><line x1="186.6" y1="183.5" x2="186.6" y2="186.0" stroke="#000"/>
<text class="s" x="186.6" y="411" font-size="12" font-weight="bold" text-anchor="middle">10.5</text>
<line x1="229.2" y1="393.8" x2="229.2" y2="391.3" stroke="#000"/><line x1="229.2" y1="183.5" x2="229.2" y2="186.0" stroke="#000"/>
<text class="s" x="229.2" y="411" font-size="12" font-weight="bold" text-anchor="middle">11</text>
<line x1="271.8" y1="393.8" x2="271.8" y2="391.3" stroke="#000"/><line x1="271.8" y1="183.5" x2="271.8" y2="186.0" stroke="#000"/>
<text class="s" x="271.8" y="411" font-size="12" font-weight="bold" text-anchor="middle">11.5</text>
<text x="166.5" y="428.5" font-size="15.5" font-weight="bold" text-anchor="middle">λ (<tspan font-style="italic">μ</tspan>m)</text>
<text transform="translate(37,291) rotate(-90)" font-size="13.5" font-weight="bold" text-anchor="middle">Directivity (dB)</text>
<clipPath id="c1"><circle cx="108" cy="230.6" r="32.5"/></clipPath>
<g clip-path="url(#c1)"><circle cx="108" cy="230.6" r="33.5" fill="#0a2cff"/><g filter="url(#bl15)"><circle cx="108" cy="230.6" r="26.5" fill="#40dcff"/><rect x="99" y="207.5" width="18.5" height="9.5" rx="4.5" fill="#0a3cff"/><rect x="99" y="244" width="18.5" height="9.5" rx="4.5" fill="#0a3cff"/><ellipse cx="130.5" cy="231.5" rx="6" ry="16.5" fill="#80f060"/><ellipse cx="130.8" cy="231.5" rx="2.6" ry="8" fill="#f0f020"/><rect x="89" y="218.5" width="31" height="24.5" rx="6" fill="#f6f020"/><rect x="89" y="218.5" width="31" height="24.5" rx="6" fill="none" stroke="#a0f060" stroke-width="1.2"/><ellipse cx="110.5" cy="231" rx="9.5" ry="3.8" fill="#70f070"/><ellipse cx="87" cy="230.6" rx="9" ry="17.5" fill="#ffa000"/><ellipse cx="86.3" cy="230.6" rx="6.8" ry="15.5" fill="#ff1800"/><ellipse cx="84.2" cy="229.5" rx="2.2" ry="7" fill="#200000"/></g></g>
<circle cx="108" cy="230.6" r="32.8" fill="none" stroke="#000" stroke-width="1.6"/>
<clipPath id="c2"><circle cx="231" cy="227.4" r="31.299999999999997"/></clipPath>
<g clip-path="url(#c2)"><circle cx="231" cy="227.4" r="32.3" fill="#0a2af5"/><g filter="url(#bl15)"><ellipse cx="232" cy="226.4" rx="12" ry="6.5" fill="#38c8ff"/><ellipse cx="243" cy="228.4" rx="5" ry="5" fill="#30b8ff"/><ellipse cx="251.5" cy="222.4" rx="4.5" ry="13" fill="#38c0ff"/><ellipse cx="220" cy="211.4" rx="7" ry="4.5" fill="#2a98ff"/><ellipse cx="210" cy="228.4" rx="8.5" ry="17.5" fill="#30d0ff"/><ellipse cx="209.5" cy="228.4" rx="7" ry="16" fill="#90f060"/><ellipse cx="209" cy="228.4" rx="6" ry="14.5" fill="#ffd000"/><ellipse cx="208.5" cy="228.4" rx="4.6" ry="13" fill="#ff1a00"/><ellipse cx="207.5" cy="228.9" rx="1.7" ry="8.5" fill="#200000"/><circle cx="220" cy="227.4" r="2.5" fill="#90ff40"/></g></g>
<circle cx="231" cy="227.4" r="31.599999999999998" fill="none" stroke="#000" stroke-width="1.6"/>
<clipPath id="c3"><circle cx="174" cy="353.5" r="31.299999999999997"/></clipPath>
<g clip-path="url(#c3)"><circle cx="174" cy="353.5" r="32.3" fill="url(#g3)"/><g filter="url(#bl15)"><ellipse cx="165" cy="353.5" rx="9" ry="11" fill="#28a8ff" opacity="0.9"/><ellipse cx="163" cy="353.5" rx="10" ry="4" fill="#30c0ff"/><ellipse cx="154" cy="353.5" rx="10" ry="20" fill="#30d0ff"/><ellipse cx="153" cy="353.5" rx="8.5" ry="18" fill="#70f060"/><ellipse cx="152" cy="353.5" rx="7.3" ry="16.5" fill="#f0e020"/><ellipse cx="151" cy="353.5" rx="5.8" ry="14.5" fill="#ff1a00"/><ellipse cx="150" cy="353.0" rx="2.2" ry="8.5" fill="#200000"/></g></g>
<circle cx="174" cy="353.5" r="31.599999999999998" fill="none" stroke="#000" stroke-width="1.6"/>
<path d="M58.80,372.35 L59.15,372.25 L59.51,372.15 L59.86,372.05 L60.22,371.94 L60.58,371.84 L60.93,371.74 L61.29,371.63 L61.64,371.53 L61.99,371.42 L62.35,371.31 L62.70,371.20 L63.06,371.10 L63.42,370.99 L63.77,370.88 L64.12,370.77 L64.48,370.66 L64.83,370.54 L65.19,370.43 L65.55,370.32 L65.90,370.20 L66.26,370.09 L66.61,369.97 L66.96,369.86 L67.32,369.74 L67.67,369.62 L68.03,369.50 L68.39,369.38 L68.74,369.26 L69.10,369.14 L69.45,369.02 L69.80,368.90 L70.16,368.78 L70.51,368.65 L70.87,368.53 L71.23,368.40 L71.58,368.27 L71.94,368.15 L72.29,368.02 L72.64,367.89 L73.00,367.76 L73.35,367.63 L73.71,367.49 L74.07,367.36 L74.42,367.23 L74.78,367.09 L75.13,366.96 L75.48,366.82 L75.84,366.68 L76.20,366.54 L76.55,366.40 L76.91,366.26 L77.26,366.12 L77.61,365.98 L77.97,365.84 L78.32,365.69 L78.68,365.55 L79.04,365.40 L79.39,365.25 L79.75,365.10 L80.10,364.95 L80.45,364.80 L80.81,364.65 L81.16,364.50 L81.52,364.35 L81.88,364.19 L82.23,364.03 L82.59,363.88 L82.94,363.72 L83.29,363.56 L83.65,363.40 L84.00,363.24 L84.36,363.08 L84.72,362.91 L85.07,362.75 L85.42,362.58 L85.78,362.41 L86.13,362.24 L86.49,362.07 L86.85,361.90 L87.20,361.73 L87.56,361.56 L87.91,361.38 L88.26,361.21 L88.62,361.03 L88.97,360.85 L89.33,360.67 L89.69,360.49 L90.04,360.31 L90.40,360.12 L90.75,359.94 L91.10,359.75 L91.46,359.56 L91.81,359.37 L92.17,359.18 L92.53,358.99 L92.88,358.79 L93.24,358.60 L93.59,358.40 L93.94,358.20 L94.30,358.00 L94.65,357.80 L95.01,357.60 L95.37,357.39 L95.72,357.19 L96.07,356.98 L96.43,356.77 L96.78,356.56 L97.14,356.35 L97.50,356.14 L97.85,355.92 L98.21,355.70 L98.56,355.48 L98.91,355.26 L99.27,355.04 L99.62,354.82 L99.98,354.59 L100.34,354.36 L100.69,354.13 L101.05,353.90 L101.40,353.67 L101.75,353.44 L102.11,353.20 L102.46,352.96 L102.82,352.72 L103.18,352.48 L103.53,352.23 L103.89,351.99 L104.24,351.74 L104.59,351.49 L104.95,351.24 L105.30,350.98 L105.66,350.73 L106.02,350.47 L106.37,350.21 L106.72,349.95 L107.08,349.68 L107.43,349.41 L107.79,349.15 L108.15,348.87 L108.50,348.60 L108.86,348.33 L109.21,348.05 L109.56,347.77 L109.92,347.49 L110.27,347.20 L110.63,346.91 L110.99,346.62 L111.34,346.33 L111.70,346.04 L112.05,345.74 L112.40,345.44 L112.76,345.14 L113.11,344.84 L113.47,344.53 L113.83,344.22 L114.18,343.91 L114.54,343.59 L114.89,343.27 L115.24,342.95 L115.60,342.63 L115.95,342.30 L116.31,341.98 L116.67,341.64 L117.02,341.31 L117.38,340.97 L117.73,340.63 L118.08,340.29 L118.44,339.94 L118.80,339.59 L119.15,339.24 L119.51,338.88 L119.86,338.53 L120.21,338.16 L120.57,337.80 L120.92,337.43 L121.28,337.06 L121.64,336.68 L121.99,336.30 L122.35,335.92 L122.70,335.54 L123.05,335.15 L123.41,334.75 L123.76,334.36 L124.12,333.96 L124.48,333.55 L124.83,333.15 L125.19,332.73 L125.54,332.32 L125.89,331.90 L126.25,331.48 L126.60,331.05 L126.96,330.62 L127.32,330.18 L127.67,329.74 L128.03,329.30 L128.38,328.85 L128.73,328.40 L129.09,327.94 L129.45,327.48 L129.80,327.02 L130.16,326.55 L130.51,326.07 L130.87,325.59 L131.22,325.11 L131.57,324.62 L131.93,324.13 L132.29,323.63 L132.64,323.12 L133.00,322.61 L133.35,322.10 L133.70,321.58 L134.06,321.05 L134.41,320.52 L134.77,319.99 L135.13,319.45 L135.48,318.90 L135.84,318.35 L136.19,317.79 L136.54,317.22 L136.90,316.65 L137.25,316.08 L137.61,315.49 L137.97,314.90 L138.32,314.31 L138.68,313.71 L139.03,313.10 L139.38,312.48 L139.74,311.86 L140.10,311.23 L140.45,310.60 L140.81,309.95 L141.16,309.30 L141.51,308.64 L141.87,307.98 L142.22,307.31 L142.58,306.63 L142.94,305.94 L143.29,305.24 L143.65,304.54 L144.00,303.82 L144.35,303.10 L144.71,302.37 L145.06,301.63 L145.42,300.89 L145.78,300.13 L146.13,299.37 L146.49,298.59 L146.84,297.81 L147.19,297.01 L147.55,296.21 L147.91,295.40 L148.26,294.57 L148.62,293.74 L148.97,292.90 L149.32,292.04 L149.68,291.18 L150.03,290.30 L150.39,289.41 L150.74,288.51 L151.10,287.60 L151.46,286.68 L151.81,285.74 L152.16,284.80 L152.52,283.84 L152.87,282.87 L153.23,281.88 L153.59,280.89 L153.94,279.88 L154.30,278.85 L154.65,277.82 L155.00,276.77 L155.36,275.70 L155.71,274.62 L156.07,273.53 L156.43,272.43 L156.78,271.31 L157.13,270.17 L157.49,269.02 L157.84,267.86 L158.20,266.68 L158.56,265.49 L158.91,264.28 L159.27,263.06 L159.62,261.82 L159.97,260.57 L160.33,259.31 L160.68,258.03 L161.04,256.74 L161.39,255.44 L161.75,254.12 L162.11,252.80 L162.46,251.46 L162.81,250.11 L163.17,248.76 L163.52,247.40 L163.88,246.03 L164.24,244.66 L164.59,243.28 L164.95,241.91 L165.30,240.54 L165.65,239.18 L166.01,237.82 L166.36,236.47 L166.72,235.14 L167.08,233.83 L167.43,232.55 L167.79,231.29 L168.14,230.07 L168.49,228.88 L168.85,227.74 L169.21,226.66 L169.56,225.62 L169.92,224.66 L170.27,223.76 L170.62,222.94 L170.98,222.20 L171.33,221.55 L171.69,220.99 L172.04,220.54 L172.40,220.18 L172.76,219.93 L173.11,219.79 L173.46,219.75 L173.82,219.83 L174.17,220.02 L174.53,220.31 L174.89,220.71 L175.24,221.21 L175.60,221.80 L175.95,222.49 L176.30,223.26 L176.66,224.11 L177.01,225.04 L177.37,226.03 L177.73,227.08 L178.08,228.19 L178.44,229.35 L178.79,230.55 L179.14,231.79 L179.50,233.06 L179.86,234.36 L180.21,235.67 L180.57,237.01 L180.92,238.36 L181.28,239.72 L181.63,241.09 L181.98,242.46 L182.34,243.83 L182.69,245.21 L183.05,246.58 L183.41,247.94 L183.76,249.30 L184.12,250.65 L184.47,251.99 L184.82,253.33 L185.18,254.65 L185.54,255.96 L185.89,257.26 L186.25,258.54 L186.60,259.81 L186.95,261.07 L187.31,262.32 L187.66,263.55 L188.02,264.76 L188.38,265.97 L188.73,267.15 L189.09,268.32 L189.44,269.48 L189.79,270.63 L190.15,271.76 L190.51,272.87 L190.86,273.97 L191.22,275.06 L191.57,276.13 L191.93,277.19 L192.28,278.23 L192.63,279.26 L192.99,280.28 L193.34,281.29 L193.70,282.28 L194.06,283.26 L194.41,284.22 L194.76,285.18 L195.12,286.12 L195.47,287.05 L195.83,287.97 L196.19,288.87 L196.54,289.77 L196.90,290.65 L197.25,291.52 L197.60,292.38 L197.96,293.23 L198.31,294.07 L198.67,294.90 L199.03,295.72 L199.38,296.53 L199.74,297.33 L200.09,298.12 L200.44,298.90 L200.80,299.67 L201.16,300.44 L201.51,301.19 L201.87,301.93 L202.22,302.67 L202.57,303.39 L202.93,304.11 L203.28,304.82 L203.64,305.52 L203.99,306.21 L204.35,306.90 L204.71,307.58 L205.06,308.25 L205.41,308.91 L205.77,309.56 L206.12,310.21 L206.48,310.85 L206.84,311.48 L207.19,312.11 L207.55,312.73 L207.90,313.34 L208.25,313.95 L208.61,314.55 L208.96,315.14 L209.32,315.73 L209.68,316.31 L210.03,316.88 L210.38,317.45 L210.74,318.01 L211.09,318.57 L211.45,319.12 L211.81,319.66 L212.16,320.20 L212.52,320.74 L212.87,321.27 L213.23,321.79 L213.58,322.31 L213.93,322.82 L214.29,323.32 L214.64,323.83 L215.00,324.32 L215.36,324.82 L215.71,325.30 L216.06,325.79 L216.42,326.26 L216.77,326.74 L217.13,327.20 L217.49,327.67 L217.84,328.13 L218.20,328.58 L218.55,329.03 L218.90,329.48 L219.26,329.92 L219.61,330.36 L219.97,330.79 L220.33,331.22 L220.68,331.65 L221.04,332.07 L221.39,332.49 L221.74,332.90 L222.10,333.31 L222.46,333.72 L222.81,334.12 L223.17,334.52 L223.52,334.91 L223.88,335.30 L224.23,335.69 L224.58,336.07 L224.94,336.46 L225.29,336.83 L225.65,337.21 L226.01,337.58 L226.36,337.94 L226.71,338.31 L227.07,338.67 L227.42,339.03 L227.78,339.38 L228.14,339.73 L228.49,340.08 L228.85,340.43 L229.20,340.77 L229.56,341.11 L229.91,341.44 L230.26,341.78 L230.62,342.11 L230.98,342.43 L231.33,342.76 L231.69,343.08 L232.04,343.40 L232.39,343.72 L232.75,344.03 L233.11,344.34 L233.46,344.65 L233.82,344.96 L234.17,345.26 L234.52,345.56 L234.88,345.86 L235.23,346.16 L235.59,346.45 L235.94,346.74 L236.30,347.03 L236.66,347.31 L237.01,347.60 L237.37,347.88 L237.72,348.16 L238.07,348.44 L238.43,348.71 L238.79,348.98 L239.14,349.25 L239.50,349.52 L239.85,349.79 L240.20,350.05 L240.56,350.31 L240.91,350.57 L241.27,350.83 L241.63,351.08 L241.98,351.34 L242.34,351.59 L242.69,351.84 L243.04,352.09 L243.40,352.33 L243.76,352.57 L244.11,352.82 L244.47,353.06 L244.82,353.29 L245.18,353.53 L245.53,353.76 L245.88,354.00 L246.24,354.23 L246.59,354.45 L246.95,354.68 L247.31,354.91 L247.66,355.13 L248.01,355.35 L248.37,355.57 L248.72,355.79 L249.08,356.01 L249.44,356.22 L249.79,356.43 L250.15,356.65 L250.50,356.86 L250.85,357.06 L251.21,357.27 L251.56,357.48 L251.92,357.68 L252.28,357.88 L252.63,358.08 L252.99,358.28 L253.34,358.48 L253.69,358.68 L254.05,358.87 L254.41,359.06 L254.76,359.26 L255.12,359.45 L255.47,359.64 L255.82,359.82 L256.18,360.01 L256.53,360.19 L256.89,360.38 L257.24,360.56 L257.60,360.74 L257.96,360.92 L258.31,361.10 L258.67,361.28 L259.02,361.45 L259.37,361.63 L259.73,361.80 L260.09,361.97 L260.44,362.14 L260.80,362.31 L261.15,362.48 L261.50,362.65 L261.86,362.81 L262.21,362.98 L262.57,363.14 L262.93,363.30 L263.28,363.46 L263.63,363.62 L263.99,363.78 L264.34,363.94 L264.70,364.10 L265.06,364.25 L265.41,364.41 L265.77,364.56 L266.12,364.71 L266.48,364.86 L266.83,365.01 L267.18,365.16 L267.54,365.31 L267.89,365.46 L268.25,365.60 L268.61,365.75 L268.96,365.89 L269.31,366.04 L269.67,366.18 L270.02,366.32 L270.38,366.46 L270.74,366.60 L271.09,366.74 L271.45,366.87 L271.80,367.01" fill="none" stroke="#000" stroke-width="1.8" stroke-dasharray="6,4"/>
<path d="M58.80,377.06 L59.15,376.97 L59.51,376.89 L59.86,376.80 L60.22,376.72 L60.58,376.63 L60.93,376.55 L61.29,376.46 L61.64,376.37 L61.99,376.28 L62.35,376.19 L62.70,376.10 L63.06,376.01 L63.42,375.92 L63.77,375.83 L64.12,375.74 L64.48,375.64 L64.83,375.55 L65.19,375.46 L65.55,375.36 L65.90,375.27 L66.26,375.17 L66.61,375.07 L66.96,374.98 L67.32,374.88 L67.67,374.78 L68.03,374.68 L68.39,374.58 L68.74,374.48 L69.10,374.37 L69.45,374.27 L69.80,374.17 L70.16,374.06 L70.51,373.96 L70.87,373.85 L71.23,373.75 L71.58,373.64 L71.94,373.53 L72.29,373.42 L72.64,373.31 L73.00,373.20 L73.35,373.09 L73.71,372.98 L74.07,372.87 L74.42,372.75 L74.78,372.64 L75.13,372.53 L75.48,372.41 L75.84,372.29 L76.20,372.17 L76.55,372.06 L76.91,371.94 L77.26,371.82 L77.61,371.69 L77.97,371.57 L78.32,371.45 L78.68,371.32 L79.04,371.20 L79.39,371.07 L79.75,370.95 L80.10,370.82 L80.45,370.69 L80.81,370.56 L81.16,370.43 L81.52,370.30 L81.88,370.16 L82.23,370.03 L82.59,369.89 L82.94,369.76 L83.29,369.62 L83.65,369.48 L84.00,369.34 L84.36,369.20 L84.72,369.06 L85.07,368.92 L85.42,368.78 L85.78,368.63 L86.13,368.49 L86.49,368.34 L86.85,368.19 L87.20,368.04 L87.56,367.89 L87.91,367.74 L88.26,367.59 L88.62,367.43 L88.97,367.28 L89.33,367.12 L89.69,366.96 L90.04,366.80 L90.40,366.64 L90.75,366.48 L91.10,366.32 L91.46,366.15 L91.81,365.99 L92.17,365.82 L92.53,365.65 L92.88,365.48 L93.24,365.31 L93.59,365.14 L93.94,364.97 L94.30,364.79 L94.65,364.61 L95.01,364.44 L95.37,364.26 L95.72,364.08 L96.07,363.89 L96.43,363.71 L96.78,363.52 L97.14,363.34 L97.50,363.15 L97.85,362.96 L98.21,362.76 L98.56,362.57 L98.91,362.38 L99.27,362.18 L99.62,361.98 L99.98,361.78 L100.34,361.58 L100.69,361.37 L101.05,361.17 L101.40,360.96 L101.75,360.75 L102.11,360.54 L102.46,360.33 L102.82,360.12 L103.18,359.90 L103.53,359.68 L103.89,359.46 L104.24,359.24 L104.59,359.02 L104.95,358.79 L105.30,358.56 L105.66,358.33 L106.02,358.10 L106.37,357.87 L106.72,357.63 L107.08,357.39 L107.43,357.15 L107.79,356.91 L108.15,356.67 L108.50,356.42 L108.86,356.17 L109.21,355.92 L109.56,355.67 L109.92,355.41 L110.27,355.16 L110.63,354.89 L110.99,354.63 L111.34,354.37 L111.70,354.10 L112.05,353.83 L112.40,353.56 L112.76,353.28 L113.11,353.01 L113.47,352.73 L113.83,352.44 L114.18,352.16 L114.54,351.87 L114.89,351.58 L115.24,351.29 L115.60,350.99 L115.95,350.69 L116.31,350.39 L116.67,350.09 L117.02,349.78 L117.38,349.47 L117.73,349.16 L118.08,348.84 L118.44,348.52 L118.80,348.20 L119.15,347.87 L119.51,347.54 L119.86,347.21 L120.21,346.88 L120.57,346.54 L120.92,346.20 L121.28,345.85 L121.64,345.50 L121.99,345.15 L122.35,344.80 L122.70,344.44 L123.05,344.08 L123.41,343.71 L123.76,343.34 L124.12,342.97 L124.48,342.59 L124.83,342.21 L125.19,341.82 L125.54,341.43 L125.89,341.04 L126.25,340.64 L126.60,340.24 L126.96,339.84 L127.32,339.43 L127.67,339.01 L128.03,338.60 L128.38,338.17 L128.73,337.75 L129.09,337.32 L129.45,336.88 L129.80,336.44 L130.16,335.99 L130.51,335.54 L130.87,335.09 L131.22,334.63 L131.57,334.16 L131.93,333.69 L132.29,333.22 L132.64,332.74 L133.00,332.25 L133.35,331.76 L133.70,331.26 L134.06,330.76 L134.41,330.25 L134.77,329.74 L135.13,329.22 L135.48,328.69 L135.84,328.16 L136.19,327.62 L136.54,327.08 L136.90,326.53 L137.25,325.97 L137.61,325.41 L137.97,324.84 L138.32,324.26 L138.68,323.68 L139.03,323.09 L139.38,322.49 L139.74,321.88 L140.10,321.27 L140.45,320.65 L140.81,320.02 L141.16,319.38 L141.51,318.74 L141.87,318.09 L142.22,317.43 L142.58,316.76 L142.94,316.08 L143.29,315.40 L143.65,314.70 L144.00,314.00 L144.35,313.29 L144.71,312.56 L145.06,311.83 L145.42,311.09 L145.78,310.34 L146.13,309.57 L146.49,308.80 L146.84,308.02 L147.19,307.22 L147.55,306.42 L147.91,305.60 L148.26,304.77 L148.62,303.93 L148.97,303.08 L149.32,302.22 L149.68,301.34 L150.03,300.45 L150.39,299.54 L150.74,298.63 L151.10,297.70 L151.46,296.75 L151.81,295.79 L152.16,294.82 L152.52,293.83 L152.87,292.82 L153.23,291.80 L153.59,290.76 L153.94,289.70 L154.30,288.63 L154.65,287.54 L155.00,286.43 L155.36,285.31 L155.71,284.16 L156.07,283.00 L156.43,281.81 L156.78,280.61 L157.13,279.38 L157.49,278.13 L157.84,276.86 L158.20,275.57 L158.56,274.25 L158.91,272.91 L159.27,271.54 L159.62,270.15 L159.97,268.73 L160.33,267.29 L160.68,265.82 L161.04,264.32 L161.39,262.80 L161.75,261.24 L162.11,259.66 L162.46,258.04 L162.81,256.40 L163.17,254.72 L163.52,253.02 L163.88,251.28 L164.24,249.51 L164.59,247.71 L164.95,245.87 L165.30,244.01 L165.65,242.11 L166.01,240.19 L166.36,238.24 L166.72,236.26 L167.08,234.26 L167.43,232.24 L167.79,230.20 L168.14,228.15 L168.49,226.10 L168.85,224.04 L169.21,222.00 L169.56,219.97 L169.92,217.97 L170.27,216.02 L170.62,214.12 L170.98,212.30 L171.33,210.57 L171.69,208.96 L172.04,207.47 L172.40,206.14 L172.76,204.99 L173.11,204.03 L173.46,203.28 L173.82,202.76 L174.17,202.47 L174.53,202.41 L174.89,202.61 L175.24,203.05 L175.60,203.71 L175.95,204.60 L176.30,205.69 L176.66,206.96 L177.01,208.38 L177.37,209.95 L177.73,211.64 L178.08,213.43 L178.44,215.30 L178.79,217.23 L179.14,219.22 L179.50,221.23 L179.86,223.27 L180.21,225.32 L180.57,227.37 L180.92,229.42 L181.28,231.46 L181.63,233.49 L181.98,235.50 L182.34,237.48 L182.69,239.44 L183.05,241.37 L183.41,243.27 L183.76,245.14 L184.12,246.98 L184.47,248.79 L184.82,250.57 L185.18,252.32 L185.54,254.03 L185.89,255.71 L186.25,257.37 L186.60,258.99 L186.95,260.58 L187.31,262.14 L187.66,263.67 L188.02,265.17 L188.38,266.65 L188.73,268.10 L189.09,269.52 L189.44,270.91 L189.79,272.28 L190.15,273.63 L190.51,274.95 L190.86,276.24 L191.22,277.52 L191.57,278.77 L191.93,280.00 L192.28,281.20 L192.63,282.39 L192.99,283.56 L193.34,284.70 L193.70,285.83 L194.06,286.94 L194.41,288.03 L194.76,289.10 L195.12,290.16 L195.47,291.19 L195.83,292.21 L196.19,293.22 L196.54,294.21 L196.90,295.18 L197.25,296.14 L197.60,297.08 L197.96,298.01 L198.31,298.92 L198.67,299.83 L199.03,300.71 L199.38,301.59 L199.74,302.45 L200.09,303.30 L200.44,304.13 L200.80,304.96 L201.16,305.77 L201.51,306.57 L201.87,307.36 L202.22,308.14 L202.57,308.91 L202.93,309.67 L203.28,310.42 L203.64,311.15 L203.99,311.88 L204.35,312.60 L204.71,313.30 L205.06,314.00 L205.41,314.69 L205.77,315.37 L206.12,316.04 L206.48,316.71 L206.84,317.36 L207.19,318.01 L207.55,318.64 L207.90,319.27 L208.25,319.89 L208.61,320.51 L208.96,321.11 L209.32,321.71 L209.68,322.30 L210.03,322.89 L210.38,323.46 L210.74,324.03 L211.09,324.60 L211.45,325.15 L211.81,325.70 L212.16,326.24 L212.52,326.78 L212.87,327.31 L213.23,327.84 L213.58,328.35 L213.93,328.87 L214.29,329.37 L214.64,329.87 L215.00,330.37 L215.36,330.85 L215.71,331.34 L216.06,331.82 L216.42,332.29 L216.77,332.75 L217.13,333.22 L217.49,333.67 L217.84,334.12 L218.20,334.57 L218.55,335.01 L218.90,335.45 L219.26,335.88 L219.61,336.31 L219.97,336.73 L220.33,337.15 L220.68,337.56 L221.04,337.97 L221.39,338.38 L221.74,338.78 L222.10,339.17 L222.46,339.57 L222.81,339.95 L223.17,340.34 L223.52,340.72 L223.88,341.09 L224.23,341.47 L224.58,341.83 L224.94,342.20 L225.29,342.56 L225.65,342.92 L226.01,343.27 L226.36,343.62 L226.71,343.97 L227.07,344.31 L227.42,344.65 L227.78,344.98 L228.14,345.31 L228.49,345.64 L228.85,345.97 L229.20,346.29 L229.56,346.61 L229.91,346.93 L230.26,347.24 L230.62,347.55 L230.98,347.86 L231.33,348.16 L231.69,348.46 L232.04,348.76 L232.39,349.05 L232.75,349.35 L233.11,349.64 L233.46,349.92 L233.82,350.21 L234.17,350.49 L234.52,350.76 L234.88,351.04 L235.23,351.31 L235.59,351.58 L235.94,351.85 L236.30,352.12 L236.66,352.38 L237.01,352.64 L237.37,352.90 L237.72,353.15 L238.07,353.41 L238.43,353.66 L238.79,353.91 L239.14,354.15 L239.50,354.40 L239.85,354.64 L240.20,354.88 L240.56,355.11 L240.91,355.35 L241.27,355.58 L241.63,355.81 L241.98,356.04 L242.34,356.27 L242.69,356.49 L243.04,356.72 L243.40,356.94 L243.76,357.15 L244.11,357.37 L244.47,357.59 L244.82,357.80 L245.18,358.01 L245.53,358.22 L245.88,358.43 L246.24,358.63 L246.59,358.83 L246.95,359.04 L247.31,359.24 L247.66,359.43 L248.01,359.63 L248.37,359.82 L248.72,360.02 L249.08,360.21 L249.44,360.40 L249.79,360.59 L250.15,360.77 L250.50,360.96 L250.85,361.14 L251.21,361.32 L251.56,361.50 L251.92,361.68 L252.28,361.86 L252.63,362.03 L252.99,362.21 L253.34,362.38 L253.69,362.55 L254.05,362.72 L254.41,362.89 L254.76,363.06 L255.12,363.22 L255.47,363.39 L255.82,363.55 L256.18,363.71 L256.53,363.87 L256.89,364.03 L257.24,364.19 L257.60,364.34 L257.96,364.50 L258.31,364.65 L258.67,364.80 L259.02,364.95 L259.37,365.10 L259.73,365.25 L260.09,365.40 L260.44,365.54 L260.80,365.69 L261.15,365.83 L261.50,365.98 L261.86,366.12 L262.21,366.26 L262.57,366.40 L262.93,366.53 L263.28,366.67 L263.63,366.81 L263.99,366.94 L264.34,367.07 L264.70,367.21 L265.06,367.34 L265.41,367.47 L265.77,367.60 L266.12,367.73 L266.48,367.85 L266.83,367.98 L267.18,368.11 L267.54,368.23 L267.89,368.35 L268.25,368.48 L268.61,368.60 L268.96,368.72 L269.31,368.84 L269.67,368.96 L270.02,369.08 L270.38,369.19 L270.74,369.31 L271.09,369.42 L271.45,369.54 L271.80,369.65" fill="none" stroke="#000" stroke-width="2"/>
<circle cx="78" cy="259" r="4" fill="#1a1040"/>
<circle cx="202.6" cy="254.4" r="4" fill="#150808" stroke="#c04010" stroke-width="0.8"/>
<circle cx="175" cy="201" r="4" fill="#ff1818"/>
<circle cx="144.7" cy="381" r="4" fill="#ff1818"/>
<circle cx="229.3" cy="349" r="3.5" fill="#150808" stroke="#c04010" stroke-width="0.8"/>
<circle cx="102" cy="361.6" r="3.2" fill="#201050"/>
<rect x="282" y="213" width="6.6" height="154" fill="url(#jet)" stroke="#000" stroke-width="0.6"/>
<text x="276" y="206" font-size="14.5">|E|<tspan dy="-4.5" font-size="10" font-weight="bold">2</tspan></text>
<text x="293" y="219" font-size="11">1</text>
<text x="293" y="370" font-size="11">0</text>
<text x="304" y="202.3" font-size="19.5" font-weight="bold">(d)</text>
<path d="M325,292.8 A103.5,15 0 0 1 532,292.8" stroke="#1a1a1a" stroke-width="1.3" stroke-dasharray="1.3,1.3" fill="none"/>
<path d="M397,264 Q404,320 416,357" stroke="#000" stroke-width="2.3" stroke-dasharray="7,4" fill="none"/>
<path d="M428.50,249.60 L427.10,249.93 L425.13,250.37 L422.81,250.91 L420.37,251.50 L418.03,252.14 L416.00,252.80 L414.30,253.46 L412.74,254.15 L411.28,254.88 L409.87,255.67 L408.46,256.54 L407.00,257.50 L405.50,258.61 L404.00,259.85 L402.50,261.17 L401.00,262.51 L399.50,263.80 L398.00,265.00 L396.50,266.08 L395.00,267.07 L393.50,268.03 L392.00,268.98 L390.50,269.96 L389.00,271.00 L387.49,272.10 L385.96,273.22 L384.44,274.38 L382.93,275.56 L381.44,276.76 L380.00,278.00 L378.60,279.28 L377.22,280.61 L375.88,281.97 L374.56,283.33 L373.26,284.68 L372.00,286.00 L370.78,287.28 L369.59,288.56 L368.44,289.81 L367.30,291.06 L366.16,292.28 L365.00,293.50 L363.83,294.68 L362.67,295.81 L361.50,296.94 L360.33,298.07 L359.17,299.25 L358.00,300.50 L356.80,301.82 L355.57,303.20 L354.34,304.62 L353.15,306.07 L352.02,307.54 L351.00,309.00 L350.06,310.51 L349.17,312.07 L348.34,313.66 L347.61,315.20 L346.99,316.67 L346.50,318.00 L346.14,319.20 L345.91,320.31 L345.78,321.34 L345.76,322.30 L345.83,323.18 L346.00,324.00 L346.26,324.75 L346.63,325.43 L347.09,326.04 L347.65,326.59 L348.29,327.07 L349.00,327.50 L349.81,327.87 L350.74,328.19 L351.75,328.45 L352.81,328.64 L353.91,328.76 L355.00,328.80 L356.10,328.75 L357.22,328.62 L358.38,328.42 L359.56,328.16 L360.76,327.85 L362.00,327.50 L363.29,327.11 L364.63,326.65 L366.00,326.15 L367.37,325.61 L368.71,325.06 L370.00,324.50 L371.22,323.96 L372.41,323.42 L373.56,322.87 L374.70,322.27 L375.84,321.59 L377.00,320.80 L378.17,319.87 L379.33,318.81 L380.50,317.67 L381.67,316.50 L382.83,315.36 L384.00,314.30 L385.14,313.34 L386.26,312.44 L387.38,311.56 L388.52,310.67 L389.72,309.73 L391.00,308.70 L392.38,307.54 L393.85,306.29 L395.38,304.99 L396.93,303.67 L398.48,302.40 L400.00,301.20 L401.50,300.11 L403.00,299.10 L404.50,298.13 L406.00,297.15 L407.50,296.12 L409.00,295.00 L410.52,293.80 L412.07,292.57 L413.61,291.29 L415.13,289.94 L416.60,288.52 L418.00,287.00 L419.35,285.34 L420.67,283.54 L421.94,281.67 L423.13,279.78 L424.23,277.93 L425.20,276.20 L426.04,274.61 L426.77,273.11 L427.39,271.67 L427.93,270.22 L428.40,268.71 L428.80,267.10 L429.13,265.31 L429.38,263.37 L429.55,261.38 L429.66,259.43 L429.70,257.60 L429.70,256.00 L429.61,254.59 L429.41,253.28 L429.16,252.11 L428.89,251.09 L428.65,250.24 L428.50,249.60Z" fill="url(#lobe)"/>
<path d="M325,292.8 A103.5,15 0 0 0 532,292.8" stroke="#1a1a1a" stroke-width="1.3" stroke-dasharray="1.3,1.3" fill="none"/>
<ellipse cx="427" cy="336.5" rx="67" ry="8.8" stroke="#1a1a1a" stroke-width="1.3" stroke-dasharray="1.3,1.3" fill="none"/>
<path d="M315.5,247.5 A111.25,110.5 0 0 0 538,247.5" stroke="#000" stroke-width="2.3" stroke-dasharray="7,4" fill="none"/>
<ellipse cx="426.8" cy="248" rx="111.3" ry="16" stroke="#000" stroke-width="2.3" stroke-dasharray="7,4" fill="none"/>
<path d="M395,232 V262" stroke="#000" stroke-width="2.3" stroke-dasharray="7,4" fill="none"/>
<path d="M460,264 Q457,320 447,355" stroke="#000" stroke-width="2.3" stroke-dasharray="7,4" fill="none"/>
<path d="M429.5,258 V357" stroke="#000" stroke-width="2.3" stroke-dasharray="7,4" fill="none"/>
<g stroke="#000" stroke-width="1.4" fill="none"><path d="M428.5,250 V217"/><path d="M428.5,250 L483,245.8"/><path d="M428.5,250 L411.5,241.2"/><path d="M428.5,250 L455.7,263.2" stroke-width="1"/><path d="M455.7,263.2 V323" stroke-dasharray="1.2,1.4" stroke-width="1.1"/><path d="M428.5,250 L453.5,320" stroke-width="1.6"/><path d="M436,253 Q456,263 472,251" stroke-width="1.1"/><path d="M432,281 Q426,289 432,293" stroke-width="1.1"/></g>
<polygon points="428.5,210 425.5,218.5 431.5,218.5" fill="#000"/>
<polygon points="489.5,245.3 481,242.3 481.6,249" fill="#000"/>
<circle cx="410.5" cy="240.8" r="1.8" fill="#000"/>
<polygon points="454.8,325 450,316 457,314.5" fill="#000"/>
<text x="437.3" y="219" font-size="18" font-weight="bold">z</text>
<text x="493.3" y="250.8" font-size="17" font-weight="bold">x</text>
<text x="401.3" y="246" font-size="16" font-weight="bold">y</text>
<text x="469.5" y="260.5" font-size="15">φ</text>
<text x="432" y="306" font-size="15" font-style="italic">θ</text>
<g stroke="#e81818" stroke-width="2.2"><line x1="350.5" y1="351" x2="350.5" y2="367"/><line x1="350.5" y1="384" x2="350.5" y2="399"/></g>
<g fill="#e81818"><polygon points="346.5,365.5 354.5,365.5 350.5,374.5"/><polygon points="346.5,397.5 354.5,397.5 350.5,406.5"/></g>
<clipPath id="cb"><ellipse cx="428" cy="413.3" rx="110" ry="15.4"/></clipPath>
<ellipse cx="428" cy="413.3" rx="111.8" ry="16.8" fill="#05051a"/>
<g clip-path="url(#cb)"><rect x="310" y="390" width="240" height="50" fill="url(#gb)"/><g filter="url(#bl15)"><ellipse cx="430" cy="413" rx="112" ry="13" fill="none" stroke="#0838ff" stroke-width="3" opacity="0.8"/><ellipse cx="415" cy="412" rx="55" ry="7" fill="#1a70ff" opacity="0.85"/><ellipse cx="395" cy="414" rx="40" ry="4.5" fill="#30b8ff"/><ellipse cx="372" cy="415" rx="25" ry="6" fill="#30e0f0"/><ellipse cx="352" cy="414.5" rx="22" ry="8" fill="#60f060"/><ellipse cx="354" cy="415.5" rx="23" ry="7.3" fill="#f0e020" transform="rotate(13 354 415.5)"/><ellipse cx="354" cy="416" rx="20.5" ry="5.8" fill="#ff1a00" transform="rotate(15 354 416)"/><ellipse cx="351.5" cy="416.8" rx="9.5" ry="2.6" fill="#100000" transform="rotate(15 351.5 416.8)"/></g></g>
</g></svg></body></html>
